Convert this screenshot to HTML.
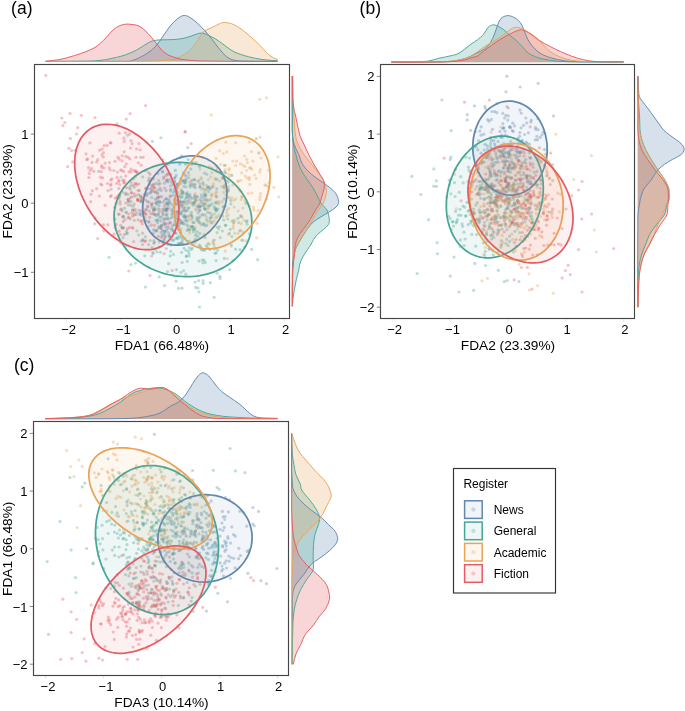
<!DOCTYPE html>
<html><head><meta charset="utf-8"><title>FDA plots</title>
<style>html,body{margin:0;padding:0;background:#fff;} svg{display:block;filter:blur(0.35px);} .n{fill:#6188AF;fill-opacity:0.36} .g{fill:#47A698;fill-opacity:0.36} .k{fill:#E8A457;fill-opacity:0.36} .f{fill:#E55C62;fill-opacity:0.36}</style></head>
<body><svg width="685" height="711" viewBox="0 0 685 711">
<rect width="685" height="711" fill="#fff"/>
<path d="M45.5,61.5 L45.5,61.4 C70.3,61.4 95.2,61.5 120.0,61.3 C123.8,61.3 127.8,61.8 131.4,60.8 C136.2,59.5 141.0,57.1 145.3,54.5 C149.0,52.3 152.5,49.6 155.5,46.5 C158.4,43.5 160.5,39.7 163.0,36.3 C165.4,32.9 167.5,29.3 170.1,26.1 C172.3,23.5 174.7,20.9 177.4,18.8 C179.4,17.3 181.8,15.6 184.1,15.4 C186.0,15.2 188.2,16.5 190.0,17.5 C192.6,19.0 195.0,21.1 197.3,23.1 C199.9,25.4 202.3,27.9 204.6,30.4 C207.2,33.2 209.5,36.2 211.9,39.2 C214.4,42.3 216.6,45.6 219.2,48.7 C221.5,51.5 223.7,54.5 226.5,56.7 C228.6,58.4 231.3,59.6 234.0,60.2 C238.5,61.1 243.3,61.1 248.0,61.2 C257.9,61.5 267.7,61.3 277.6,61.4 L277.6,61.5 Z" fill="#6188AF" fill-opacity="0.25" stroke="none"/>
<path d="M45.5,61.5 L45.5,61.4 C57.0,61.3 68.5,61.4 80.0,61.2 C86.7,61.1 93.4,61.2 100.0,60.4 C107.4,59.5 114.8,58.0 121.9,56.0 C126.9,54.6 131.8,52.4 136.5,50.1 C140.6,48.0 144.2,45.0 148.2,42.8 C149.8,41.9 151.5,41.1 153.3,40.7 C155.5,40.2 157.8,40.0 160.0,39.9 C165.0,39.6 170.0,39.9 175.0,39.5 C178.7,39.2 182.4,38.6 186.0,37.7 C188.7,37.1 191.3,35.8 194.0,35.0 C196.5,34.3 199.2,32.8 201.7,33.1 C205.2,33.5 208.6,35.4 211.9,37.0 C214.5,38.2 216.8,39.8 219.2,41.4 C224.1,44.7 228.6,48.9 233.8,51.6 C238.3,54.0 243.4,55.3 248.4,56.7 C253.2,58.0 258.1,58.9 263.0,59.6 C267.8,60.3 272.7,60.4 277.6,60.8 L277.6,61.5 Z" fill="#47A698" fill-opacity="0.25" stroke="none"/>
<path d="M45.5,61.5 L45.5,61.4 C80.3,61.3 115.2,61.5 150.0,61.2 C155.0,61.2 160.0,60.9 165.0,60.4 C168.4,60.1 171.8,59.9 175.0,58.9 C178.6,57.7 182.2,55.9 185.4,53.8 C188.4,51.8 191.1,49.2 193.4,46.5 C196.0,43.4 197.6,39.6 200.0,36.3 C201.4,34.4 202.7,32.3 204.6,30.9 C206.7,29.3 209.5,28.7 211.9,27.5 C214.3,26.3 216.7,24.9 219.2,23.9 C220.9,23.2 222.7,22.3 224.5,22.4 C227.6,22.5 230.9,23.4 233.8,24.6 C236.4,25.6 238.8,27.4 241.1,29.0 C243.6,30.8 246.0,32.8 248.4,34.8 C250.9,36.9 253.3,39.1 255.7,41.4 C258.2,43.8 260.6,46.3 263.0,48.7 C265.4,51.1 267.6,54.0 270.3,56.0 C272.4,57.6 275.2,58.4 277.6,59.6 L277.6,61.5 Z" fill="#E8A457" fill-opacity="0.25" stroke="none"/>
<path d="M45.5,61.5 L45.5,61.3 C50.3,60.7 55.2,60.4 60.0,59.5 C64.9,58.5 69.6,57.0 74.4,55.6 C78.3,54.4 82.2,53.1 86.0,51.6 C88.7,50.5 91.5,49.5 94.0,48.0 C96.3,46.7 98.5,45.0 100.5,43.2 C102.7,41.3 104.7,39.1 106.7,37.0 C108.5,35.1 110.1,32.9 112.0,31.0 C113.4,29.6 115.0,28.4 116.6,27.3 C118.0,26.4 119.5,25.7 121.0,25.2 C122.8,24.6 124.7,24.2 126.6,24.1 C128.7,24.0 130.9,24.3 133.0,24.6 C135.0,24.9 137.2,25.1 139.0,26.0 C141.2,27.1 143.2,28.8 145.0,30.5 C147.3,32.6 149.4,34.9 151.4,37.2 C153.0,39.1 154.5,41.1 156.0,43.0 C157.8,45.2 159.4,47.6 161.3,49.6 C162.7,51.1 164.3,52.3 166.0,53.5 C167.2,54.4 168.6,55.2 170.0,55.8 C173.2,57.1 176.6,58.2 180.0,59.0 C183.3,59.7 186.7,60.0 190.0,60.3 C193.3,60.6 196.7,60.8 200.0,60.9 C210.0,61.1 220.0,61.2 230.0,61.3 C245.9,61.4 261.7,61.3 277.6,61.3 L277.6,61.5 Z" fill="#E55C62" fill-opacity="0.25" stroke="none"/>
<path d="M45.5,61.4 C70.3,61.4 95.2,61.5 120.0,61.3 C123.8,61.3 127.8,61.8 131.4,60.8 C136.2,59.5 141.0,57.1 145.3,54.5 C149.0,52.3 152.5,49.6 155.5,46.5 C158.4,43.5 160.5,39.7 163.0,36.3 C165.4,32.9 167.5,29.3 170.1,26.1 C172.3,23.5 174.7,20.9 177.4,18.8 C179.4,17.3 181.8,15.6 184.1,15.4 C186.0,15.2 188.2,16.5 190.0,17.5 C192.6,19.0 195.0,21.1 197.3,23.1 C199.9,25.4 202.3,27.9 204.6,30.4 C207.2,33.2 209.5,36.2 211.9,39.2 C214.4,42.3 216.6,45.6 219.2,48.7 C221.5,51.5 223.7,54.5 226.5,56.7 C228.6,58.4 231.3,59.6 234.0,60.2 C238.5,61.1 243.3,61.1 248.0,61.2 C257.9,61.5 267.7,61.3 277.6,61.4" fill="none" stroke="#6188AF" stroke-width="0.95"/>
<path d="M45.5,61.4 C57.0,61.3 68.5,61.4 80.0,61.2 C86.7,61.1 93.4,61.2 100.0,60.4 C107.4,59.5 114.8,58.0 121.9,56.0 C126.9,54.6 131.8,52.4 136.5,50.1 C140.6,48.0 144.2,45.0 148.2,42.8 C149.8,41.9 151.5,41.1 153.3,40.7 C155.5,40.2 157.8,40.0 160.0,39.9 C165.0,39.6 170.0,39.9 175.0,39.5 C178.7,39.2 182.4,38.6 186.0,37.7 C188.7,37.1 191.3,35.8 194.0,35.0 C196.5,34.3 199.2,32.8 201.7,33.1 C205.2,33.5 208.6,35.4 211.9,37.0 C214.5,38.2 216.8,39.8 219.2,41.4 C224.1,44.7 228.6,48.9 233.8,51.6 C238.3,54.0 243.4,55.3 248.4,56.7 C253.2,58.0 258.1,58.9 263.0,59.6 C267.8,60.3 272.7,60.4 277.6,60.8" fill="none" stroke="#47A698" stroke-width="0.95"/>
<path d="M45.5,61.4 C80.3,61.3 115.2,61.5 150.0,61.2 C155.0,61.2 160.0,60.9 165.0,60.4 C168.4,60.1 171.8,59.9 175.0,58.9 C178.6,57.7 182.2,55.9 185.4,53.8 C188.4,51.8 191.1,49.2 193.4,46.5 C196.0,43.4 197.6,39.6 200.0,36.3 C201.4,34.4 202.7,32.3 204.6,30.9 C206.7,29.3 209.5,28.7 211.9,27.5 C214.3,26.3 216.7,24.9 219.2,23.9 C220.9,23.2 222.7,22.3 224.5,22.4 C227.6,22.5 230.9,23.4 233.8,24.6 C236.4,25.6 238.8,27.4 241.1,29.0 C243.6,30.8 246.0,32.8 248.4,34.8 C250.9,36.9 253.3,39.1 255.7,41.4 C258.2,43.8 260.6,46.3 263.0,48.7 C265.4,51.1 267.6,54.0 270.3,56.0 C272.4,57.6 275.2,58.4 277.6,59.6" fill="none" stroke="#E8A457" stroke-width="0.95"/>
<path d="M45.5,61.3 C50.3,60.7 55.2,60.4 60.0,59.5 C64.9,58.5 69.6,57.0 74.4,55.6 C78.3,54.4 82.2,53.1 86.0,51.6 C88.7,50.5 91.5,49.5 94.0,48.0 C96.3,46.7 98.5,45.0 100.5,43.2 C102.7,41.3 104.7,39.1 106.7,37.0 C108.5,35.1 110.1,32.9 112.0,31.0 C113.4,29.6 115.0,28.4 116.6,27.3 C118.0,26.4 119.5,25.7 121.0,25.2 C122.8,24.6 124.7,24.2 126.6,24.1 C128.7,24.0 130.9,24.3 133.0,24.6 C135.0,24.9 137.2,25.1 139.0,26.0 C141.2,27.1 143.2,28.8 145.0,30.5 C147.3,32.6 149.4,34.9 151.4,37.2 C153.0,39.1 154.5,41.1 156.0,43.0 C157.8,45.2 159.4,47.6 161.3,49.6 C162.7,51.1 164.3,52.3 166.0,53.5 C167.2,54.4 168.6,55.2 170.0,55.8 C173.2,57.1 176.6,58.2 180.0,59.0 C183.3,59.7 186.7,60.0 190.0,60.3 C193.3,60.6 196.7,60.8 200.0,60.9 C210.0,61.1 220.0,61.2 230.0,61.3 C245.9,61.4 261.7,61.3 277.6,61.3" fill="none" stroke="#E55C62" stroke-width="0.95"/>
<path d="M292.2,76.0 L292.2,76.0 C292.2,90.7 292.3,105.3 292.3,120.0 C292.3,125.0 292.0,130.0 292.4,135.0 C292.7,138.3 293.4,141.7 294.4,144.9 C295.5,148.3 297.4,151.4 298.8,154.7 C300.2,158.0 300.8,161.7 302.7,164.6 C305.1,168.2 308.3,171.5 311.6,174.4 C314.9,177.4 318.9,179.7 322.5,182.3 C324.8,183.9 327.2,185.4 329.3,187.2 C331.8,189.3 334.5,191.4 336.2,194.1 C337.6,196.2 338.4,199.0 338.6,201.5 C338.7,203.0 338.1,204.7 337.2,205.9 C336.0,207.5 334.0,208.7 332.3,209.9 C329.8,211.7 327.0,213.2 324.4,214.8 C321.8,216.4 319.0,217.9 316.5,219.7 C314.4,221.2 312.3,222.7 310.6,224.6 C308.0,227.6 305.9,231.1 303.7,234.5 C301.6,237.7 299.6,240.9 297.8,244.3 C296.6,246.5 295.5,248.8 294.9,251.2 C293.8,255.7 292.8,260.4 292.6,265.0 C291.9,278.7 292.3,292.5 292.2,306.3 L292.2,306.3 Z" fill="#6188AF" fill-opacity="0.25" stroke="none"/>
<path d="M292.2,76.0 L292.2,76.0 C292.2,94.0 292.0,112.0 292.3,130.0 C292.4,135.0 292.7,140.0 293.4,144.9 C293.9,148.2 295.0,151.4 295.9,154.7 C296.8,158.0 297.5,161.4 298.8,164.6 C300.1,168.0 301.8,171.3 303.7,174.4 C305.8,177.8 308.4,180.9 310.6,184.3 C312.7,187.5 314.7,190.8 316.5,194.1 C318.3,197.3 319.5,200.9 321.5,204.0 C323.0,206.2 325.8,207.6 326.9,209.9 C328.4,212.8 329.0,216.4 329.3,219.7 C329.5,221.3 329.2,223.2 328.4,224.6 C327.2,226.5 325.1,228.0 323.4,229.6 C321.5,231.3 319.3,232.7 317.5,234.5 C316.0,236.0 314.7,237.7 313.6,239.4 C312.6,240.9 312.0,242.7 311.1,244.3 C310.1,246.0 308.8,247.6 307.7,249.3 C306.0,251.9 304.2,254.4 302.7,257.1 C301.5,259.3 300.5,261.6 299.8,264.0 C299.2,265.9 299.2,268.0 298.8,269.9 C298.1,273.2 297.0,276.4 296.3,279.7 C295.6,283.0 295.0,286.3 294.4,289.6 C293.8,292.9 293.3,296.1 292.9,299.4 C292.6,301.7 292.6,304.0 292.4,306.3 L292.2,306.3 Z" fill="#47A698" fill-opacity="0.25" stroke="none"/>
<path d="M292.2,76.0 L292.8,76.0 C292.9,84.0 292.9,92.0 293.2,100.0 C293.4,106.7 293.8,113.3 294.2,120.0 C294.5,125.0 294.6,130.1 295.4,135.0 C296.0,138.4 296.9,141.8 298.3,144.9 C299.8,148.4 302.0,151.6 304.2,154.7 C306.6,158.2 309.5,161.3 312.1,164.6 C314.6,167.8 317.1,171.1 319.5,174.4 C321.1,176.6 322.8,178.8 323.9,181.3 C325.1,184.1 326.1,187.2 326.4,190.2 C326.6,192.5 326.0,194.9 325.4,197.1 C324.8,199.5 324.1,201.9 323.0,204.0 C321.8,206.1 319.9,207.8 318.5,209.9 C316.4,213.1 314.6,216.4 312.6,219.7 C310.6,223.0 308.7,226.3 306.7,229.6 C304.7,232.9 302.8,236.1 300.8,239.4 C299.2,242.0 296.9,244.4 295.9,247.3 C294.6,251.0 294.4,255.1 293.9,259.1 C293.3,264.4 292.8,269.7 292.6,275.0 C292.2,285.4 292.4,295.9 292.3,306.3 L292.2,306.3 Z" fill="#E8A457" fill-opacity="0.25" stroke="none"/>
<path d="M292.2,76.0 L292.5,76.0 C292.5,80.7 292.5,85.3 292.6,90.0 C292.7,94.5 292.5,99.0 293.0,103.5 C293.6,108.1 294.9,112.7 295.9,117.3 C297.2,123.2 298.1,129.2 299.8,135.0 C300.8,138.4 302.7,141.6 304.2,144.9 C305.7,148.2 307.1,151.5 308.7,154.7 C310.4,158.1 312.2,161.3 314.1,164.6 C316.0,167.9 318.1,171.1 320.0,174.4 C321.5,177.0 323.5,179.5 324.2,182.3 C324.8,184.4 324.3,186.9 323.9,189.2 C323.5,191.5 322.7,193.8 322.0,196.1 C321.2,198.7 320.7,201.5 319.5,204.0 C318.5,206.1 316.8,207.9 315.6,209.9 C313.7,213.1 312.1,216.5 310.1,219.7 C308.0,223.1 305.5,226.3 303.2,229.6 C301.4,232.2 299.3,234.6 297.8,237.4 C296.7,239.5 295.9,241.9 295.4,244.3 C294.7,247.5 294.7,250.9 294.4,254.2 C293.9,259.1 293.0,264.0 292.8,269.0 C292.3,281.4 292.5,293.9 292.3,306.3 L292.2,306.3 Z" fill="#E55C62" fill-opacity="0.25" stroke="none"/>
<path d="M292.2,76.0 C292.2,90.7 292.3,105.3 292.3,120.0 C292.3,125.0 292.0,130.0 292.4,135.0 C292.7,138.3 293.4,141.7 294.4,144.9 C295.5,148.3 297.4,151.4 298.8,154.7 C300.2,158.0 300.8,161.7 302.7,164.6 C305.1,168.2 308.3,171.5 311.6,174.4 C314.9,177.4 318.9,179.7 322.5,182.3 C324.8,183.9 327.2,185.4 329.3,187.2 C331.8,189.3 334.5,191.4 336.2,194.1 C337.6,196.2 338.4,199.0 338.6,201.5 C338.7,203.0 338.1,204.7 337.2,205.9 C336.0,207.5 334.0,208.7 332.3,209.9 C329.8,211.7 327.0,213.2 324.4,214.8 C321.8,216.4 319.0,217.9 316.5,219.7 C314.4,221.2 312.3,222.7 310.6,224.6 C308.0,227.6 305.9,231.1 303.7,234.5 C301.6,237.7 299.6,240.9 297.8,244.3 C296.6,246.5 295.5,248.8 294.9,251.2 C293.8,255.7 292.8,260.4 292.6,265.0 C291.9,278.7 292.3,292.5 292.2,306.3" fill="none" stroke="#6188AF" stroke-width="0.95"/>
<path d="M292.2,76.0 C292.2,94.0 292.0,112.0 292.3,130.0 C292.4,135.0 292.7,140.0 293.4,144.9 C293.9,148.2 295.0,151.4 295.9,154.7 C296.8,158.0 297.5,161.4 298.8,164.6 C300.1,168.0 301.8,171.3 303.7,174.4 C305.8,177.8 308.4,180.9 310.6,184.3 C312.7,187.5 314.7,190.8 316.5,194.1 C318.3,197.3 319.5,200.9 321.5,204.0 C323.0,206.2 325.8,207.6 326.9,209.9 C328.4,212.8 329.0,216.4 329.3,219.7 C329.5,221.3 329.2,223.2 328.4,224.6 C327.2,226.5 325.1,228.0 323.4,229.6 C321.5,231.3 319.3,232.7 317.5,234.5 C316.0,236.0 314.7,237.7 313.6,239.4 C312.6,240.9 312.0,242.7 311.1,244.3 C310.1,246.0 308.8,247.6 307.7,249.3 C306.0,251.9 304.2,254.4 302.7,257.1 C301.5,259.3 300.5,261.6 299.8,264.0 C299.2,265.9 299.2,268.0 298.8,269.9 C298.1,273.2 297.0,276.4 296.3,279.7 C295.6,283.0 295.0,286.3 294.4,289.6 C293.8,292.9 293.3,296.1 292.9,299.4 C292.6,301.7 292.6,304.0 292.4,306.3" fill="none" stroke="#47A698" stroke-width="0.95"/>
<path d="M292.8,76.0 C292.9,84.0 292.9,92.0 293.2,100.0 C293.4,106.7 293.8,113.3 294.2,120.0 C294.5,125.0 294.6,130.1 295.4,135.0 C296.0,138.4 296.9,141.8 298.3,144.9 C299.8,148.4 302.0,151.6 304.2,154.7 C306.6,158.2 309.5,161.3 312.1,164.6 C314.6,167.8 317.1,171.1 319.5,174.4 C321.1,176.6 322.8,178.8 323.9,181.3 C325.1,184.1 326.1,187.2 326.4,190.2 C326.6,192.5 326.0,194.9 325.4,197.1 C324.8,199.5 324.1,201.9 323.0,204.0 C321.8,206.1 319.9,207.8 318.5,209.9 C316.4,213.1 314.6,216.4 312.6,219.7 C310.6,223.0 308.7,226.3 306.7,229.6 C304.7,232.9 302.8,236.1 300.8,239.4 C299.2,242.0 296.9,244.4 295.9,247.3 C294.6,251.0 294.4,255.1 293.9,259.1 C293.3,264.4 292.8,269.7 292.6,275.0 C292.2,285.4 292.4,295.9 292.3,306.3" fill="none" stroke="#E8A457" stroke-width="0.95"/>
<path d="M292.5,76.0 C292.5,80.7 292.5,85.3 292.6,90.0 C292.7,94.5 292.5,99.0 293.0,103.5 C293.6,108.1 294.9,112.7 295.9,117.3 C297.2,123.2 298.1,129.2 299.8,135.0 C300.8,138.4 302.7,141.6 304.2,144.9 C305.7,148.2 307.1,151.5 308.7,154.7 C310.4,158.1 312.2,161.3 314.1,164.6 C316.0,167.9 318.1,171.1 320.0,174.4 C321.5,177.0 323.5,179.5 324.2,182.3 C324.8,184.4 324.3,186.9 323.9,189.2 C323.5,191.5 322.7,193.8 322.0,196.1 C321.2,198.7 320.7,201.5 319.5,204.0 C318.5,206.1 316.8,207.9 315.6,209.9 C313.7,213.1 312.1,216.5 310.1,219.7 C308.0,223.1 305.5,226.3 303.2,229.6 C301.4,232.2 299.3,234.6 297.8,237.4 C296.7,239.5 295.9,241.9 295.4,244.3 C294.7,247.5 294.7,250.9 294.4,254.2 C293.9,259.1 293.0,264.0 292.8,269.0 C292.3,281.4 292.5,293.9 292.3,306.3" fill="none" stroke="#E55C62" stroke-width="0.95"/>
<path d="M391.4,62.2 L391.4,62.0 C407.6,62.0 423.8,62.2 440.0,61.9 C445.0,61.8 450.0,61.5 455.0,60.8 C458.4,60.3 461.7,59.4 465.0,58.5 C466.7,58.0 468.4,57.2 470.0,56.5 C472.4,55.4 474.7,54.2 477.0,53.0 C479.6,51.7 482.3,50.5 484.6,48.8 C486.8,47.1 488.9,45.0 490.4,42.7 C492.4,39.7 493.6,36.2 495.0,32.8 C496.3,29.5 497.0,26.0 498.5,22.8 C499.4,20.9 500.4,18.8 502.0,17.6 C503.6,16.4 505.9,15.7 507.9,15.6 C509.8,15.5 511.9,16.4 513.7,17.2 C515.4,18.0 517.0,19.2 518.4,20.5 C519.8,21.8 521.0,23.5 521.9,25.2 C523.1,27.4 523.8,29.9 524.8,32.2 C525.8,34.5 526.5,37.0 527.7,39.2 C529.0,41.7 530.5,44.1 532.4,46.2 C534.7,48.8 537.2,51.4 540.1,53.2 C543.2,55.2 546.8,56.5 550.3,57.6 C555.0,59.1 560.0,60.2 564.9,60.9 C569.9,61.6 575.0,61.6 580.0,61.7 C594.5,61.9 609.1,61.8 623.6,61.9 L623.6,62.2 Z" fill="#6188AF" fill-opacity="0.25" stroke="none"/>
<path d="M391.4,62.2 L391.4,62.0 C397.6,62.0 403.8,62.0 410.0,61.9 C416.0,61.8 422.1,61.9 428.0,61.2 C431.6,60.7 435.1,59.1 438.7,58.3 C443.3,57.2 448.0,56.6 452.6,55.4 C454.8,54.9 457.0,54.2 459.0,53.2 C461.1,52.1 462.8,50.5 464.7,49.1 C466.8,47.5 468.8,45.6 471.0,44.0 C473.1,42.5 475.5,41.4 477.5,39.8 C479.6,38.2 481.7,36.5 483.4,34.5 C485.2,32.4 486.2,29.6 488.0,27.5 C488.9,26.5 490.2,25.7 491.5,25.2 C492.6,24.8 493.9,24.8 495.0,25.0 C496.2,25.2 497.4,25.8 498.5,26.4 C500.1,27.3 501.7,28.2 503.2,29.3 C505.2,30.9 507.0,32.8 509.0,34.5 C511.3,36.5 513.8,38.3 516.0,40.4 C518.4,42.6 520.7,45.0 523.0,47.4 C524.8,49.3 526.3,51.7 528.4,53.2 C530.5,54.8 533.2,55.8 535.7,56.8 C538.1,57.7 540.5,58.5 543.0,59.0 C547.8,60.0 552.7,60.8 557.6,61.2 C565.0,61.8 572.5,61.8 580.0,61.9 C594.5,62.1 609.1,62.0 623.6,62.0 L623.6,62.2 Z" fill="#47A698" fill-opacity="0.25" stroke="none"/>
<path d="M391.4,62.2 L391.4,62.0 C407.6,61.9 423.8,62.1 440.0,61.8 C445.0,61.7 450.0,61.3 455.0,60.8 C457.4,60.6 459.7,60.1 462.0,59.5 C464.7,58.8 467.6,58.2 470.0,56.8 C475.1,53.9 479.6,49.8 484.6,46.6 C489.4,43.5 494.5,40.9 499.2,37.8 C503.2,35.1 506.8,31.6 510.9,29.1 C512.6,28.1 514.8,27.0 516.7,27.2 C519.7,27.5 522.7,29.1 525.5,30.5 C529.1,32.4 532.5,34.6 535.7,37.1 C538.4,39.2 540.6,42.0 543.0,44.4 C545.4,46.8 547.5,49.7 550.3,51.7 C553.4,53.9 556.9,55.7 560.5,57.1 C564.1,58.5 567.9,59.6 571.7,60.3 C576.1,61.1 580.6,61.4 585.0,61.5 C597.9,61.8 610.7,61.6 623.6,61.6 L623.6,62.2 Z" fill="#E8A457" fill-opacity="0.25" stroke="none"/>
<path d="M391.4,62.2 L391.4,62.0 C409.3,62.0 427.1,62.2 445.0,61.9 C449.3,61.8 453.7,61.5 458.0,61.0 C460.7,60.7 463.4,60.4 466.0,59.7 C468.1,59.2 470.0,58.1 472.0,57.5 C473.7,56.9 475.7,57.0 477.3,56.1 C479.9,54.6 482.1,52.1 484.6,50.3 C489.4,46.8 494.2,43.2 499.2,40.0 C503.0,37.6 506.9,35.4 510.9,33.5 C514.2,32.0 517.7,30.0 521.1,29.8 C523.5,29.7 526.2,31.4 528.4,32.7 C532.0,34.8 535.1,37.8 538.6,40.0 C542.4,42.4 546.3,44.5 550.3,46.6 C553.6,48.4 557.1,50.0 560.5,51.5 C564.2,53.2 567.9,54.8 571.7,56.2 C575.5,57.6 579.4,58.8 583.4,59.7 C587.2,60.6 591.1,61.2 595.0,61.5 C600.0,61.9 605.0,61.7 610.0,61.8 C614.5,61.8 619.1,61.8 623.6,61.8 L623.6,62.2 Z" fill="#E55C62" fill-opacity="0.25" stroke="none"/>
<path d="M391.4,62.0 C407.6,62.0 423.8,62.2 440.0,61.9 C445.0,61.8 450.0,61.5 455.0,60.8 C458.4,60.3 461.7,59.4 465.0,58.5 C466.7,58.0 468.4,57.2 470.0,56.5 C472.4,55.4 474.7,54.2 477.0,53.0 C479.6,51.7 482.3,50.5 484.6,48.8 C486.8,47.1 488.9,45.0 490.4,42.7 C492.4,39.7 493.6,36.2 495.0,32.8 C496.3,29.5 497.0,26.0 498.5,22.8 C499.4,20.9 500.4,18.8 502.0,17.6 C503.6,16.4 505.9,15.7 507.9,15.6 C509.8,15.5 511.9,16.4 513.7,17.2 C515.4,18.0 517.0,19.2 518.4,20.5 C519.8,21.8 521.0,23.5 521.9,25.2 C523.1,27.4 523.8,29.9 524.8,32.2 C525.8,34.5 526.5,37.0 527.7,39.2 C529.0,41.7 530.5,44.1 532.4,46.2 C534.7,48.8 537.2,51.4 540.1,53.2 C543.2,55.2 546.8,56.5 550.3,57.6 C555.0,59.1 560.0,60.2 564.9,60.9 C569.9,61.6 575.0,61.6 580.0,61.7 C594.5,61.9 609.1,61.8 623.6,61.9" fill="none" stroke="#6188AF" stroke-width="0.95"/>
<path d="M391.4,62.0 C397.6,62.0 403.8,62.0 410.0,61.9 C416.0,61.8 422.1,61.9 428.0,61.2 C431.6,60.7 435.1,59.1 438.7,58.3 C443.3,57.2 448.0,56.6 452.6,55.4 C454.8,54.9 457.0,54.2 459.0,53.2 C461.1,52.1 462.8,50.5 464.7,49.1 C466.8,47.5 468.8,45.6 471.0,44.0 C473.1,42.5 475.5,41.4 477.5,39.8 C479.6,38.2 481.7,36.5 483.4,34.5 C485.2,32.4 486.2,29.6 488.0,27.5 C488.9,26.5 490.2,25.7 491.5,25.2 C492.6,24.8 493.9,24.8 495.0,25.0 C496.2,25.2 497.4,25.8 498.5,26.4 C500.1,27.3 501.7,28.2 503.2,29.3 C505.2,30.9 507.0,32.8 509.0,34.5 C511.3,36.5 513.8,38.3 516.0,40.4 C518.4,42.6 520.7,45.0 523.0,47.4 C524.8,49.3 526.3,51.7 528.4,53.2 C530.5,54.8 533.2,55.8 535.7,56.8 C538.1,57.7 540.5,58.5 543.0,59.0 C547.8,60.0 552.7,60.8 557.6,61.2 C565.0,61.8 572.5,61.8 580.0,61.9 C594.5,62.1 609.1,62.0 623.6,62.0" fill="none" stroke="#47A698" stroke-width="0.95"/>
<path d="M391.4,62.0 C407.6,61.9 423.8,62.1 440.0,61.8 C445.0,61.7 450.0,61.3 455.0,60.8 C457.4,60.6 459.7,60.1 462.0,59.5 C464.7,58.8 467.6,58.2 470.0,56.8 C475.1,53.9 479.6,49.8 484.6,46.6 C489.4,43.5 494.5,40.9 499.2,37.8 C503.2,35.1 506.8,31.6 510.9,29.1 C512.6,28.1 514.8,27.0 516.7,27.2 C519.7,27.5 522.7,29.1 525.5,30.5 C529.1,32.4 532.5,34.6 535.7,37.1 C538.4,39.2 540.6,42.0 543.0,44.4 C545.4,46.8 547.5,49.7 550.3,51.7 C553.4,53.9 556.9,55.7 560.5,57.1 C564.1,58.5 567.9,59.6 571.7,60.3 C576.1,61.1 580.6,61.4 585.0,61.5 C597.9,61.8 610.7,61.6 623.6,61.6" fill="none" stroke="#E8A457" stroke-width="0.95"/>
<path d="M391.4,62.0 C409.3,62.0 427.1,62.2 445.0,61.9 C449.3,61.8 453.7,61.5 458.0,61.0 C460.7,60.7 463.4,60.4 466.0,59.7 C468.1,59.2 470.0,58.1 472.0,57.5 C473.7,56.9 475.7,57.0 477.3,56.1 C479.9,54.6 482.1,52.1 484.6,50.3 C489.4,46.8 494.2,43.2 499.2,40.0 C503.0,37.6 506.9,35.4 510.9,33.5 C514.2,32.0 517.7,30.0 521.1,29.8 C523.5,29.7 526.2,31.4 528.4,32.7 C532.0,34.8 535.1,37.8 538.6,40.0 C542.4,42.4 546.3,44.5 550.3,46.6 C553.6,48.4 557.1,50.0 560.5,51.5 C564.2,53.2 567.9,54.8 571.7,56.2 C575.5,57.6 579.4,58.8 583.4,59.7 C587.2,60.6 591.1,61.2 595.0,61.5 C600.0,61.9 605.0,61.7 610.0,61.8 C614.5,61.8 619.1,61.8 623.6,61.8" fill="none" stroke="#E55C62" stroke-width="0.95"/>
<path d="M637.7,76.3 L638.2,76.3 C638.3,79.2 638.3,82.1 638.4,85.0 C638.5,88.2 638.5,91.4 638.9,94.5 C639.1,95.9 639.6,97.3 640.3,98.5 C641.6,100.6 643.3,102.4 644.8,104.4 C646.8,107.0 648.8,109.6 650.7,112.2 C652.4,114.5 654.0,116.8 655.6,119.1 C657.2,121.4 658.8,123.7 660.5,126.0 C661.5,127.3 662.3,128.8 663.5,130.0 C665.3,131.8 667.4,133.3 669.4,134.9 C671.6,136.6 674.1,138.1 676.3,139.8 C678.3,141.4 680.7,142.8 682.2,144.8 C683.3,146.1 684.3,148.1 684.1,149.7 C683.9,151.4 682.6,153.4 681.2,154.6 C678.7,156.7 675.2,157.8 672.3,159.5 C669.6,161.1 666.9,162.6 664.4,164.4 C662.3,165.9 660.3,167.6 658.5,169.4 C657.0,170.9 655.8,172.6 654.6,174.3 C653.5,175.9 652.8,177.7 651.7,179.2 C650.5,180.9 649.0,182.5 647.7,184.1 C646.4,185.8 644.9,187.3 643.8,189.1 C642.9,190.6 642.4,192.3 641.8,194.0 C641.2,195.6 640.7,197.2 640.3,198.9 C639.9,200.8 639.7,202.8 639.4,204.8 C638.9,208.1 638.0,211.4 637.9,214.7 C637.4,245.5 637.8,276.4 637.8,307.2 L637.7,307.2 Z" fill="#6188AF" fill-opacity="0.25" stroke="none"/>
<path d="M637.7,76.3 L637.8,76.3 C638.0,84.2 638.0,92.1 638.3,100.0 C638.5,105.0 639.2,110.0 639.5,115.0 C639.7,118.3 639.7,121.7 639.8,125.0 C639.9,126.7 639.8,128.4 640.0,130.0 C640.4,133.3 640.9,136.6 641.8,139.8 C642.8,143.2 644.2,146.5 645.7,149.7 C647.3,153.1 649.3,156.3 651.2,159.5 C653.2,162.9 655.4,166.1 657.6,169.4 C659.8,172.7 662.3,175.8 664.4,179.2 C665.6,181.1 666.5,183.1 667.4,185.1 C668.0,186.4 668.7,187.7 668.9,189.1 C669.2,192.3 669.3,195.7 668.9,198.9 C668.6,200.9 667.5,202.8 666.9,204.8 C666.0,208.1 665.9,211.8 664.4,214.7 C662.5,218.3 659.1,221.2 656.6,224.5 C654.2,227.7 651.6,230.9 649.7,234.4 C648.0,237.5 647.0,240.9 645.7,244.2 C644.4,247.5 642.9,250.7 641.8,254.1 C640.8,257.3 639.9,260.6 639.4,263.9 C638.8,267.6 638.5,271.3 638.4,275.0 C638.0,285.7 638.0,296.5 637.8,307.2 L637.7,307.2 Z" fill="#47A698" fill-opacity="0.25" stroke="none"/>
<path d="M637.7,76.3 L637.8,76.3 C638.1,89.2 638.4,102.1 638.8,115.0 C638.9,120.0 638.8,125.1 639.4,130.0 C639.8,133.3 640.8,136.6 641.8,139.8 C642.9,143.2 644.2,146.5 645.7,149.7 C647.3,153.1 649.3,156.3 651.2,159.5 C653.2,162.9 655.4,166.1 657.6,169.4 C659.8,172.7 662.3,175.8 664.4,179.2 C665.6,181.1 666.5,183.1 667.4,185.1 C668.0,186.4 668.7,187.7 668.9,189.1 C669.4,192.3 669.9,195.8 669.4,198.9 C669.1,201.0 667.3,202.8 666.4,204.8 C665.0,208.0 663.9,211.4 662.5,214.7 C661.1,218.0 659.4,221.2 658.0,224.5 C656.6,227.8 655.5,231.2 654.1,234.4 C652.6,237.7 650.8,240.9 649.2,244.2 C647.6,247.5 645.7,250.7 644.3,254.1 C642.9,257.3 641.6,260.5 640.8,263.9 C639.9,267.5 639.4,271.3 639.2,275.0 C638.5,285.7 638.3,296.5 637.9,307.2 L637.7,307.2 Z" fill="#E8A457" fill-opacity="0.25" stroke="none"/>
<path d="M637.7,76.3 L637.8,76.3 C637.8,90.9 637.9,105.4 637.9,120.0 C637.9,123.3 637.7,126.7 637.9,130.0 C638.1,133.3 638.3,136.6 638.9,139.8 C639.6,143.2 640.4,146.6 641.8,149.7 C643.3,153.2 645.6,156.3 647.7,159.5 C649.9,162.9 652.2,166.2 654.6,169.4 C657.1,172.8 660.0,175.8 662.5,179.2 C663.9,181.1 665.3,183.0 666.4,185.1 C667.1,186.3 667.7,187.7 667.9,189.1 C668.4,192.3 668.4,195.6 668.4,198.9 C668.4,200.9 668.1,202.8 667.9,204.8 C667.6,208.1 668.0,211.7 666.9,214.7 C665.6,218.2 662.6,221.2 660.5,224.5 C658.5,227.8 656.4,231.0 654.6,234.4 C652.8,237.6 651.4,241.0 649.7,244.2 C648.0,247.5 645.8,250.7 644.3,254.1 C643.0,257.2 642.1,260.6 641.3,263.9 C640.5,267.4 639.8,271.1 639.4,274.7 C638.8,279.8 638.5,284.9 638.3,290.0 C638.1,295.7 638.1,301.5 638.0,307.2 L637.7,307.2 Z" fill="#E55C62" fill-opacity="0.25" stroke="none"/>
<path d="M638.2,76.3 C638.3,79.2 638.3,82.1 638.4,85.0 C638.5,88.2 638.5,91.4 638.9,94.5 C639.1,95.9 639.6,97.3 640.3,98.5 C641.6,100.6 643.3,102.4 644.8,104.4 C646.8,107.0 648.8,109.6 650.7,112.2 C652.4,114.5 654.0,116.8 655.6,119.1 C657.2,121.4 658.8,123.7 660.5,126.0 C661.5,127.3 662.3,128.8 663.5,130.0 C665.3,131.8 667.4,133.3 669.4,134.9 C671.6,136.6 674.1,138.1 676.3,139.8 C678.3,141.4 680.7,142.8 682.2,144.8 C683.3,146.1 684.3,148.1 684.1,149.7 C683.9,151.4 682.6,153.4 681.2,154.6 C678.7,156.7 675.2,157.8 672.3,159.5 C669.6,161.1 666.9,162.6 664.4,164.4 C662.3,165.9 660.3,167.6 658.5,169.4 C657.0,170.9 655.8,172.6 654.6,174.3 C653.5,175.9 652.8,177.7 651.7,179.2 C650.5,180.9 649.0,182.5 647.7,184.1 C646.4,185.8 644.9,187.3 643.8,189.1 C642.9,190.6 642.4,192.3 641.8,194.0 C641.2,195.6 640.7,197.2 640.3,198.9 C639.9,200.8 639.7,202.8 639.4,204.8 C638.9,208.1 638.0,211.4 637.9,214.7 C637.4,245.5 637.8,276.4 637.8,307.2" fill="none" stroke="#6188AF" stroke-width="0.95"/>
<path d="M637.8,76.3 C638.0,84.2 638.0,92.1 638.3,100.0 C638.5,105.0 639.2,110.0 639.5,115.0 C639.7,118.3 639.7,121.7 639.8,125.0 C639.9,126.7 639.8,128.4 640.0,130.0 C640.4,133.3 640.9,136.6 641.8,139.8 C642.8,143.2 644.2,146.5 645.7,149.7 C647.3,153.1 649.3,156.3 651.2,159.5 C653.2,162.9 655.4,166.1 657.6,169.4 C659.8,172.7 662.3,175.8 664.4,179.2 C665.6,181.1 666.5,183.1 667.4,185.1 C668.0,186.4 668.7,187.7 668.9,189.1 C669.2,192.3 669.3,195.7 668.9,198.9 C668.6,200.9 667.5,202.8 666.9,204.8 C666.0,208.1 665.9,211.8 664.4,214.7 C662.5,218.3 659.1,221.2 656.6,224.5 C654.2,227.7 651.6,230.9 649.7,234.4 C648.0,237.5 647.0,240.9 645.7,244.2 C644.4,247.5 642.9,250.7 641.8,254.1 C640.8,257.3 639.9,260.6 639.4,263.9 C638.8,267.6 638.5,271.3 638.4,275.0 C638.0,285.7 638.0,296.5 637.8,307.2" fill="none" stroke="#47A698" stroke-width="0.95"/>
<path d="M637.8,76.3 C638.1,89.2 638.4,102.1 638.8,115.0 C638.9,120.0 638.8,125.1 639.4,130.0 C639.8,133.3 640.8,136.6 641.8,139.8 C642.9,143.2 644.2,146.5 645.7,149.7 C647.3,153.1 649.3,156.3 651.2,159.5 C653.2,162.9 655.4,166.1 657.6,169.4 C659.8,172.7 662.3,175.8 664.4,179.2 C665.6,181.1 666.5,183.1 667.4,185.1 C668.0,186.4 668.7,187.7 668.9,189.1 C669.4,192.3 669.9,195.8 669.4,198.9 C669.1,201.0 667.3,202.8 666.4,204.8 C665.0,208.0 663.9,211.4 662.5,214.7 C661.1,218.0 659.4,221.2 658.0,224.5 C656.6,227.8 655.5,231.2 654.1,234.4 C652.6,237.7 650.8,240.9 649.2,244.2 C647.6,247.5 645.7,250.7 644.3,254.1 C642.9,257.3 641.6,260.5 640.8,263.9 C639.9,267.5 639.4,271.3 639.2,275.0 C638.5,285.7 638.3,296.5 637.9,307.2" fill="none" stroke="#E8A457" stroke-width="0.95"/>
<path d="M637.8,76.3 C637.8,90.9 637.9,105.4 637.9,120.0 C637.9,123.3 637.7,126.7 637.9,130.0 C638.1,133.3 638.3,136.6 638.9,139.8 C639.6,143.2 640.4,146.6 641.8,149.7 C643.3,153.2 645.6,156.3 647.7,159.5 C649.9,162.9 652.2,166.2 654.6,169.4 C657.1,172.8 660.0,175.8 662.5,179.2 C663.9,181.1 665.3,183.0 666.4,185.1 C667.1,186.3 667.7,187.7 667.9,189.1 C668.4,192.3 668.4,195.6 668.4,198.9 C668.4,200.9 668.1,202.8 667.9,204.8 C667.6,208.1 668.0,211.7 666.9,214.7 C665.6,218.2 662.6,221.2 660.5,224.5 C658.5,227.8 656.4,231.0 654.6,234.4 C652.8,237.6 651.4,241.0 649.7,244.2 C648.0,247.5 645.8,250.7 644.3,254.1 C643.0,257.2 642.1,260.6 641.3,263.9 C640.5,267.4 639.8,271.1 639.4,274.7 C638.8,279.8 638.5,284.9 638.3,290.0 C638.1,295.7 638.1,301.5 638.0,307.2" fill="none" stroke="#E55C62" stroke-width="0.95"/>
<path d="M45.1,419.1 L45.1,418.9 C63.4,418.9 81.7,418.9 100.0,418.8 C110.0,418.7 120.0,418.8 130.0,418.4 C134.9,418.2 139.8,417.7 144.6,416.9 C149.5,416.0 154.6,415.2 159.2,413.3 C163.4,411.6 166.9,408.3 170.9,406.0 C173.3,404.6 176.0,403.9 178.2,402.3 C180.9,400.3 183.4,397.7 185.5,395.0 C188.3,391.4 190.3,387.2 192.8,383.4 C194.6,380.6 196.3,377.6 198.6,375.3 C199.7,374.1 201.5,372.7 203.0,372.8 C204.9,373.0 207.2,374.6 208.8,376.1 C211.5,378.7 213.4,382.2 215.8,385.1 C217.7,387.3 219.5,389.6 221.7,391.5 C224.2,393.7 227.1,395.5 229.9,397.4 C233.0,399.6 236.2,401.5 239.2,403.8 C241.3,405.4 243.1,407.3 245.0,409.0 C247.0,410.8 248.8,412.8 250.9,414.3 C252.7,415.5 254.6,416.6 256.7,417.2 C259.3,417.9 262.2,418.0 265.0,418.2 C269.2,418.4 273.3,418.3 277.5,418.4 L277.5,419.1 Z" fill="#6188AF" fill-opacity="0.25" stroke="none"/>
<path d="M45.1,419.1 L45.1,418.6 C53.1,418.4 61.2,418.3 69.2,417.9 C75.5,417.6 81.9,417.1 88.2,416.3 C91.6,415.8 95.2,415.2 98.4,414.0 C102.5,412.5 106.3,410.3 110.1,408.2 C113.6,406.4 117.0,404.5 120.3,402.3 C122.9,400.6 125.1,398.3 127.6,396.5 C129.9,394.9 132.3,393.3 134.9,392.1 C136.5,391.4 138.3,391.2 140.0,390.7 C141.5,390.2 143.0,389.4 144.6,389.2 C149.4,388.5 154.4,387.4 159.2,388.0 C164.2,388.6 169.4,390.4 173.8,392.8 C179.1,395.7 183.3,400.5 188.4,403.8 C193.0,406.8 197.9,409.8 203.0,411.8 C207.6,413.7 212.7,414.6 217.6,415.5 C221.7,416.3 225.9,416.6 230.0,416.9 C236.7,417.4 243.3,417.8 250.0,418.0 C259.2,418.3 268.3,418.3 277.5,418.4 L277.5,419.1 Z" fill="#47A698" fill-opacity="0.25" stroke="none"/>
<path d="M45.1,419.1 L45.1,418.6 C48.3,418.5 51.4,418.5 54.6,418.4 C59.5,418.2 64.3,418.1 69.2,417.7 C75.5,417.2 82.0,416.9 88.2,415.5 C91.8,414.7 95.1,412.8 98.4,411.1 C102.4,409.1 106.2,406.6 110.1,404.5 C113.5,402.7 116.8,400.9 120.3,399.4 C123.6,398.0 127.1,396.9 130.5,395.8 C135.2,394.3 139.9,392.9 144.6,391.4 C148.5,390.2 152.3,388.3 156.3,387.7 C159.1,387.3 162.3,387.6 165.0,388.5 C168.1,389.6 171.1,391.6 173.8,393.6 C177.9,396.7 181.4,400.7 185.5,403.8 C188.7,406.3 192.1,408.6 195.7,410.4 C199.4,412.2 203.4,413.7 207.4,414.7 C213.1,416.1 219.0,417.2 224.9,417.7 C233.2,418.4 241.6,418.4 250.0,418.5 C259.2,418.7 268.3,418.6 277.5,418.6 L277.5,419.1 Z" fill="#E8A457" fill-opacity="0.25" stroke="none"/>
<path d="M45.1,419.1 L45.1,418.6 C53.1,418.4 61.2,418.4 69.2,417.9 C75.6,417.5 82.0,417.1 88.2,415.8 C91.7,415.1 95.1,413.4 98.4,411.8 C102.4,409.8 106.1,407.0 110.1,404.8 C113.4,402.9 117.0,401.4 120.3,399.4 C122.8,397.9 125.1,395.9 127.6,394.3 C130.0,392.8 132.4,391.1 134.9,389.9 C136.6,389.1 138.4,388.3 140.2,388.2 C143.5,388.0 147.0,389.3 150.4,389.2 C154.3,389.1 158.3,387.2 162.1,387.4 C164.2,387.5 166.2,388.8 168.0,389.9 C170.1,391.3 171.9,393.3 173.8,395.0 C176.2,397.2 178.6,399.5 181.1,401.6 C183.5,403.6 185.9,405.5 188.4,407.4 C190.8,409.2 193.1,411.1 195.7,412.6 C198.0,414.0 200.4,415.5 203.0,416.2 C207.7,417.4 212.7,418.2 217.6,418.4 C237.5,419.1 257.5,418.7 277.5,418.8 L277.5,419.1 Z" fill="#E55C62" fill-opacity="0.25" stroke="none"/>
<path d="M45.1,418.9 C63.4,418.9 81.7,418.9 100.0,418.8 C110.0,418.7 120.0,418.8 130.0,418.4 C134.9,418.2 139.8,417.7 144.6,416.9 C149.5,416.0 154.6,415.2 159.2,413.3 C163.4,411.6 166.9,408.3 170.9,406.0 C173.3,404.6 176.0,403.9 178.2,402.3 C180.9,400.3 183.4,397.7 185.5,395.0 C188.3,391.4 190.3,387.2 192.8,383.4 C194.6,380.6 196.3,377.6 198.6,375.3 C199.7,374.1 201.5,372.7 203.0,372.8 C204.9,373.0 207.2,374.6 208.8,376.1 C211.5,378.7 213.4,382.2 215.8,385.1 C217.7,387.3 219.5,389.6 221.7,391.5 C224.2,393.7 227.1,395.5 229.9,397.4 C233.0,399.6 236.2,401.5 239.2,403.8 C241.3,405.4 243.1,407.3 245.0,409.0 C247.0,410.8 248.8,412.8 250.9,414.3 C252.7,415.5 254.6,416.6 256.7,417.2 C259.3,417.9 262.2,418.0 265.0,418.2 C269.2,418.4 273.3,418.3 277.5,418.4" fill="none" stroke="#6188AF" stroke-width="0.95"/>
<path d="M45.1,418.6 C53.1,418.4 61.2,418.3 69.2,417.9 C75.5,417.6 81.9,417.1 88.2,416.3 C91.6,415.8 95.2,415.2 98.4,414.0 C102.5,412.5 106.3,410.3 110.1,408.2 C113.6,406.4 117.0,404.5 120.3,402.3 C122.9,400.6 125.1,398.3 127.6,396.5 C129.9,394.9 132.3,393.3 134.9,392.1 C136.5,391.4 138.3,391.2 140.0,390.7 C141.5,390.2 143.0,389.4 144.6,389.2 C149.4,388.5 154.4,387.4 159.2,388.0 C164.2,388.6 169.4,390.4 173.8,392.8 C179.1,395.7 183.3,400.5 188.4,403.8 C193.0,406.8 197.9,409.8 203.0,411.8 C207.6,413.7 212.7,414.6 217.6,415.5 C221.7,416.3 225.9,416.6 230.0,416.9 C236.7,417.4 243.3,417.8 250.0,418.0 C259.2,418.3 268.3,418.3 277.5,418.4" fill="none" stroke="#47A698" stroke-width="0.95"/>
<path d="M45.1,418.6 C48.3,418.5 51.4,418.5 54.6,418.4 C59.5,418.2 64.3,418.1 69.2,417.7 C75.5,417.2 82.0,416.9 88.2,415.5 C91.8,414.7 95.1,412.8 98.4,411.1 C102.4,409.1 106.2,406.6 110.1,404.5 C113.5,402.7 116.8,400.9 120.3,399.4 C123.6,398.0 127.1,396.9 130.5,395.8 C135.2,394.3 139.9,392.9 144.6,391.4 C148.5,390.2 152.3,388.3 156.3,387.7 C159.1,387.3 162.3,387.6 165.0,388.5 C168.1,389.6 171.1,391.6 173.8,393.6 C177.9,396.7 181.4,400.7 185.5,403.8 C188.7,406.3 192.1,408.6 195.7,410.4 C199.4,412.2 203.4,413.7 207.4,414.7 C213.1,416.1 219.0,417.2 224.9,417.7 C233.2,418.4 241.6,418.4 250.0,418.5 C259.2,418.7 268.3,418.6 277.5,418.6" fill="none" stroke="#E8A457" stroke-width="0.95"/>
<path d="M45.1,418.6 C53.1,418.4 61.2,418.4 69.2,417.9 C75.6,417.5 82.0,417.1 88.2,415.8 C91.7,415.1 95.1,413.4 98.4,411.8 C102.4,409.8 106.1,407.0 110.1,404.8 C113.4,402.9 117.0,401.4 120.3,399.4 C122.8,397.9 125.1,395.9 127.6,394.3 C130.0,392.8 132.4,391.1 134.9,389.9 C136.6,389.1 138.4,388.3 140.2,388.2 C143.5,388.0 147.0,389.3 150.4,389.2 C154.3,389.1 158.3,387.2 162.1,387.4 C164.2,387.5 166.2,388.8 168.0,389.9 C170.1,391.3 171.9,393.3 173.8,395.0 C176.2,397.2 178.6,399.5 181.1,401.6 C183.5,403.6 185.9,405.5 188.4,407.4 C190.8,409.2 193.1,411.1 195.7,412.6 C198.0,414.0 200.4,415.5 203.0,416.2 C207.7,417.4 212.7,418.2 217.6,418.4 C237.5,419.1 257.5,418.7 277.5,418.8" fill="none" stroke="#E55C62" stroke-width="0.95"/>
<path d="M291.5,433.4 L291.5,433.4 C291.6,445.6 291.5,457.8 291.7,470.0 C291.8,474.7 292.0,479.4 292.4,484.1 C292.6,486.1 292.6,488.2 293.4,490.0 C295.0,493.5 297.2,497.0 299.8,499.9 C303.0,503.5 306.8,506.6 310.6,509.7 C314.0,512.5 318.0,514.7 321.4,517.6 C323.9,519.7 326.0,522.2 328.3,524.5 C330.6,526.8 333.5,528.7 335.2,531.4 C336.6,533.7 338.0,536.8 337.7,539.3 C337.4,542.0 335.2,544.8 333.3,547.1 C331.1,549.7 328.1,551.8 325.4,554.0 C323.2,555.8 320.8,557.3 318.5,559.0 C315.9,560.9 312.8,562.5 310.6,564.9 C307.9,567.8 306.1,571.5 303.7,574.7 C301.2,578.1 298.0,581.0 295.8,584.6 C294.4,586.9 293.3,589.7 292.9,592.4 C292.1,598.1 292.5,604.1 292.4,610.0 C292.2,628.1 292.1,646.2 292.0,664.3 L291.5,664.3 Z" fill="#6188AF" fill-opacity="0.25" stroke="none"/>
<path d="M291.5,433.4 L291.6,433.4 C291.9,440.5 291.9,447.6 292.4,454.6 C292.6,457.9 293.3,461.1 293.9,464.4 C294.5,467.7 294.8,471.1 295.8,474.3 C296.9,477.7 299.0,480.8 300.3,484.1 C301.0,486.0 300.7,488.3 301.7,490.0 C303.8,493.6 307.1,496.5 309.6,499.9 C312.0,503.1 314.6,506.2 316.5,509.7 C317.9,512.1 319.1,514.9 319.5,517.6 C319.8,519.8 319.1,522.3 318.5,524.5 C317.6,527.8 315.8,531.0 315.0,534.3 C314.2,537.5 313.9,540.9 313.6,544.2 C313.2,549.1 313.2,554.1 313.1,559.0 C313.0,562.6 314.1,566.5 313.1,569.8 C312.0,573.4 308.8,576.3 306.7,579.6 C304.6,582.9 302.4,586.1 300.7,589.5 C299.1,592.6 297.9,596.0 296.8,599.3 C295.8,602.5 294.8,605.8 294.3,609.2 C293.5,614.1 293.1,619.1 292.9,624.0 C292.4,637.4 292.4,650.9 292.2,664.3 L291.5,664.3 Z" fill="#47A698" fill-opacity="0.25" stroke="none"/>
<path d="M291.5,433.4 L291.9,433.4 C292.6,435.5 293.1,437.7 293.9,439.8 C295.1,443.1 296.2,446.5 297.8,449.6 C299.1,452.1 300.9,454.3 302.7,456.5 C304.9,459.2 307.3,461.8 309.6,464.4 C311.9,467.0 314.1,469.7 316.5,472.3 C318.7,474.7 321.3,476.7 323.4,479.2 C325.2,481.3 326.9,483.7 328.3,486.1 C329.0,487.3 329.4,488.7 329.8,490.0 C330.4,491.9 331.6,494.0 331.3,495.9 C330.8,498.9 328.7,501.9 327.3,504.8 C325.7,508.1 324.2,511.5 322.4,514.6 C321.0,517.0 319.3,519.4 317.5,521.5 C315.1,524.3 312.2,526.8 309.6,529.4 C307.0,532.0 304.0,534.4 301.7,537.3 C299.8,539.7 298.1,542.4 296.8,545.2 C295.5,548.0 294.6,551.0 293.9,554.0 C293.1,557.6 292.5,561.3 292.3,565.0 C291.8,576.6 291.9,588.3 291.9,600.0 C291.8,621.4 291.9,642.9 291.9,664.3 L291.5,664.3 Z" fill="#E8A457" fill-opacity="0.25" stroke="none"/>
<path d="M291.5,433.4 L291.7,433.4 C291.7,458.9 291.4,484.5 291.7,510.0 C291.8,516.5 292.2,522.9 292.7,529.4 C292.9,532.7 293.2,536.1 293.9,539.3 C294.6,542.6 295.8,545.8 296.8,549.1 C297.4,551.1 297.7,553.3 298.8,555.0 C301.0,558.5 303.8,561.8 306.7,564.9 C310.0,568.4 314.1,571.3 317.5,574.7 C320.6,577.8 324.2,580.9 326.4,584.6 C328.1,587.5 328.6,591.1 329.3,594.4 C329.6,596.0 329.9,597.8 329.5,599.3 C328.6,602.7 327.2,606.2 325.4,609.2 C323.9,611.8 321.3,613.7 319.5,616.1 C317.4,618.9 315.7,622.1 313.6,624.9 C311.0,628.3 307.5,631.1 305.2,634.7 C303.2,637.7 302.3,641.3 300.7,644.6 C299.1,647.9 297.1,651.0 295.8,654.4 C294.6,657.6 294.2,661.0 293.4,664.3 L291.5,664.3 Z" fill="#E55C62" fill-opacity="0.25" stroke="none"/>
<path d="M291.5,433.4 C291.6,445.6 291.5,457.8 291.7,470.0 C291.8,474.7 292.0,479.4 292.4,484.1 C292.6,486.1 292.6,488.2 293.4,490.0 C295.0,493.5 297.2,497.0 299.8,499.9 C303.0,503.5 306.8,506.6 310.6,509.7 C314.0,512.5 318.0,514.7 321.4,517.6 C323.9,519.7 326.0,522.2 328.3,524.5 C330.6,526.8 333.5,528.7 335.2,531.4 C336.6,533.7 338.0,536.8 337.7,539.3 C337.4,542.0 335.2,544.8 333.3,547.1 C331.1,549.7 328.1,551.8 325.4,554.0 C323.2,555.8 320.8,557.3 318.5,559.0 C315.9,560.9 312.8,562.5 310.6,564.9 C307.9,567.8 306.1,571.5 303.7,574.7 C301.2,578.1 298.0,581.0 295.8,584.6 C294.4,586.9 293.3,589.7 292.9,592.4 C292.1,598.1 292.5,604.1 292.4,610.0 C292.2,628.1 292.1,646.2 292.0,664.3" fill="none" stroke="#6188AF" stroke-width="0.95"/>
<path d="M291.6,433.4 C291.9,440.5 291.9,447.6 292.4,454.6 C292.6,457.9 293.3,461.1 293.9,464.4 C294.5,467.7 294.8,471.1 295.8,474.3 C296.9,477.7 299.0,480.8 300.3,484.1 C301.0,486.0 300.7,488.3 301.7,490.0 C303.8,493.6 307.1,496.5 309.6,499.9 C312.0,503.1 314.6,506.2 316.5,509.7 C317.9,512.1 319.1,514.9 319.5,517.6 C319.8,519.8 319.1,522.3 318.5,524.5 C317.6,527.8 315.8,531.0 315.0,534.3 C314.2,537.5 313.9,540.9 313.6,544.2 C313.2,549.1 313.2,554.1 313.1,559.0 C313.0,562.6 314.1,566.5 313.1,569.8 C312.0,573.4 308.8,576.3 306.7,579.6 C304.6,582.9 302.4,586.1 300.7,589.5 C299.1,592.6 297.9,596.0 296.8,599.3 C295.8,602.5 294.8,605.8 294.3,609.2 C293.5,614.1 293.1,619.1 292.9,624.0 C292.4,637.4 292.4,650.9 292.2,664.3" fill="none" stroke="#47A698" stroke-width="0.95"/>
<path d="M291.9,433.4 C292.6,435.5 293.1,437.7 293.9,439.8 C295.1,443.1 296.2,446.5 297.8,449.6 C299.1,452.1 300.9,454.3 302.7,456.5 C304.9,459.2 307.3,461.8 309.6,464.4 C311.9,467.0 314.1,469.7 316.5,472.3 C318.7,474.7 321.3,476.7 323.4,479.2 C325.2,481.3 326.9,483.7 328.3,486.1 C329.0,487.3 329.4,488.7 329.8,490.0 C330.4,491.9 331.6,494.0 331.3,495.9 C330.8,498.9 328.7,501.9 327.3,504.8 C325.7,508.1 324.2,511.5 322.4,514.6 C321.0,517.0 319.3,519.4 317.5,521.5 C315.1,524.3 312.2,526.8 309.6,529.4 C307.0,532.0 304.0,534.4 301.7,537.3 C299.8,539.7 298.1,542.4 296.8,545.2 C295.5,548.0 294.6,551.0 293.9,554.0 C293.1,557.6 292.5,561.3 292.3,565.0 C291.8,576.6 291.9,588.3 291.9,600.0 C291.8,621.4 291.9,642.9 291.9,664.3" fill="none" stroke="#E8A457" stroke-width="0.95"/>
<path d="M291.7,433.4 C291.7,458.9 291.4,484.5 291.7,510.0 C291.8,516.5 292.2,522.9 292.7,529.4 C292.9,532.7 293.2,536.1 293.9,539.3 C294.6,542.6 295.8,545.8 296.8,549.1 C297.4,551.1 297.7,553.3 298.8,555.0 C301.0,558.5 303.8,561.8 306.7,564.9 C310.0,568.4 314.1,571.3 317.5,574.7 C320.6,577.8 324.2,580.9 326.4,584.6 C328.1,587.5 328.6,591.1 329.3,594.4 C329.6,596.0 329.9,597.8 329.5,599.3 C328.6,602.7 327.2,606.2 325.4,609.2 C323.9,611.8 321.3,613.7 319.5,616.1 C317.4,618.9 315.7,622.1 313.6,624.9 C311.0,628.3 307.5,631.1 305.2,634.7 C303.2,637.7 302.3,641.3 300.7,644.6 C299.1,647.9 297.1,651.0 295.8,654.4 C294.6,657.6 294.2,661.0 293.4,664.3" fill="none" stroke="#E55C62" stroke-width="0.95"/>
<circle class="g" cx="158.8" cy="184.4" r="1.6"/>
<circle class="g" cx="162.9" cy="159.8" r="1.6"/>
<circle class="g" cx="184.0" cy="202.1" r="1.6"/>
<circle class="n" cx="199.7" cy="216.8" r="1.6"/>
<circle class="f" cx="127.3" cy="228.7" r="1.6"/>
<circle class="g" cx="98.6" cy="171.4" r="1.6"/>
<circle class="g" cx="239.8" cy="230.7" r="1.6"/>
<circle class="f" cx="147.8" cy="206.3" r="1.6"/>
<circle class="n" cx="181.7" cy="222.4" r="1.6"/>
<circle class="f" cx="154.7" cy="187.7" r="1.6"/>
<circle class="f" cx="92.6" cy="156.1" r="1.6"/>
<circle class="k" cx="189.7" cy="229.9" r="1.6"/>
<circle class="g" cx="149.8" cy="184.5" r="1.6"/>
<circle class="g" cx="201.0" cy="247.9" r="1.6"/>
<circle class="f" cx="145.3" cy="213.9" r="1.6"/>
<circle class="g" cx="198.6" cy="280.7" r="1.6"/>
<circle class="f" cx="151.5" cy="204.3" r="1.6"/>
<circle class="n" cx="167.0" cy="202.4" r="1.6"/>
<circle class="n" cx="188.4" cy="172.6" r="1.6"/>
<circle class="g" cx="214.1" cy="297.3" r="1.6"/>
<circle class="f" cx="166.3" cy="248.6" r="1.6"/>
<circle class="n" cx="170.9" cy="218.0" r="1.6"/>
<circle class="g" cx="123.6" cy="216.2" r="1.6"/>
<circle class="g" cx="187.2" cy="192.6" r="1.6"/>
<circle class="f" cx="124.9" cy="219.7" r="1.6"/>
<circle class="g" cx="215.7" cy="208.1" r="1.6"/>
<circle class="n" cx="184.7" cy="211.0" r="1.6"/>
<circle class="g" cx="213.8" cy="244.2" r="1.6"/>
<circle class="n" cx="201.4" cy="194.9" r="1.6"/>
<circle class="f" cx="116.7" cy="183.3" r="1.6"/>
<circle class="k" cx="254.6" cy="175.0" r="1.6"/>
<circle class="g" cx="190.0" cy="185.4" r="1.6"/>
<circle class="g" cx="185.3" cy="198.6" r="1.6"/>
<circle class="k" cx="215.2" cy="178.3" r="1.6"/>
<circle class="n" cx="201.4" cy="197.6" r="1.6"/>
<circle class="g" cx="124.6" cy="208.2" r="1.6"/>
<circle class="f" cx="136.1" cy="195.5" r="1.6"/>
<circle class="g" cx="233.8" cy="222.5" r="1.6"/>
<circle class="n" cx="186.1" cy="210.6" r="1.6"/>
<circle class="n" cx="195.2" cy="187.8" r="1.6"/>
<circle class="g" cx="180.5" cy="202.7" r="1.6"/>
<circle class="g" cx="183.1" cy="244.1" r="1.6"/>
<circle class="f" cx="99.7" cy="150.2" r="1.6"/>
<circle class="g" cx="205.9" cy="194.9" r="1.6"/>
<circle class="g" cx="185.5" cy="164.2" r="1.6"/>
<circle class="f" cx="107.1" cy="145.3" r="1.6"/>
<circle class="k" cx="245.3" cy="176.1" r="1.6"/>
<circle class="g" cx="184.1" cy="248.3" r="1.6"/>
<circle class="k" cx="256.7" cy="237.8" r="1.6"/>
<circle class="n" cx="179.7" cy="164.2" r="1.6"/>
<circle class="k" cx="215.4" cy="179.5" r="1.6"/>
<circle class="g" cx="209.9" cy="218.1" r="1.6"/>
<circle class="f" cx="114.0" cy="234.2" r="1.6"/>
<circle class="k" cx="209.3" cy="244.2" r="1.6"/>
<circle class="g" cx="141.3" cy="201.7" r="1.6"/>
<circle class="g" cx="188.1" cy="229.2" r="1.6"/>
<circle class="f" cx="161.6" cy="225.5" r="1.6"/>
<circle class="g" cx="175.5" cy="187.0" r="1.6"/>
<circle class="g" cx="179.4" cy="236.1" r="1.6"/>
<circle class="g" cx="216.1" cy="260.6" r="1.6"/>
<circle class="n" cx="190.8" cy="169.1" r="1.6"/>
<circle class="k" cx="249.5" cy="141.9" r="1.6"/>
<circle class="n" cx="152.3" cy="190.3" r="1.6"/>
<circle class="g" cx="150.1" cy="240.5" r="1.6"/>
<circle class="k" cx="259.7" cy="199.4" r="1.6"/>
<circle class="g" cx="229.6" cy="269.6" r="1.6"/>
<circle class="f" cx="188.3" cy="226.1" r="1.6"/>
<circle class="k" cx="225.8" cy="142.2" r="1.6"/>
<circle class="g" cx="203.2" cy="283.4" r="1.6"/>
<circle class="n" cx="216.8" cy="188.8" r="1.6"/>
<circle class="g" cx="167.5" cy="271.6" r="1.6"/>
<circle class="g" cx="148.5" cy="180.7" r="1.6"/>
<circle class="f" cx="140.9" cy="210.8" r="1.6"/>
<circle class="k" cx="189.7" cy="232.9" r="1.6"/>
<circle class="g" cx="167.8" cy="204.5" r="1.6"/>
<circle class="g" cx="184.7" cy="216.6" r="1.6"/>
<circle class="f" cx="130.3" cy="198.0" r="1.6"/>
<circle class="k" cx="235.8" cy="198.8" r="1.6"/>
<circle class="f" cx="149.7" cy="217.4" r="1.6"/>
<circle class="g" cx="129.1" cy="187.8" r="1.6"/>
<circle class="k" cx="195.7" cy="209.1" r="1.6"/>
<circle class="g" cx="198.9" cy="291.8" r="1.6"/>
<circle class="g" cx="187.1" cy="210.9" r="1.6"/>
<circle class="f" cx="165.0" cy="219.2" r="1.6"/>
<circle class="k" cx="232.8" cy="161.0" r="1.6"/>
<circle class="k" cx="189.2" cy="219.6" r="1.6"/>
<circle class="f" cx="135.2" cy="209.4" r="1.6"/>
<circle class="f" cx="90.7" cy="201.7" r="1.6"/>
<circle class="k" cx="203.9" cy="191.9" r="1.6"/>
<circle class="k" cx="175.8" cy="226.0" r="1.6"/>
<circle class="g" cx="187.2" cy="221.3" r="1.6"/>
<circle class="f" cx="172.1" cy="270.4" r="1.6"/>
<circle class="g" cx="229.3" cy="233.4" r="1.6"/>
<circle class="g" cx="180.6" cy="194.1" r="1.6"/>
<circle class="n" cx="165.8" cy="227.0" r="1.6"/>
<circle class="k" cx="241.7" cy="172.9" r="1.6"/>
<circle class="g" cx="128.0" cy="194.4" r="1.6"/>
<circle class="g" cx="198.0" cy="236.7" r="1.6"/>
<circle class="n" cx="165.7" cy="203.9" r="1.6"/>
<circle class="n" cx="178.2" cy="196.4" r="1.6"/>
<circle class="n" cx="183.2" cy="180.6" r="1.6"/>
<circle class="n" cx="190.9" cy="197.2" r="1.6"/>
<circle class="k" cx="226.4" cy="216.2" r="1.6"/>
<circle class="k" cx="183.5" cy="204.9" r="1.6"/>
<circle class="g" cx="173.4" cy="213.5" r="1.6"/>
<circle class="g" cx="181.6" cy="252.3" r="1.6"/>
<circle class="g" cx="177.2" cy="218.5" r="1.6"/>
<circle class="g" cx="199.5" cy="307.0" r="1.6"/>
<circle class="f" cx="91.6" cy="168.6" r="1.6"/>
<circle class="f" cx="160.1" cy="188.4" r="1.6"/>
<circle class="k" cx="249.6" cy="167.8" r="1.6"/>
<circle class="k" cx="256.1" cy="178.4" r="1.6"/>
<circle class="k" cx="196.0" cy="234.0" r="1.6"/>
<circle class="g" cx="153.6" cy="210.0" r="1.6"/>
<circle class="g" cx="216.5" cy="209.7" r="1.6"/>
<circle class="f" cx="152.4" cy="203.4" r="1.6"/>
<circle class="f" cx="88.5" cy="167.7" r="1.6"/>
<circle class="k" cx="225.7" cy="165.3" r="1.6"/>
<circle class="g" cx="164.0" cy="222.4" r="1.6"/>
<circle class="f" cx="94.7" cy="223.8" r="1.6"/>
<circle class="g" cx="168.2" cy="244.5" r="1.6"/>
<circle class="f" cx="185.2" cy="131.8" r="1.6"/>
<circle class="f" cx="118.8" cy="188.4" r="1.6"/>
<circle class="f" cx="168.8" cy="208.4" r="1.6"/>
<circle class="g" cx="210.3" cy="282.7" r="1.6"/>
<circle class="f" cx="61.8" cy="118.0" r="1.6"/>
<circle class="n" cx="182.3" cy="181.0" r="1.6"/>
<circle class="k" cx="242.1" cy="216.8" r="1.6"/>
<circle class="g" cx="167.8" cy="217.9" r="1.6"/>
<circle class="k" cx="216.2" cy="166.1" r="1.6"/>
<circle class="f" cx="81.2" cy="115.3" r="1.6"/>
<circle class="n" cx="188.8" cy="202.3" r="1.6"/>
<circle class="n" cx="225.6" cy="172.9" r="1.6"/>
<circle class="f" cx="100.5" cy="177.2" r="1.6"/>
<circle class="n" cx="185.7" cy="217.6" r="1.6"/>
<circle class="k" cx="252.9" cy="161.2" r="1.6"/>
<circle class="n" cx="199.6" cy="199.9" r="1.6"/>
<circle class="g" cx="203.1" cy="205.4" r="1.6"/>
<circle class="g" cx="130.9" cy="264.6" r="1.6"/>
<circle class="f" cx="142.5" cy="197.8" r="1.6"/>
<circle class="k" cx="215.7" cy="193.2" r="1.6"/>
<circle class="f" cx="87.6" cy="158.9" r="1.6"/>
<circle class="n" cx="163.0" cy="202.1" r="1.6"/>
<circle class="f" cx="141.1" cy="165.2" r="1.6"/>
<circle class="g" cx="173.4" cy="254.4" r="1.6"/>
<circle class="f" cx="101.9" cy="165.7" r="1.6"/>
<circle class="g" cx="157.5" cy="222.7" r="1.6"/>
<circle class="g" cx="187.2" cy="230.5" r="1.6"/>
<circle class="k" cx="266.8" cy="198.8" r="1.6"/>
<circle class="g" cx="169.1" cy="200.8" r="1.6"/>
<circle class="f" cx="138.1" cy="219.8" r="1.6"/>
<circle class="g" cx="174.4" cy="224.4" r="1.6"/>
<circle class="n" cx="177.0" cy="184.1" r="1.6"/>
<circle class="f" cx="110.5" cy="196.5" r="1.6"/>
<circle class="n" cx="192.7" cy="203.4" r="1.6"/>
<circle class="g" cx="223.1" cy="207.0" r="1.6"/>
<circle class="k" cx="219.2" cy="215.1" r="1.6"/>
<circle class="f" cx="103.3" cy="157.0" r="1.6"/>
<circle class="f" cx="75.2" cy="150.3" r="1.6"/>
<circle class="g" cx="156.2" cy="183.4" r="1.6"/>
<circle class="f" cx="150.0" cy="275.5" r="1.6"/>
<circle class="f" cx="156.2" cy="203.2" r="1.6"/>
<circle class="f" cx="119.3" cy="194.7" r="1.6"/>
<circle class="n" cx="168.1" cy="181.8" r="1.6"/>
<circle class="f" cx="137.7" cy="200.2" r="1.6"/>
<circle class="n" cx="179.7" cy="200.7" r="1.6"/>
<circle class="g" cx="205.4" cy="262.5" r="1.6"/>
<circle class="n" cx="175.3" cy="203.9" r="1.6"/>
<circle class="g" cx="181.0" cy="272.3" r="1.6"/>
<circle class="g" cx="170.3" cy="179.5" r="1.6"/>
<circle class="f" cx="110.2" cy="170.0" r="1.6"/>
<circle class="k" cx="215.6" cy="195.5" r="1.6"/>
<circle class="f" cx="124.2" cy="151.8" r="1.6"/>
<circle class="k" cx="226.0" cy="194.9" r="1.6"/>
<circle class="f" cx="138.6" cy="194.5" r="1.6"/>
<circle class="g" cx="238.7" cy="222.6" r="1.6"/>
<circle class="n" cx="171.9" cy="211.1" r="1.6"/>
<circle class="n" cx="166.9" cy="214.7" r="1.6"/>
<circle class="n" cx="176.2" cy="175.4" r="1.6"/>
<circle class="g" cx="119.3" cy="196.8" r="1.6"/>
<circle class="g" cx="162.4" cy="171.8" r="1.6"/>
<circle class="g" cx="132.8" cy="209.9" r="1.6"/>
<circle class="n" cx="188.4" cy="178.0" r="1.6"/>
<circle class="f" cx="131.9" cy="212.9" r="1.6"/>
<circle class="k" cx="232.9" cy="184.9" r="1.6"/>
<circle class="g" cx="153.7" cy="243.3" r="1.6"/>
<circle class="k" cx="210.6" cy="176.9" r="1.6"/>
<circle class="g" cx="178.2" cy="244.2" r="1.6"/>
<circle class="g" cx="141.4" cy="197.8" r="1.6"/>
<circle class="k" cx="260.6" cy="193.6" r="1.6"/>
<circle class="n" cx="170.2" cy="222.8" r="1.6"/>
<circle class="f" cx="138.1" cy="190.4" r="1.6"/>
<circle class="k" cx="191.5" cy="219.7" r="1.6"/>
<circle class="k" cx="222.2" cy="201.7" r="1.6"/>
<circle class="g" cx="130.9" cy="185.7" r="1.6"/>
<circle class="f" cx="136.0" cy="157.3" r="1.6"/>
<circle class="f" cx="123.1" cy="217.1" r="1.6"/>
<circle class="n" cx="183.9" cy="186.4" r="1.6"/>
<circle class="g" cx="194.1" cy="222.6" r="1.6"/>
<circle class="g" cx="208.0" cy="243.7" r="1.6"/>
<circle class="g" cx="180.2" cy="243.3" r="1.6"/>
<circle class="g" cx="205.1" cy="193.8" r="1.6"/>
<circle class="k" cx="234.7" cy="233.2" r="1.6"/>
<circle class="n" cx="186.0" cy="194.1" r="1.6"/>
<circle class="f" cx="151.6" cy="191.5" r="1.6"/>
<circle class="g" cx="151.6" cy="205.1" r="1.6"/>
<circle class="f" cx="122.2" cy="155.8" r="1.6"/>
<circle class="f" cx="178.9" cy="219.5" r="1.6"/>
<circle class="n" cx="182.9" cy="192.7" r="1.6"/>
<circle class="f" cx="118.8" cy="181.6" r="1.6"/>
<circle class="k" cx="196.1" cy="210.2" r="1.6"/>
<circle class="f" cx="110.8" cy="180.1" r="1.6"/>
<circle class="f" cx="128.1" cy="157.3" r="1.6"/>
<circle class="k" cx="246.7" cy="159.3" r="1.6"/>
<circle class="g" cx="166.1" cy="215.1" r="1.6"/>
<circle class="f" cx="110.5" cy="185.4" r="1.6"/>
<circle class="n" cx="188.3" cy="208.7" r="1.6"/>
<circle class="k" cx="191.2" cy="203.5" r="1.6"/>
<circle class="k" cx="214.1" cy="220.8" r="1.6"/>
<circle class="f" cx="135.0" cy="183.7" r="1.6"/>
<circle class="f" cx="133.9" cy="170.6" r="1.6"/>
<circle class="n" cx="186.0" cy="176.2" r="1.6"/>
<circle class="g" cx="174.8" cy="221.3" r="1.6"/>
<circle class="g" cx="173.6" cy="240.0" r="1.6"/>
<circle class="f" cx="123.1" cy="221.6" r="1.6"/>
<circle class="f" cx="137.7" cy="172.9" r="1.6"/>
<circle class="f" cx="90.0" cy="142.9" r="1.6"/>
<circle class="g" cx="214.1" cy="206.9" r="1.6"/>
<circle class="g" cx="176.0" cy="233.3" r="1.6"/>
<circle class="f" cx="108.0" cy="190.7" r="1.6"/>
<circle class="g" cx="186.9" cy="194.0" r="1.6"/>
<circle class="n" cx="192.9" cy="184.0" r="1.6"/>
<circle class="n" cx="195.7" cy="199.7" r="1.6"/>
<circle class="k" cx="243.0" cy="165.0" r="1.6"/>
<circle class="g" cx="164.5" cy="183.2" r="1.6"/>
<circle class="g" cx="193.3" cy="231.7" r="1.6"/>
<circle class="f" cx="67.7" cy="166.7" r="1.6"/>
<circle class="f" cx="144.8" cy="241.4" r="1.6"/>
<circle class="g" cx="146.4" cy="209.5" r="1.6"/>
<circle class="n" cx="167.4" cy="179.8" r="1.6"/>
<circle class="f" cx="126.4" cy="187.7" r="1.6"/>
<circle class="k" cx="189.0" cy="175.1" r="1.6"/>
<circle class="f" cx="126.3" cy="119.1" r="1.6"/>
<circle class="g" cx="188.1" cy="195.0" r="1.6"/>
<circle class="f" cx="128.8" cy="271.0" r="1.6"/>
<circle class="f" cx="119.8" cy="184.5" r="1.6"/>
<circle class="k" cx="249.9" cy="184.4" r="1.6"/>
<circle class="k" cx="248.2" cy="193.4" r="1.6"/>
<circle class="k" cx="235.1" cy="220.2" r="1.6"/>
<circle class="n" cx="128.9" cy="201.4" r="1.6"/>
<circle class="g" cx="172.7" cy="216.9" r="1.6"/>
<circle class="n" cx="179.8" cy="222.2" r="1.6"/>
<circle class="n" cx="204.9" cy="214.9" r="1.6"/>
<circle class="f" cx="145.8" cy="214.1" r="1.6"/>
<circle class="g" cx="171.7" cy="229.8" r="1.6"/>
<circle class="g" cx="158.9" cy="205.6" r="1.6"/>
<circle class="g" cx="198.1" cy="221.2" r="1.6"/>
<circle class="g" cx="207.5" cy="247.6" r="1.6"/>
<circle class="f" cx="163.4" cy="243.9" r="1.6"/>
<circle class="k" cx="234.2" cy="207.1" r="1.6"/>
<circle class="f" cx="132.5" cy="216.2" r="1.6"/>
<circle class="g" cx="168.1" cy="205.7" r="1.6"/>
<circle class="g" cx="158.9" cy="197.3" r="1.6"/>
<circle class="f" cx="89.2" cy="173.6" r="1.6"/>
<circle class="n" cx="173.9" cy="231.3" r="1.6"/>
<circle class="g" cx="161.7" cy="225.4" r="1.6"/>
<circle class="f" cx="101.9" cy="154.9" r="1.6"/>
<circle class="f" cx="152.4" cy="185.1" r="1.6"/>
<circle class="n" cx="181.9" cy="211.6" r="1.6"/>
<circle class="g" cx="182.2" cy="202.2" r="1.6"/>
<circle class="f" cx="138.9" cy="210.0" r="1.6"/>
<circle class="g" cx="208.8" cy="205.9" r="1.6"/>
<circle class="f" cx="126.3" cy="212.0" r="1.6"/>
<circle class="f" cx="153.3" cy="213.4" r="1.6"/>
<circle class="f" cx="134.3" cy="220.3" r="1.6"/>
<circle class="f" cx="163.8" cy="178.5" r="1.6"/>
<circle class="k" cx="208.5" cy="186.7" r="1.6"/>
<circle class="f" cx="109.4" cy="162.6" r="1.6"/>
<circle class="f" cx="111.3" cy="195.6" r="1.6"/>
<circle class="f" cx="168.2" cy="223.5" r="1.6"/>
<circle class="g" cx="204.1" cy="205.8" r="1.6"/>
<circle class="g" cx="238.1" cy="218.3" r="1.6"/>
<circle class="g" cx="185.4" cy="183.2" r="1.6"/>
<circle class="g" cx="177.1" cy="225.7" r="1.6"/>
<circle class="f" cx="143.2" cy="157.3" r="1.6"/>
<circle class="g" cx="203.2" cy="249.9" r="1.6"/>
<circle class="k" cx="259.7" cy="172.0" r="1.6"/>
<circle class="f" cx="117.0" cy="177.4" r="1.6"/>
<circle class="g" cx="204.0" cy="260.2" r="1.6"/>
<circle class="f" cx="142.8" cy="239.7" r="1.6"/>
<circle class="f" cx="86.9" cy="159.7" r="1.6"/>
<circle class="g" cx="192.8" cy="226.4" r="1.6"/>
<circle class="k" cx="259.1" cy="152.9" r="1.6"/>
<circle class="g" cx="142.7" cy="176.9" r="1.6"/>
<circle class="f" cx="125.8" cy="175.9" r="1.6"/>
<circle class="k" cx="222.4" cy="177.9" r="1.6"/>
<circle class="k" cx="223.4" cy="153.5" r="1.6"/>
<circle class="g" cx="144.4" cy="194.3" r="1.6"/>
<circle class="g" cx="173.8" cy="207.1" r="1.6"/>
<circle class="g" cx="134.0" cy="210.7" r="1.6"/>
<circle class="n" cx="182.0" cy="288.2" r="1.6"/>
<circle class="f" cx="154.0" cy="188.2" r="1.6"/>
<circle class="g" cx="109.0" cy="257.3" r="1.6"/>
<circle class="f" cx="102.6" cy="177.9" r="1.6"/>
<circle class="g" cx="186.4" cy="256.6" r="1.6"/>
<circle class="g" cx="196.9" cy="231.6" r="1.6"/>
<circle class="n" cx="157.8" cy="173.5" r="1.6"/>
<circle class="g" cx="151.0" cy="213.7" r="1.6"/>
<circle class="f" cx="120.4" cy="234.5" r="1.6"/>
<circle class="g" cx="249.1" cy="205.8" r="1.6"/>
<circle class="g" cx="168.6" cy="232.8" r="1.6"/>
<circle class="g" cx="200.1" cy="246.5" r="1.6"/>
<circle class="g" cx="176.1" cy="281.2" r="1.6"/>
<circle class="n" cx="206.8" cy="225.3" r="1.6"/>
<circle class="g" cx="154.7" cy="207.4" r="1.6"/>
<circle class="k" cx="259.6" cy="99.3" r="1.6"/>
<circle class="g" cx="193.3" cy="202.7" r="1.6"/>
<circle class="g" cx="176.1" cy="238.6" r="1.6"/>
<circle class="n" cx="181.6" cy="155.9" r="1.6"/>
<circle class="g" cx="195.8" cy="235.3" r="1.6"/>
<circle class="g" cx="199.6" cy="233.4" r="1.6"/>
<circle class="k" cx="185.1" cy="210.3" r="1.6"/>
<circle class="n" cx="187.4" cy="197.2" r="1.6"/>
<circle class="g" cx="206.7" cy="219.8" r="1.6"/>
<circle class="k" cx="233.2" cy="228.3" r="1.6"/>
<circle class="n" cx="155.0" cy="192.0" r="1.6"/>
<circle class="f" cx="124.1" cy="180.2" r="1.6"/>
<circle class="g" cx="152.4" cy="141.4" r="1.6"/>
<circle class="n" cx="168.8" cy="203.0" r="1.6"/>
<circle class="f" cx="164.1" cy="253.7" r="1.6"/>
<circle class="n" cx="168.1" cy="174.1" r="1.6"/>
<circle class="n" cx="173.3" cy="183.7" r="1.6"/>
<circle class="g" cx="150.7" cy="192.6" r="1.6"/>
<circle class="f" cx="161.6" cy="237.4" r="1.6"/>
<circle class="g" cx="191.7" cy="198.6" r="1.6"/>
<circle class="f" cx="103.6" cy="230.8" r="1.6"/>
<circle class="k" cx="238.1" cy="210.9" r="1.6"/>
<circle class="k" cx="245.6" cy="203.1" r="1.6"/>
<circle class="g" cx="225.2" cy="206.1" r="1.6"/>
<circle class="f" cx="136.6" cy="148.9" r="1.6"/>
<circle class="g" cx="202.9" cy="262.8" r="1.6"/>
<circle class="f" cx="70.0" cy="113.4" r="1.6"/>
<circle class="f" cx="130.1" cy="113.7" r="1.6"/>
<circle class="g" cx="216.5" cy="211.1" r="1.6"/>
<circle class="n" cx="201.5" cy="200.8" r="1.6"/>
<circle class="g" cx="182.4" cy="239.9" r="1.6"/>
<circle class="k" cx="191.8" cy="215.8" r="1.6"/>
<circle class="g" cx="131.0" cy="201.4" r="1.6"/>
<circle class="f" cx="111.1" cy="184.0" r="1.6"/>
<circle class="f" cx="118.4" cy="214.1" r="1.6"/>
<circle class="n" cx="207.8" cy="187.1" r="1.6"/>
<circle class="g" cx="198.0" cy="288.0" r="1.6"/>
<circle class="f" cx="155.4" cy="209.4" r="1.6"/>
<circle class="k" cx="201.0" cy="203.3" r="1.6"/>
<circle class="n" cx="181.3" cy="202.1" r="1.6"/>
<circle class="g" cx="215.1" cy="202.8" r="1.6"/>
<circle class="k" cx="179.0" cy="204.2" r="1.6"/>
<circle class="g" cx="159.5" cy="217.1" r="1.6"/>
<circle class="k" cx="191.0" cy="182.1" r="1.6"/>
<circle class="g" cx="191.7" cy="180.3" r="1.6"/>
<circle class="g" cx="206.3" cy="245.8" r="1.6"/>
<circle class="g" cx="210.0" cy="205.3" r="1.6"/>
<circle class="f" cx="137.5" cy="200.4" r="1.6"/>
<circle class="g" cx="186.1" cy="250.3" r="1.6"/>
<circle class="f" cx="134.2" cy="193.8" r="1.6"/>
<circle class="g" cx="156.5" cy="230.7" r="1.6"/>
<circle class="k" cx="228.3" cy="215.1" r="1.6"/>
<circle class="k" cx="208.8" cy="207.8" r="1.6"/>
<circle class="g" cx="205.0" cy="225.7" r="1.6"/>
<circle class="g" cx="189.3" cy="247.7" r="1.6"/>
<circle class="n" cx="178.7" cy="226.6" r="1.6"/>
<circle class="n" cx="178.0" cy="201.2" r="1.6"/>
<circle class="g" cx="200.4" cy="206.0" r="1.6"/>
<circle class="g" cx="205.8" cy="200.2" r="1.6"/>
<circle class="g" cx="145.4" cy="236.9" r="1.6"/>
<circle class="n" cx="194.3" cy="202.6" r="1.6"/>
<circle class="g" cx="180.0" cy="157.5" r="1.6"/>
<circle class="g" cx="179.9" cy="212.1" r="1.6"/>
<circle class="k" cx="226.8" cy="151.9" r="1.6"/>
<circle class="k" cx="194.7" cy="199.1" r="1.6"/>
<circle class="g" cx="179.0" cy="243.7" r="1.6"/>
<circle class="g" cx="203.0" cy="280.7" r="1.6"/>
<circle class="g" cx="212.7" cy="186.3" r="1.6"/>
<circle class="g" cx="126.5" cy="233.7" r="1.6"/>
<circle class="f" cx="141.5" cy="199.5" r="1.6"/>
<circle class="g" cx="184.7" cy="238.3" r="1.6"/>
<circle class="g" cx="117.1" cy="123.9" r="1.6"/>
<circle class="f" cx="138.3" cy="162.8" r="1.6"/>
<circle class="g" cx="128.1" cy="201.4" r="1.6"/>
<circle class="f" cx="92.4" cy="190.7" r="1.6"/>
<circle class="g" cx="170.6" cy="190.9" r="1.6"/>
<circle class="n" cx="174.4" cy="189.1" r="1.6"/>
<circle class="n" cx="175.3" cy="170.4" r="1.6"/>
<circle class="g" cx="240.0" cy="249.7" r="1.6"/>
<circle class="g" cx="122.9" cy="228.3" r="1.6"/>
<circle class="g" cx="224.3" cy="198.9" r="1.6"/>
<circle class="n" cx="197.6" cy="196.6" r="1.6"/>
<circle class="g" cx="170.2" cy="196.0" r="1.6"/>
<circle class="n" cx="139.9" cy="213.4" r="1.6"/>
<circle class="f" cx="122.3" cy="210.8" r="1.6"/>
<circle class="k" cx="240.8" cy="230.5" r="1.6"/>
<circle class="k" cx="231.0" cy="175.1" r="1.6"/>
<circle class="f" cx="119.1" cy="231.2" r="1.6"/>
<circle class="f" cx="142.1" cy="200.7" r="1.6"/>
<circle class="n" cx="186.7" cy="201.3" r="1.6"/>
<circle class="k" cx="260.1" cy="196.6" r="1.6"/>
<circle class="k" cx="227.0" cy="210.0" r="1.6"/>
<circle class="g" cx="161.0" cy="226.4" r="1.6"/>
<circle class="n" cx="217.9" cy="209.1" r="1.6"/>
<circle class="g" cx="165.0" cy="231.5" r="1.6"/>
<circle class="n" cx="216.6" cy="196.6" r="1.6"/>
<circle class="k" cx="216.4" cy="170.2" r="1.6"/>
<circle class="n" cx="165.0" cy="224.2" r="1.6"/>
<circle class="g" cx="200.8" cy="206.8" r="1.6"/>
<circle class="g" cx="157.0" cy="252.0" r="1.6"/>
<circle class="n" cx="161.2" cy="232.3" r="1.6"/>
<circle class="g" cx="170.7" cy="251.3" r="1.6"/>
<circle class="g" cx="114.9" cy="218.9" r="1.6"/>
<circle class="n" cx="203.4" cy="188.5" r="1.6"/>
<circle class="g" cx="247.1" cy="224.2" r="1.6"/>
<circle class="g" cx="125.6" cy="194.4" r="1.6"/>
<circle class="n" cx="166.4" cy="230.5" r="1.6"/>
<circle class="n" cx="194.4" cy="197.7" r="1.6"/>
<circle class="g" cx="163.7" cy="219.2" r="1.6"/>
<circle class="k" cx="231.7" cy="221.3" r="1.6"/>
<circle class="g" cx="220.0" cy="278.4" r="1.6"/>
<circle class="f" cx="62.9" cy="125.7" r="1.6"/>
<circle class="f" cx="185.0" cy="131.7" r="1.6"/>
<circle class="k" cx="199.6" cy="223.1" r="1.6"/>
<circle class="f" cx="131.0" cy="140.7" r="1.6"/>
<circle class="f" cx="144.7" cy="217.5" r="1.6"/>
<circle class="k" cx="219.6" cy="181.0" r="1.6"/>
<circle class="n" cx="153.3" cy="178.6" r="1.6"/>
<circle class="k" cx="228.9" cy="186.4" r="1.6"/>
<circle class="k" cx="226.6" cy="212.7" r="1.6"/>
<circle class="g" cx="178.5" cy="288.2" r="1.6"/>
<circle class="f" cx="114.7" cy="207.3" r="1.6"/>
<circle class="f" cx="134.2" cy="204.0" r="1.6"/>
<circle class="f" cx="145.6" cy="200.1" r="1.6"/>
<circle class="g" cx="177.4" cy="237.6" r="1.6"/>
<circle class="g" cx="181.1" cy="213.8" r="1.6"/>
<circle class="f" cx="139.4" cy="190.5" r="1.6"/>
<circle class="k" cx="224.6" cy="188.1" r="1.6"/>
<circle class="g" cx="153.8" cy="209.4" r="1.6"/>
<circle class="g" cx="136.3" cy="214.8" r="1.6"/>
<circle class="f" cx="136.1" cy="183.5" r="1.6"/>
<circle class="k" cx="213.3" cy="186.8" r="1.6"/>
<circle class="g" cx="225.7" cy="225.3" r="1.6"/>
<circle class="k" cx="246.4" cy="240.8" r="1.6"/>
<circle class="f" cx="95.0" cy="117.5" r="1.6"/>
<circle class="g" cx="180.9" cy="183.6" r="1.6"/>
<circle class="n" cx="174.6" cy="178.1" r="1.6"/>
<circle class="f" cx="68.9" cy="148.3" r="1.6"/>
<circle class="g" cx="204.0" cy="196.9" r="1.6"/>
<circle class="n" cx="176.6" cy="184.5" r="1.6"/>
<circle class="k" cx="247.3" cy="178.0" r="1.6"/>
<circle class="k" cx="233.3" cy="226.1" r="1.6"/>
<circle class="f" cx="71.6" cy="150.6" r="1.6"/>
<circle class="f" cx="102.2" cy="149.0" r="1.6"/>
<circle class="g" cx="192.4" cy="227.0" r="1.6"/>
<circle class="g" cx="219.7" cy="226.5" r="1.6"/>
<circle class="f" cx="130.4" cy="189.2" r="1.6"/>
<circle class="f" cx="119.3" cy="214.3" r="1.6"/>
<circle class="f" cx="91.0" cy="194.4" r="1.6"/>
<circle class="f" cx="145.9" cy="195.5" r="1.6"/>
<circle class="f" cx="158.4" cy="236.4" r="1.6"/>
<circle class="f" cx="86.0" cy="153.9" r="1.6"/>
<circle class="g" cx="230.8" cy="200.6" r="1.6"/>
<circle class="g" cx="207.8" cy="212.5" r="1.6"/>
<circle class="g" cx="188.1" cy="159.5" r="1.6"/>
<circle class="f" cx="191.1" cy="143.6" r="1.6"/>
<circle class="g" cx="204.4" cy="195.2" r="1.6"/>
<circle class="g" cx="209.9" cy="249.5" r="1.6"/>
<circle class="n" cx="148.6" cy="244.5" r="1.6"/>
<circle class="g" cx="111.1" cy="189.3" r="1.6"/>
<circle class="g" cx="182.2" cy="196.7" r="1.6"/>
<circle class="f" cx="130.7" cy="205.2" r="1.6"/>
<circle class="k" cx="240.8" cy="191.5" r="1.6"/>
<circle class="f" cx="140.2" cy="149.8" r="1.6"/>
<circle class="g" cx="186.4" cy="216.6" r="1.6"/>
<circle class="g" cx="157.4" cy="198.4" r="1.6"/>
<circle class="f" cx="179.4" cy="202.0" r="1.6"/>
<circle class="k" cx="215.9" cy="170.9" r="1.6"/>
<circle class="k" cx="181.0" cy="231.9" r="1.6"/>
<circle class="n" cx="204.5" cy="173.0" r="1.6"/>
<circle class="n" cx="183.7" cy="216.4" r="1.6"/>
<circle class="g" cx="233.0" cy="220.5" r="1.6"/>
<circle class="k" cx="238.0" cy="233.3" r="1.6"/>
<circle class="g" cx="157.0" cy="203.9" r="1.6"/>
<circle class="g" cx="181.9" cy="221.9" r="1.6"/>
<circle class="g" cx="164.5" cy="285.6" r="1.6"/>
<circle class="n" cx="194.9" cy="195.8" r="1.6"/>
<circle class="f" cx="118.0" cy="157.2" r="1.6"/>
<circle class="n" cx="144.9" cy="221.2" r="1.6"/>
<circle class="f" cx="90.1" cy="170.5" r="1.6"/>
<circle class="g" cx="203.3" cy="184.7" r="1.6"/>
<circle class="g" cx="170.6" cy="185.8" r="1.6"/>
<circle class="g" cx="156.2" cy="215.7" r="1.6"/>
<circle class="f" cx="128.1" cy="199.3" r="1.6"/>
<circle class="k" cx="209.1" cy="187.9" r="1.6"/>
<circle class="g" cx="169.3" cy="236.4" r="1.6"/>
<circle class="g" cx="256.3" cy="138.7" r="1.6"/>
<circle class="g" cx="181.4" cy="237.4" r="1.6"/>
<circle class="g" cx="139.9" cy="214.5" r="1.6"/>
<circle class="k" cx="233.9" cy="200.3" r="1.6"/>
<circle class="g" cx="142.6" cy="233.2" r="1.6"/>
<circle class="k" cx="215.8" cy="217.6" r="1.6"/>
<circle class="f" cx="128.9" cy="171.8" r="1.6"/>
<circle class="n" cx="176.8" cy="204.3" r="1.6"/>
<circle class="g" cx="217.1" cy="232.6" r="1.6"/>
<circle class="g" cx="226.2" cy="180.5" r="1.6"/>
<circle class="f" cx="142.6" cy="244.5" r="1.6"/>
<circle class="n" cx="198.9" cy="180.6" r="1.6"/>
<circle class="g" cx="186.7" cy="224.8" r="1.6"/>
<circle class="k" cx="207.2" cy="209.4" r="1.6"/>
<circle class="k" cx="201.9" cy="214.7" r="1.6"/>
<circle class="f" cx="165.3" cy="236.1" r="1.6"/>
<circle class="g" cx="194.9" cy="179.9" r="1.6"/>
<circle class="g" cx="230.9" cy="203.9" r="1.6"/>
<circle class="g" cx="194.7" cy="229.0" r="1.6"/>
<circle class="n" cx="180.4" cy="220.1" r="1.6"/>
<circle class="k" cx="196.5" cy="200.3" r="1.6"/>
<circle class="g" cx="147.5" cy="201.7" r="1.6"/>
<circle class="k" cx="239.4" cy="189.8" r="1.6"/>
<circle class="g" cx="180.4" cy="232.7" r="1.6"/>
<circle class="f" cx="120.0" cy="201.7" r="1.6"/>
<circle class="f" cx="88.9" cy="177.5" r="1.6"/>
<circle class="f" cx="163.2" cy="241.8" r="1.6"/>
<circle class="k" cx="198.8" cy="204.1" r="1.6"/>
<circle class="n" cx="147.0" cy="195.1" r="1.6"/>
<circle class="n" cx="167.4" cy="203.5" r="1.6"/>
<circle class="k" cx="197.6" cy="181.5" r="1.6"/>
<circle class="n" cx="184.6" cy="174.5" r="1.6"/>
<circle class="k" cx="236.6" cy="161.2" r="1.6"/>
<circle class="g" cx="158.6" cy="214.5" r="1.6"/>
<circle class="n" cx="212.1" cy="222.6" r="1.6"/>
<circle class="k" cx="217.1" cy="216.7" r="1.6"/>
<circle class="g" cx="218.6" cy="228.8" r="1.6"/>
<circle class="g" cx="227.8" cy="219.1" r="1.6"/>
<circle class="k" cx="253.9" cy="210.2" r="1.6"/>
<circle class="n" cx="196.5" cy="197.1" r="1.6"/>
<circle class="g" cx="141.2" cy="240.9" r="1.6"/>
<circle class="g" cx="191.8" cy="226.9" r="1.6"/>
<circle class="n" cx="166.4" cy="208.8" r="1.6"/>
<circle class="f" cx="151.6" cy="187.4" r="1.6"/>
<circle class="g" cx="225.3" cy="184.7" r="1.6"/>
<circle class="n" cx="163.6" cy="177.0" r="1.6"/>
<circle class="n" cx="204.2" cy="199.7" r="1.6"/>
<circle class="f" cx="170.4" cy="196.6" r="1.6"/>
<circle class="g" cx="192.6" cy="244.5" r="1.6"/>
<circle class="k" cx="223.7" cy="186.2" r="1.6"/>
<circle class="g" cx="153.9" cy="240.5" r="1.6"/>
<circle class="n" cx="181.3" cy="213.8" r="1.6"/>
<circle class="g" cx="228.3" cy="181.9" r="1.6"/>
<circle class="g" cx="151.7" cy="197.6" r="1.6"/>
<circle class="n" cx="188.8" cy="199.7" r="1.6"/>
<circle class="f" cx="153.6" cy="210.6" r="1.6"/>
<circle class="n" cx="174.8" cy="232.7" r="1.6"/>
<circle class="k" cx="195.2" cy="193.9" r="1.6"/>
<circle class="k" cx="211.6" cy="196.1" r="1.6"/>
<circle class="f" cx="143.3" cy="212.0" r="1.6"/>
<circle class="f" cx="103.4" cy="152.7" r="1.6"/>
<circle class="f" cx="154.6" cy="191.6" r="1.6"/>
<circle class="n" cx="210.2" cy="213.0" r="1.6"/>
<circle class="n" cx="175.5" cy="191.3" r="1.6"/>
<circle class="f" cx="126.3" cy="163.8" r="1.6"/>
<circle class="f" cx="112.0" cy="178.9" r="1.6"/>
<circle class="g" cx="217.2" cy="227.0" r="1.6"/>
<circle class="f" cx="101.8" cy="167.4" r="1.6"/>
<circle class="n" cx="174.8" cy="198.8" r="1.6"/>
<circle class="g" cx="173.5" cy="192.1" r="1.6"/>
<circle class="g" cx="122.2" cy="227.3" r="1.6"/>
<circle class="f" cx="124.5" cy="182.6" r="1.6"/>
<circle class="f" cx="131.2" cy="182.5" r="1.6"/>
<circle class="g" cx="231.9" cy="236.5" r="1.6"/>
<circle class="g" cx="157.9" cy="190.2" r="1.6"/>
<circle class="g" cx="242.0" cy="240.2" r="1.6"/>
<circle class="g" cx="202.5" cy="214.9" r="1.6"/>
<circle class="g" cx="145.5" cy="287.1" r="1.6"/>
<circle class="g" cx="181.1" cy="197.6" r="1.6"/>
<circle class="g" cx="216.3" cy="252.8" r="1.6"/>
<circle class="f" cx="119.8" cy="195.1" r="1.6"/>
<circle class="k" cx="266.5" cy="97.8" r="1.6"/>
<circle class="g" cx="157.0" cy="220.0" r="1.6"/>
<circle class="k" cx="266.0" cy="185.4" r="1.6"/>
<circle class="g" cx="214.4" cy="249.1" r="1.6"/>
<circle class="g" cx="224.3" cy="258.4" r="1.6"/>
<circle class="g" cx="192.6" cy="162.7" r="1.6"/>
<circle class="g" cx="155.3" cy="230.7" r="1.6"/>
<circle class="n" cx="204.8" cy="208.5" r="1.6"/>
<circle class="g" cx="191.7" cy="215.5" r="1.6"/>
<circle class="k" cx="243.0" cy="208.1" r="1.6"/>
<circle class="g" cx="195.1" cy="282.1" r="1.6"/>
<circle class="g" cx="138.7" cy="235.0" r="1.6"/>
<circle class="k" cx="184.1" cy="182.0" r="1.6"/>
<circle class="n" cx="167.2" cy="180.6" r="1.6"/>
<circle class="f" cx="118.8" cy="198.4" r="1.6"/>
<circle class="g" cx="179.9" cy="230.1" r="1.6"/>
<circle class="n" cx="179.4" cy="207.9" r="1.6"/>
<circle class="k" cx="278.0" cy="156.8" r="1.6"/>
<circle class="g" cx="182.2" cy="262.5" r="1.6"/>
<circle class="n" cx="174.5" cy="181.9" r="1.6"/>
<circle class="g" cx="217.6" cy="250.1" r="1.6"/>
<circle class="k" cx="220.5" cy="164.5" r="1.6"/>
<circle class="g" cx="193.1" cy="229.1" r="1.6"/>
<circle class="g" cx="121.0" cy="177.0" r="1.6"/>
<circle class="g" cx="166.1" cy="218.4" r="1.6"/>
<circle class="g" cx="144.8" cy="255.8" r="1.6"/>
<circle class="k" cx="260.4" cy="169.6" r="1.6"/>
<circle class="g" cx="179.0" cy="224.3" r="1.6"/>
<circle class="g" cx="235.6" cy="249.2" r="1.6"/>
<circle class="n" cx="189.1" cy="196.4" r="1.6"/>
<circle class="g" cx="150.7" cy="189.2" r="1.6"/>
<circle class="g" cx="164.9" cy="233.2" r="1.6"/>
<circle class="g" cx="190.6" cy="214.9" r="1.6"/>
<circle class="k" cx="216.3" cy="201.8" r="1.6"/>
<circle class="f" cx="148.7" cy="221.8" r="1.6"/>
<circle class="g" cx="148.1" cy="226.6" r="1.6"/>
<circle class="f" cx="136.9" cy="184.9" r="1.6"/>
<circle class="g" cx="199.8" cy="222.7" r="1.6"/>
<circle class="f" cx="125.5" cy="132.8" r="1.6"/>
<circle class="n" cx="184.1" cy="223.8" r="1.6"/>
<circle class="g" cx="189.0" cy="253.5" r="1.6"/>
<circle class="k" cx="181.3" cy="191.4" r="1.6"/>
<circle class="f" cx="156.8" cy="192.8" r="1.6"/>
<circle class="f" cx="170.3" cy="222.6" r="1.6"/>
<circle class="k" cx="223.7" cy="192.4" r="1.6"/>
<circle class="f" cx="116.2" cy="203.2" r="1.6"/>
<circle class="g" cx="149.8" cy="193.1" r="1.6"/>
<circle class="g" cx="225.4" cy="225.3" r="1.6"/>
<circle class="g" cx="160.9" cy="137.8" r="1.6"/>
<circle class="k" cx="273.8" cy="187.4" r="1.6"/>
<circle class="n" cx="147.0" cy="193.4" r="1.6"/>
<circle class="f" cx="134.5" cy="215.0" r="1.6"/>
<circle class="f" cx="140.8" cy="221.5" r="1.6"/>
<circle class="k" cx="194.9" cy="204.6" r="1.6"/>
<circle class="k" cx="240.9" cy="180.4" r="1.6"/>
<circle class="f" cx="124.3" cy="234.6" r="1.6"/>
<circle class="f" cx="126.0" cy="193.2" r="1.6"/>
<circle class="n" cx="171.7" cy="228.2" r="1.6"/>
<circle class="n" cx="197.0" cy="217.7" r="1.6"/>
<circle class="f" cx="101.3" cy="171.7" r="1.6"/>
<circle class="f" cx="104.1" cy="145.7" r="1.6"/>
<circle class="f" cx="138.1" cy="199.5" r="1.6"/>
<circle class="n" cx="163.0" cy="209.4" r="1.6"/>
<circle class="k" cx="253.5" cy="207.4" r="1.6"/>
<circle class="f" cx="145.6" cy="105.7" r="1.6"/>
<circle class="g" cx="178.4" cy="213.2" r="1.6"/>
<circle class="g" cx="189.2" cy="241.4" r="1.6"/>
<circle class="g" cx="178.4" cy="229.5" r="1.6"/>
<circle class="n" cx="205.6" cy="195.9" r="1.6"/>
<circle class="n" cx="184.3" cy="216.9" r="1.6"/>
<circle class="n" cx="161.1" cy="190.4" r="1.6"/>
<circle class="f" cx="120.6" cy="209.7" r="1.6"/>
<circle class="f" cx="164.7" cy="188.1" r="1.6"/>
<circle class="f" cx="132.2" cy="143.6" r="1.6"/>
<circle class="k" cx="240.6" cy="215.3" r="1.6"/>
<circle class="k" cx="195.1" cy="243.0" r="1.6"/>
<circle class="k" cx="242.5" cy="196.8" r="1.6"/>
<circle class="g" cx="224.6" cy="171.9" r="1.6"/>
<circle class="f" cx="109.2" cy="167.8" r="1.6"/>
<circle class="f" cx="115.0" cy="161.3" r="1.6"/>
<circle class="k" cx="258.6" cy="152.8" r="1.6"/>
<circle class="f" cx="119.2" cy="133.2" r="1.6"/>
<circle class="n" cx="209.8" cy="189.1" r="1.6"/>
<circle class="n" cx="173.1" cy="211.3" r="1.6"/>
<circle class="f" cx="150.0" cy="180.8" r="1.6"/>
<circle class="f" cx="131.3" cy="192.7" r="1.6"/>
<circle class="k" cx="195.1" cy="227.5" r="1.6"/>
<circle class="f" cx="141.8" cy="220.7" r="1.6"/>
<circle class="f" cx="123.9" cy="182.9" r="1.6"/>
<circle class="n" cx="160.8" cy="228.1" r="1.6"/>
<circle class="n" cx="166.7" cy="208.6" r="1.6"/>
<circle class="f" cx="154.5" cy="242.3" r="1.6"/>
<circle class="g" cx="122.8" cy="192.3" r="1.6"/>
<circle class="g" cx="136.9" cy="230.9" r="1.6"/>
<circle class="f" cx="76.6" cy="134.0" r="1.6"/>
<circle class="n" cx="191.5" cy="164.3" r="1.6"/>
<circle class="k" cx="224.0" cy="176.1" r="1.6"/>
<circle class="g" cx="187.3" cy="261.3" r="1.6"/>
<circle class="n" cx="162.6" cy="171.6" r="1.6"/>
<circle class="k" cx="205.4" cy="203.5" r="1.6"/>
<circle class="k" cx="251.9" cy="193.0" r="1.6"/>
<circle class="g" cx="210.2" cy="220.8" r="1.6"/>
<circle class="g" cx="199.0" cy="261.1" r="1.6"/>
<circle class="g" cx="135.5" cy="263.1" r="1.6"/>
<circle class="k" cx="211.3" cy="194.9" r="1.6"/>
<circle class="k" cx="243.1" cy="240.3" r="1.6"/>
<circle class="n" cx="211.0" cy="187.9" r="1.6"/>
<circle class="g" cx="205.2" cy="209.2" r="1.6"/>
<circle class="g" cx="176.5" cy="269.7" r="1.6"/>
<circle class="f" cx="107.8" cy="224.8" r="1.6"/>
<circle class="g" cx="157.8" cy="214.1" r="1.6"/>
<circle class="f" cx="96.6" cy="188.7" r="1.6"/>
<circle class="n" cx="162.0" cy="235.7" r="1.6"/>
<circle class="n" cx="189.9" cy="194.6" r="1.6"/>
<circle class="k" cx="249.3" cy="177.4" r="1.6"/>
<circle class="k" cx="209.5" cy="166.4" r="1.6"/>
<circle class="g" cx="202.2" cy="260.0" r="1.6"/>
<circle class="n" cx="159.3" cy="211.7" r="1.6"/>
<circle class="n" cx="203.2" cy="203.1" r="1.6"/>
<circle class="k" cx="167.1" cy="212.0" r="1.6"/>
<circle class="g" cx="191.4" cy="212.4" r="1.6"/>
<circle class="f" cx="135.6" cy="170.9" r="1.6"/>
<circle class="f" cx="136.1" cy="171.7" r="1.6"/>
<circle class="g" cx="193.0" cy="222.4" r="1.6"/>
<circle class="g" cx="195.7" cy="287.4" r="1.6"/>
<circle class="k" cx="218.9" cy="203.7" r="1.6"/>
<circle class="g" cx="184.9" cy="220.3" r="1.6"/>
<circle class="f" cx="122.0" cy="170.5" r="1.6"/>
<circle class="g" cx="219.9" cy="276.3" r="1.6"/>
<circle class="f" cx="165.9" cy="175.7" r="1.6"/>
<circle class="f" cx="145.5" cy="209.8" r="1.6"/>
<circle class="g" cx="115.1" cy="228.0" r="1.6"/>
<circle class="g" cx="167.2" cy="209.4" r="1.6"/>
<circle class="k" cx="247.5" cy="162.6" r="1.6"/>
<circle class="f" cx="133.0" cy="228.1" r="1.6"/>
<circle class="k" cx="227.4" cy="258.7" r="1.6"/>
<circle class="n" cx="183.1" cy="223.4" r="1.6"/>
<circle class="k" cx="200.0" cy="169.1" r="1.6"/>
<circle class="f" cx="174.7" cy="232.5" r="1.6"/>
<circle class="g" cx="211.8" cy="203.9" r="1.6"/>
<circle class="k" cx="207.3" cy="205.9" r="1.6"/>
<circle class="g" cx="205.7" cy="190.0" r="1.6"/>
<circle class="k" cx="229.7" cy="198.0" r="1.6"/>
<circle class="f" cx="154.0" cy="184.1" r="1.6"/>
<circle class="g" cx="133.6" cy="178.9" r="1.6"/>
<circle class="f" cx="125.8" cy="203.0" r="1.6"/>
<circle class="n" cx="168.0" cy="228.5" r="1.6"/>
<circle class="k" cx="227.9" cy="190.9" r="1.6"/>
<circle class="g" cx="215.0" cy="209.1" r="1.6"/>
<circle class="f" cx="166.1" cy="180.9" r="1.6"/>
<circle class="f" cx="105.1" cy="205.3" r="1.6"/>
<circle class="f" cx="124.8" cy="166.7" r="1.6"/>
<circle class="f" cx="154.1" cy="214.5" r="1.6"/>
<circle class="f" cx="129.9" cy="158.9" r="1.6"/>
<circle class="g" cx="195.7" cy="200.8" r="1.6"/>
<circle class="f" cx="104.0" cy="168.0" r="1.6"/>
<circle class="k" cx="213.4" cy="183.9" r="1.6"/>
<circle class="n" cx="182.5" cy="193.9" r="1.6"/>
<circle class="f" cx="105.1" cy="163.1" r="1.6"/>
<circle class="f" cx="177.9" cy="228.2" r="1.6"/>
<circle class="n" cx="207.8" cy="187.4" r="1.6"/>
<circle class="n" cx="195.7" cy="239.0" r="1.6"/>
<circle class="g" cx="143.1" cy="240.5" r="1.6"/>
<circle class="g" cx="211.9" cy="168.2" r="1.6"/>
<circle class="n" cx="203.0" cy="182.6" r="1.6"/>
<circle class="k" cx="268.8" cy="170.2" r="1.6"/>
<circle class="f" cx="132.4" cy="210.0" r="1.6"/>
<circle class="f" cx="134.0" cy="214.0" r="1.6"/>
<circle class="f" cx="122.6" cy="180.4" r="1.6"/>
<circle class="f" cx="167.3" cy="174.1" r="1.6"/>
<circle class="k" cx="194.5" cy="195.8" r="1.6"/>
<circle class="n" cx="175.6" cy="187.4" r="1.6"/>
<circle class="f" cx="154.4" cy="225.3" r="1.6"/>
<circle class="f" cx="128.8" cy="217.4" r="1.6"/>
<circle class="n" cx="199.8" cy="210.2" r="1.6"/>
<circle class="k" cx="235.7" cy="142.7" r="1.6"/>
<circle class="g" cx="161.3" cy="217.2" r="1.6"/>
<circle class="g" cx="146.2" cy="188.3" r="1.6"/>
<circle class="f" cx="149.0" cy="202.1" r="1.6"/>
<circle class="g" cx="130.3" cy="218.9" r="1.6"/>
<circle class="k" cx="216.1" cy="158.4" r="1.6"/>
<circle class="g" cx="156.9" cy="230.8" r="1.6"/>
<circle class="f" cx="118.9" cy="180.1" r="1.6"/>
<circle class="g" cx="179.7" cy="205.5" r="1.6"/>
<circle class="g" cx="182.1" cy="207.0" r="1.6"/>
<circle class="f" cx="123.9" cy="138.2" r="1.6"/>
<circle class="n" cx="196.6" cy="219.6" r="1.6"/>
<circle class="g" cx="205.2" cy="237.7" r="1.6"/>
<circle class="g" cx="175.8" cy="213.9" r="1.6"/>
<circle class="g" cx="223.9" cy="206.5" r="1.6"/>
<circle class="g" cx="156.1" cy="220.6" r="1.6"/>
<circle class="n" cx="173.6" cy="185.0" r="1.6"/>
<circle class="k" cx="189.8" cy="182.4" r="1.6"/>
<circle class="g" cx="197.2" cy="206.3" r="1.6"/>
<circle class="k" cx="184.6" cy="203.0" r="1.6"/>
<circle class="n" cx="200.0" cy="183.8" r="1.6"/>
<circle class="f" cx="122.0" cy="160.8" r="1.6"/>
<circle class="f" cx="45.8" cy="75.4" r="1.6"/>
<circle class="f" cx="128.2" cy="217.8" r="1.6"/>
<circle class="k" cx="223.4" cy="178.1" r="1.6"/>
<circle class="g" cx="189.7" cy="229.7" r="1.6"/>
<circle class="k" cx="159.9" cy="209.3" r="1.6"/>
<circle class="g" cx="215.0" cy="253.3" r="1.6"/>
<circle class="g" cx="185.3" cy="207.5" r="1.6"/>
<circle class="g" cx="188.9" cy="207.4" r="1.6"/>
<circle class="f" cx="174.4" cy="180.8" r="1.6"/>
<circle class="n" cx="199.6" cy="206.6" r="1.6"/>
<circle class="n" cx="195.9" cy="162.6" r="1.6"/>
<circle class="n" cx="184.0" cy="181.1" r="1.6"/>
<circle class="g" cx="163.2" cy="234.3" r="1.6"/>
<circle class="g" cx="184.8" cy="214.8" r="1.6"/>
<circle class="g" cx="186.4" cy="255.9" r="1.6"/>
<circle class="g" cx="159.1" cy="242.1" r="1.6"/>
<circle class="f" cx="150.0" cy="174.3" r="1.6"/>
<circle class="f" cx="131.5" cy="196.9" r="1.6"/>
<circle class="g" cx="140.6" cy="157.3" r="1.6"/>
<circle class="f" cx="163.1" cy="214.9" r="1.6"/>
<circle class="g" cx="185.7" cy="274.2" r="1.6"/>
<circle class="g" cx="155.3" cy="249.4" r="1.6"/>
<circle class="f" cx="176.4" cy="195.1" r="1.6"/>
<circle class="g" cx="159.9" cy="202.4" r="1.6"/>
<circle class="g" cx="204.0" cy="235.8" r="1.6"/>
<circle class="n" cx="165.4" cy="210.6" r="1.6"/>
<circle class="f" cx="92.0" cy="162.4" r="1.6"/>
<circle class="n" cx="199.5" cy="210.4" r="1.6"/>
<circle class="g" cx="183.2" cy="192.4" r="1.6"/>
<circle class="g" cx="134.0" cy="196.5" r="1.6"/>
<circle class="g" cx="211.9" cy="215.2" r="1.6"/>
<circle class="k" cx="201.4" cy="189.3" r="1.6"/>
<circle class="k" cx="241.1" cy="199.4" r="1.6"/>
<circle class="g" cx="192.2" cy="248.1" r="1.6"/>
<circle class="f" cx="165.6" cy="223.6" r="1.6"/>
<circle class="g" cx="176.9" cy="211.6" r="1.6"/>
<circle class="k" cx="243.8" cy="220.2" r="1.6"/>
<circle class="n" cx="178.2" cy="219.4" r="1.6"/>
<circle class="g" cx="217.1" cy="273.2" r="1.6"/>
<circle class="g" cx="204.6" cy="208.8" r="1.6"/>
<circle class="g" cx="194.0" cy="229.6" r="1.6"/>
<circle class="g" cx="200.0" cy="186.6" r="1.6"/>
<circle class="k" cx="261.1" cy="158.1" r="1.6"/>
<circle class="g" cx="191.2" cy="226.4" r="1.6"/>
<circle class="g" cx="156.1" cy="202.7" r="1.6"/>
<circle class="g" cx="127.4" cy="233.2" r="1.6"/>
<circle class="f" cx="168.4" cy="164.0" r="1.6"/>
<circle class="g" cx="159.2" cy="276.9" r="1.6"/>
<circle class="k" cx="260.0" cy="137.2" r="1.6"/>
<circle class="n" cx="177.3" cy="211.8" r="1.6"/>
<circle class="f" cx="130.4" cy="148.0" r="1.6"/>
<circle class="k" cx="223.8" cy="187.6" r="1.6"/>
<circle class="k" cx="225.2" cy="169.6" r="1.6"/>
<circle class="g" cx="166.0" cy="210.8" r="1.6"/>
<circle class="f" cx="128.1" cy="199.3" r="1.6"/>
<circle class="n" cx="161.7" cy="196.6" r="1.6"/>
<circle class="g" cx="134.3" cy="187.2" r="1.6"/>
<circle class="g" cx="177.7" cy="199.9" r="1.6"/>
<circle class="g" cx="158.2" cy="220.1" r="1.6"/>
<circle class="f" cx="115.2" cy="198.0" r="1.6"/>
<circle class="k" cx="244.9" cy="166.4" r="1.6"/>
<circle class="k" cx="211.3" cy="114.9" r="1.6"/>
<circle class="f" cx="151.6" cy="178.8" r="1.6"/>
<circle class="k" cx="211.1" cy="223.2" r="1.6"/>
<circle class="f" cx="124.3" cy="141.4" r="1.6"/>
<circle class="k" cx="206.7" cy="199.1" r="1.6"/>
<circle class="n" cx="187.7" cy="147.6" r="1.6"/>
<circle class="f" cx="97.8" cy="159.7" r="1.6"/>
<circle class="k" cx="246.6" cy="170.5" r="1.6"/>
<circle class="k" cx="229.2" cy="168.6" r="1.6"/>
<circle class="g" cx="155.1" cy="214.4" r="1.6"/>
<circle class="n" cx="185.6" cy="179.3" r="1.6"/>
<circle class="g" cx="222.5" cy="215.9" r="1.6"/>
<circle class="g" cx="170.3" cy="237.2" r="1.6"/>
<circle class="g" cx="133.1" cy="206.4" r="1.6"/>
<circle class="g" cx="194.4" cy="240.9" r="1.6"/>
<circle class="f" cx="123.6" cy="227.6" r="1.6"/>
<circle class="k" cx="214.4" cy="247.1" r="1.6"/>
<circle class="n" cx="193.9" cy="179.5" r="1.6"/>
<circle class="f" cx="129.4" cy="227.7" r="1.6"/>
<circle class="n" cx="166.3" cy="198.8" r="1.6"/>
<circle class="g" cx="171.9" cy="209.0" r="1.6"/>
<circle class="k" cx="228.9" cy="170.2" r="1.6"/>
<circle class="f" cx="110.3" cy="142.8" r="1.6"/>
<circle class="g" cx="171.8" cy="214.4" r="1.6"/>
<circle class="g" cx="247.1" cy="220.8" r="1.6"/>
<circle class="f" cx="145.6" cy="188.3" r="1.6"/>
<circle class="g" cx="226.5" cy="190.8" r="1.6"/>
<circle class="k" cx="228.7" cy="174.2" r="1.6"/>
<circle class="f" cx="159.4" cy="196.6" r="1.6"/>
<circle class="k" cx="221.8" cy="186.6" r="1.6"/>
<circle class="k" cx="219.0" cy="201.6" r="1.6"/>
<circle class="f" cx="123.8" cy="171.7" r="1.6"/>
<circle class="k" cx="195.2" cy="184.1" r="1.6"/>
<circle class="g" cx="164.4" cy="238.9" r="1.6"/>
<circle class="k" cx="240.5" cy="163.9" r="1.6"/>
<circle class="n" cx="205.2" cy="203.8" r="1.6"/>
<circle class="g" cx="215.6" cy="209.8" r="1.6"/>
<circle class="f" cx="162.6" cy="211.5" r="1.6"/>
<circle class="g" cx="171.0" cy="244.9" r="1.6"/>
<circle class="g" cx="160.4" cy="252.2" r="1.6"/>
<circle class="g" cx="211.4" cy="217.5" r="1.6"/>
<circle class="n" cx="177.9" cy="186.2" r="1.6"/>
<circle class="n" cx="166.8" cy="209.6" r="1.6"/>
<circle class="k" cx="214.5" cy="213.9" r="1.6"/>
<circle class="n" cx="171.4" cy="182.0" r="1.6"/>
<circle class="n" cx="178.4" cy="184.2" r="1.6"/>
<circle class="f" cx="131.1" cy="169.2" r="1.6"/>
<circle class="f" cx="153.3" cy="185.7" r="1.6"/>
<circle class="g" cx="198.6" cy="218.4" r="1.6"/>
<circle class="g" cx="186.0" cy="187.0" r="1.6"/>
<circle class="g" cx="164.3" cy="231.2" r="1.6"/>
<circle class="f" cx="103.4" cy="224.8" r="1.6"/>
<circle class="k" cx="265.0" cy="184.9" r="1.6"/>
<circle class="g" cx="159.2" cy="247.1" r="1.6"/>
<circle class="f" cx="176.2" cy="224.4" r="1.6"/>
<circle class="g" cx="183.6" cy="270.5" r="1.6"/>
<circle class="k" cx="206.4" cy="217.0" r="1.6"/>
<circle class="f" cx="157.5" cy="197.2" r="1.6"/>
<circle class="g" cx="181.4" cy="223.5" r="1.6"/>
<circle class="g" cx="171.7" cy="204.6" r="1.6"/>
<circle class="g" cx="214.2" cy="240.1" r="1.6"/>
<circle class="n" cx="180.9" cy="178.5" r="1.6"/>
<circle class="k" cx="211.8" cy="172.7" r="1.6"/>
<circle class="k" cx="204.2" cy="234.3" r="1.6"/>
<circle class="g" cx="240.9" cy="216.7" r="1.6"/>
<circle class="k" cx="224.2" cy="186.9" r="1.6"/>
<circle class="f" cx="151.3" cy="224.9" r="1.6"/>
<circle class="g" cx="170.2" cy="255.9" r="1.6"/>
<circle class="k" cx="228.8" cy="234.4" r="1.6"/>
<circle class="g" cx="168.4" cy="219.4" r="1.6"/>
<circle class="f" cx="115.9" cy="224.3" r="1.6"/>
<circle class="g" cx="177.6" cy="192.3" r="1.6"/>
<circle class="k" cx="217.5" cy="168.0" r="1.6"/>
<circle class="g" cx="191.3" cy="249.5" r="1.6"/>
<circle class="k" cx="201.1" cy="177.6" r="1.6"/>
<circle class="g" cx="122.8" cy="216.7" r="1.6"/>
<circle class="f" cx="158.7" cy="180.5" r="1.6"/>
<circle class="g" cx="189.2" cy="256.0" r="1.6"/>
<circle class="f" cx="96.7" cy="161.9" r="1.6"/>
<circle class="f" cx="133.7" cy="241.6" r="1.6"/>
<circle class="f" cx="120.2" cy="204.1" r="1.6"/>
<circle class="g" cx="188.6" cy="251.0" r="1.6"/>
<circle class="g" cx="207.8" cy="201.1" r="1.6"/>
<circle class="f" cx="120.7" cy="169.8" r="1.6"/>
<circle class="g" cx="174.9" cy="202.4" r="1.6"/>
<circle class="g" cx="162.9" cy="213.5" r="1.6"/>
<circle class="f" cx="95.1" cy="218.1" r="1.6"/>
<circle class="g" cx="194.6" cy="202.6" r="1.6"/>
<circle class="g" cx="153.3" cy="233.3" r="1.6"/>
<circle class="f" cx="177.1" cy="225.9" r="1.6"/>
<circle class="f" cx="72.7" cy="161.9" r="1.6"/>
<circle class="k" cx="222.6" cy="177.6" r="1.6"/>
<circle class="k" cx="190.6" cy="201.5" r="1.6"/>
<circle class="f" cx="164.4" cy="206.2" r="1.6"/>
<circle class="g" cx="148.9" cy="221.8" r="1.6"/>
<circle class="f" cx="117.5" cy="172.0" r="1.6"/>
<circle class="n" cx="141.3" cy="215.4" r="1.6"/>
<circle class="k" cx="228.1" cy="197.1" r="1.6"/>
<circle class="f" cx="140.6" cy="196.2" r="1.6"/>
<circle class="n" cx="183.5" cy="172.9" r="1.6"/>
<circle class="n" cx="166.1" cy="190.6" r="1.6"/>
<circle class="k" cx="203.2" cy="157.4" r="1.6"/>
<circle class="n" cx="176.8" cy="215.9" r="1.6"/>
<circle class="k" cx="210.7" cy="217.6" r="1.6"/>
<circle class="g" cx="125.7" cy="245.7" r="1.6"/>
<circle class="f" cx="159.4" cy="226.5" r="1.6"/>
<circle class="f" cx="170.5" cy="174.3" r="1.6"/>
<circle class="g" cx="203.8" cy="223.3" r="1.6"/>
<circle class="g" cx="201.4" cy="249.7" r="1.6"/>
<circle class="f" cx="139.0" cy="143.6" r="1.6"/>
<circle class="f" cx="125.9" cy="156.4" r="1.6"/>
<circle class="f" cx="145.8" cy="240.9" r="1.6"/>
<circle class="k" cx="212.1" cy="194.0" r="1.6"/>
<circle class="g" cx="172.6" cy="225.3" r="1.6"/>
<circle class="f" cx="132.2" cy="227.4" r="1.6"/>
<circle class="n" cx="219.9" cy="171.7" r="1.6"/>
<circle class="g" cx="251.6" cy="249.3" r="1.6"/>
<circle class="n" cx="168.5" cy="199.3" r="1.6"/>
<circle class="n" cx="174.6" cy="200.3" r="1.6"/>
<circle class="n" cx="186.2" cy="180.9" r="1.6"/>
<circle class="k" cx="244.9" cy="200.4" r="1.6"/>
<circle class="f" cx="135.4" cy="176.4" r="1.6"/>
<circle class="f" cx="151.6" cy="256.0" r="1.6"/>
<circle class="n" cx="186.3" cy="220.1" r="1.6"/>
<circle class="k" cx="206.5" cy="185.3" r="1.6"/>
<circle class="k" cx="201.6" cy="202.2" r="1.6"/>
<circle class="n" cx="228.4" cy="189.2" r="1.6"/>
<circle class="f" cx="152.8" cy="252.3" r="1.6"/>
<circle class="f" cx="120.7" cy="243.1" r="1.6"/>
<circle class="f" cx="138.9" cy="184.0" r="1.6"/>
<circle class="g" cx="232.0" cy="175.5" r="1.6"/>
<circle class="k" cx="243.1" cy="232.2" r="1.6"/>
<circle class="n" cx="181.2" cy="189.8" r="1.6"/>
<circle class="k" cx="249.2" cy="179.7" r="1.6"/>
<circle class="g" cx="228.1" cy="191.1" r="1.6"/>
<circle class="g" cx="231.2" cy="245.1" r="1.6"/>
<circle class="k" cx="208.3" cy="179.6" r="1.6"/>
<circle class="f" cx="164.6" cy="200.1" r="1.6"/>
<circle class="g" cx="120.6" cy="225.3" r="1.6"/>
<circle class="k" cx="244.7" cy="247.3" r="1.6"/>
<circle class="g" cx="168.7" cy="263.7" r="1.6"/>
<circle class="f" cx="131.6" cy="192.8" r="1.6"/>
<circle class="g" cx="164.4" cy="209.0" r="1.6"/>
<circle class="f" cx="147.5" cy="206.9" r="1.6"/>
<circle class="n" cx="191.3" cy="184.8" r="1.6"/>
<circle class="k" cx="244.6" cy="156.0" r="1.6"/>
<circle class="n" cx="183.9" cy="201.4" r="1.6"/>
<circle class="f" cx="77.7" cy="127.6" r="1.6"/>
<circle class="f" cx="147.9" cy="188.7" r="1.6"/>
<circle class="g" cx="246.4" cy="221.6" r="1.6"/>
<circle class="g" cx="199.4" cy="245.2" r="1.6"/>
<circle class="g" cx="126.5" cy="231.2" r="1.6"/>
<circle class="f" cx="181.4" cy="243.5" r="1.6"/>
<circle class="n" cx="155.4" cy="199.3" r="1.6"/>
<circle class="f" cx="70.4" cy="138.5" r="1.6"/>
<circle class="g" cx="140.5" cy="196.2" r="1.6"/>
<circle class="f" cx="144.0" cy="212.3" r="1.6"/>
<circle class="n" cx="175.1" cy="177.5" r="1.6"/>
<circle class="k" cx="207.7" cy="222.1" r="1.6"/>
<circle class="f" cx="137.6" cy="199.1" r="1.6"/>
<circle class="f" cx="136.4" cy="172.1" r="1.6"/>
<circle class="f" cx="133.3" cy="185.3" r="1.6"/>
<circle class="k" cx="241.3" cy="223.7" r="1.6"/>
<circle class="g" cx="217.0" cy="202.9" r="1.6"/>
<circle class="k" cx="216.5" cy="191.8" r="1.6"/>
<circle class="n" cx="153.6" cy="229.8" r="1.6"/>
<circle class="n" cx="184.8" cy="182.7" r="1.6"/>
<circle class="g" cx="123.0" cy="237.7" r="1.6"/>
<circle class="k" cx="233.8" cy="223.5" r="1.6"/>
<circle class="k" cx="278.6" cy="196.8" r="1.6"/>
<circle class="g" cx="182.4" cy="191.5" r="1.6"/>
<circle class="f" cx="142.2" cy="223.9" r="1.6"/>
<circle class="n" cx="181.3" cy="205.0" r="1.6"/>
<circle class="g" cx="204.5" cy="250.3" r="1.6"/>
<circle class="k" cx="219.7" cy="150.9" r="1.6"/>
<circle class="g" cx="163.8" cy="224.3" r="1.6"/>
<circle class="f" cx="93.8" cy="171.3" r="1.6"/>
<circle class="n" cx="183.7" cy="208.0" r="1.6"/>
<circle class="f" cx="121.9" cy="227.8" r="1.6"/>
<circle class="g" cx="222.3" cy="231.0" r="1.6"/>
<circle class="k" cx="241.7" cy="196.7" r="1.6"/>
<circle class="n" cx="158.4" cy="227.9" r="1.6"/>
<circle class="n" cx="186.7" cy="204.0" r="1.6"/>
<circle class="n" cx="159.4" cy="201.2" r="1.6"/>
<circle class="k" cx="198.5" cy="220.7" r="1.6"/>
<circle class="g" cx="145.8" cy="220.5" r="1.6"/>
<circle class="n" cx="170.6" cy="189.5" r="1.6"/>
<circle class="g" cx="179.5" cy="196.6" r="1.6"/>
<circle class="n" cx="183.4" cy="209.8" r="1.6"/>
<circle class="g" cx="158.4" cy="208.9" r="1.6"/>
<circle class="g" cx="172.2" cy="240.2" r="1.6"/>
<circle class="k" cx="207.5" cy="199.6" r="1.6"/>
<circle class="k" cx="268.4" cy="186.5" r="1.6"/>
<circle class="n" cx="198.6" cy="206.2" r="1.6"/>
<circle class="g" cx="157.7" cy="193.3" r="1.6"/>
<circle class="g" cx="224.4" cy="165.4" r="1.6"/>
<circle class="g" cx="230.2" cy="229.3" r="1.6"/>
<circle class="g" cx="159.9" cy="183.3" r="1.6"/>
<circle class="f" cx="116.9" cy="197.8" r="1.6"/>
<circle class="f" cx="129.7" cy="133.9" r="1.6"/>
<circle class="g" cx="217.0" cy="179.3" r="1.6"/>
<circle class="g" cx="121.5" cy="208.8" r="1.6"/>
<circle class="g" cx="190.2" cy="186.9" r="1.6"/>
<circle class="g" cx="233.0" cy="260.8" r="1.6"/>
<circle class="g" cx="246.9" cy="203.2" r="1.6"/>
<circle class="n" cx="223.4" cy="178.4" r="1.6"/>
<circle class="f" cx="100.7" cy="184.0" r="1.6"/>
<circle class="n" cx="161.0" cy="228.6" r="1.6"/>
<circle class="g" cx="172.8" cy="195.2" r="1.6"/>
<circle class="g" cx="173.6" cy="230.7" r="1.6"/>
<circle class="g" cx="181.9" cy="242.3" r="1.6"/>
<circle class="f" cx="148.7" cy="172.5" r="1.6"/>
<circle class="n" cx="198.2" cy="212.9" r="1.6"/>
<circle class="g" cx="126.1" cy="212.8" r="1.6"/>
<circle class="f" cx="64.8" cy="122.5" r="1.6"/>
<circle class="g" cx="178.1" cy="238.5" r="1.6"/>
<circle class="f" cx="168.3" cy="226.6" r="1.6"/>
<circle class="g" cx="128.3" cy="204.9" r="1.6"/>
<circle class="k" cx="251.5" cy="151.6" r="1.6"/>
<circle class="f" cx="99.3" cy="196.1" r="1.6"/>
<circle class="k" cx="225.2" cy="251.2" r="1.6"/>
<circle class="k" cx="216.3" cy="197.1" r="1.6"/>
<circle class="g" cx="159.7" cy="202.0" r="1.6"/>
<circle class="n" cx="200.0" cy="187.2" r="1.6"/>
<circle class="n" cx="182.1" cy="205.2" r="1.6"/>
<circle class="n" cx="160.9" cy="220.9" r="1.6"/>
<circle class="k" cx="212.9" cy="242.3" r="1.6"/>
<circle class="n" cx="193.6" cy="186.6" r="1.6"/>
<circle class="k" cx="257.3" cy="223.4" r="1.6"/>
<circle class="f" cx="101.9" cy="185.0" r="1.6"/>
<circle class="g" cx="148.9" cy="178.1" r="1.6"/>
<circle class="n" cx="157.4" cy="201.4" r="1.6"/>
<circle class="f" cx="111.0" cy="142.9" r="1.6"/>
<circle class="g" cx="136.5" cy="212.3" r="1.6"/>
<circle class="f" cx="142.9" cy="212.7" r="1.6"/>
<circle class="f" cx="188.6" cy="216.4" r="1.6"/>
<circle class="n" cx="203.4" cy="224.4" r="1.6"/>
<circle class="k" cx="238.1" cy="180.9" r="1.6"/>
<circle class="k" cx="258.0" cy="210.5" r="1.6"/>
<circle class="k" cx="228.7" cy="177.3" r="1.6"/>
<circle class="k" cx="269.2" cy="182.7" r="1.6"/>
<circle class="f" cx="149.1" cy="211.0" r="1.6"/>
<circle class="k" cx="231.4" cy="246.1" r="1.6"/>
<circle class="f" cx="107.5" cy="183.5" r="1.6"/>
<circle class="g" cx="152.0" cy="247.4" r="1.6"/>
<circle class="k" cx="250.6" cy="167.9" r="1.6"/>
<circle class="f" cx="128.7" cy="214.0" r="1.6"/>
<circle class="g" cx="223.6" cy="220.0" r="1.6"/>
<circle class="k" cx="213.1" cy="240.9" r="1.6"/>
<circle class="g" cx="162.7" cy="230.4" r="1.6"/>
<circle class="f" cx="113.9" cy="170.5" r="1.6"/>
<circle class="g" cx="127.6" cy="135.3" r="1.6"/>
<circle class="f" cx="97.7" cy="238.5" r="1.6"/>
<circle class="n" cx="199.4" cy="166.4" r="1.6"/>
<circle class="k" cx="235.8" cy="165.5" r="1.6"/>
<circle class="g" cx="220.2" cy="237.6" r="1.6"/>
<circle class="n" cx="169.1" cy="235.4" r="1.6"/>
<circle class="k" cx="251.7" cy="169.2" r="1.6"/>
<circle class="f" cx="115.1" cy="225.6" r="1.6"/>
<circle class="k" cx="201.6" cy="179.0" r="1.6"/>
<circle class="g" cx="208.6" cy="191.7" r="1.6"/>
<circle class="k" cx="206.5" cy="189.4" r="1.6"/>
<circle class="k" cx="232.0" cy="197.8" r="1.6"/>
<circle class="g" cx="201.5" cy="224.8" r="1.6"/>
<circle class="f" cx="119.1" cy="159.2" r="1.6"/>
<circle class="n" cx="198.1" cy="207.8" r="1.6"/>
<circle class="g" cx="154.4" cy="209.5" r="1.6"/>
<circle class="k" cx="238.1" cy="181.5" r="1.6"/>
<circle class="g" cx="163.7" cy="240.7" r="1.6"/>
<circle class="g" cx="249.5" cy="233.8" r="1.6"/>
<circle class="f" cx="139.2" cy="200.7" r="1.6"/>
<circle class="g" cx="153.2" cy="253.6" r="1.6"/>
<circle class="n" cx="193.2" cy="205.3" r="1.6"/>
<circle class="g" cx="165.0" cy="237.1" r="1.6"/>
<circle class="k" cx="181.0" cy="228.8" r="1.6"/>
<circle class="f" cx="130.9" cy="171.9" r="1.6"/>
<circle class="g" cx="186.5" cy="197.0" r="1.6"/>
<circle class="f" cx="145.7" cy="170.5" r="1.6"/>
<circle class="g" cx="192.3" cy="217.7" r="1.6"/>
<circle class="g" cx="170.1" cy="202.5" r="1.6"/>
<circle class="f" cx="117.7" cy="196.0" r="1.6"/>
<circle class="g" cx="206.8" cy="174.3" r="1.6"/>
<circle class="n" cx="194.8" cy="185.1" r="1.6"/>
<circle class="g" cx="257.6" cy="259.7" r="1.6"/>
<circle class="k" cx="228.8" cy="208.4" r="1.6"/>
<circle class="g" cx="152.1" cy="207.4" r="1.6"/>
<circle class="g" cx="140.9" cy="201.7" r="1.6"/>
<circle class="g" cx="166.1" cy="198.6" r="1.6"/>
<circle class="g" cx="210.4" cy="199.7" r="1.6"/>
<path d="M152.9,177.7 L151.5,179.7 L150.2,181.8 L149.0,184.0 L147.9,186.2 L146.9,188.4 L146.0,190.7 L145.2,193.0 L144.5,195.3 L143.9,197.6 L143.4,200.0 L143.1,202.3 L142.8,204.6 L142.7,207.0 L142.7,209.3 L142.8,211.6 L143.0,213.8 L143.4,216.0 L143.8,218.2 L144.4,220.3 L145.0,222.4 L145.8,224.4 L146.7,226.3 L147.7,228.2 L148.8,230.0 L150.0,231.7 L151.3,233.4 L152.6,234.9 L154.1,236.4 L155.7,237.7 L157.3,238.9 L159.0,240.1 L160.8,241.1 L162.6,242.0 L164.5,242.8 L166.5,243.5 L168.5,244.1 L170.5,244.6 L172.6,244.9 L174.8,245.1 L176.9,245.2 L179.1,245.2 L181.3,245.0 L183.5,244.7 L185.7,244.3 L187.9,243.8 L190.1,243.2 L192.3,242.4 L194.4,241.5 L196.5,240.6 L198.6,239.5 L200.7,238.3 L202.7,237.0 L204.7,235.6 L206.6,234.1 L208.5,232.5 L210.3,230.8 L212.0,229.0 L213.6,227.2 L215.2,225.3 L216.7,223.3 L218.1,221.3 L219.4,219.2 L220.6,217.0 L221.7,214.8 L222.7,212.6 L223.6,210.3 L224.4,208.0 L225.1,205.7 L225.7,203.4 L226.2,201.0 L226.5,198.7 L226.8,196.4 L226.9,194.0 L226.9,191.7 L226.8,189.4 L226.6,187.2 L226.2,185.0 L225.8,182.8 L225.2,180.7 L224.6,178.6 L223.8,176.6 L222.9,174.7 L221.9,172.8 L220.8,171.0 L219.6,169.3 L218.3,167.6 L217.0,166.1 L215.5,164.6 L213.9,163.3 L212.3,162.1 L210.6,160.9 L208.8,159.9 L207.0,159.0 L205.1,158.2 L203.1,157.5 L201.1,156.9 L199.1,156.4 L197.0,156.1 L194.8,155.9 L192.7,155.8 L190.5,155.8 L188.3,156.0 L186.1,156.3 L183.9,156.7 L181.7,157.2 L179.5,157.8 L177.3,158.6 L175.2,159.5 L173.1,160.4 L171.0,161.5 L168.9,162.7 L166.9,164.0 L164.9,165.4 L163.0,166.9 L161.1,168.5 L159.3,170.2 L157.6,172.0 L156.0,173.8 L154.4,175.7Z" fill="#6188AF" fill-opacity="0.09" stroke="#6188AF" stroke-width="1.75"/>
<path d="M191.1,163.2 L187.5,162.8 L183.9,162.5 L180.3,162.4 L176.7,162.4 L173.1,162.6 L169.5,162.9 L166.0,163.4 L162.5,164.1 L159.1,164.9 L155.8,165.8 L152.5,166.9 L149.3,168.2 L146.2,169.6 L143.2,171.1 L140.3,172.7 L137.6,174.5 L134.9,176.4 L132.4,178.5 L130.0,180.6 L127.8,182.8 L125.7,185.2 L123.8,187.6 L122.0,190.2 L120.4,192.8 L119.0,195.4 L117.8,198.2 L116.7,201.0 L115.8,203.9 L115.1,206.7 L114.6,209.7 L114.2,212.6 L114.1,215.6 L114.2,218.6 L114.4,221.6 L114.8,224.6 L115.4,227.6 L116.2,230.5 L117.2,233.4 L118.4,236.3 L119.7,239.1 L121.2,241.9 L122.9,244.6 L124.7,247.3 L126.7,249.9 L128.9,252.4 L131.2,254.8 L133.7,257.1 L136.2,259.3 L139.0,261.4 L141.8,263.3 L144.7,265.2 L147.8,266.9 L150.9,268.5 L154.2,270.0 L157.5,271.3 L160.9,272.5 L164.3,273.6 L167.8,274.5 L171.4,275.2 L174.9,275.8 L178.5,276.2 L182.1,276.5 L185.7,276.6 L189.3,276.6 L192.9,276.4 L196.5,276.1 L200.0,275.6 L203.5,274.9 L206.9,274.1 L210.2,273.2 L213.5,272.1 L216.7,270.8 L219.8,269.4 L222.8,267.9 L225.7,266.3 L228.4,264.5 L231.1,262.6 L233.6,260.5 L236.0,258.4 L238.2,256.2 L240.3,253.8 L242.2,251.4 L244.0,248.8 L245.6,246.2 L247.0,243.6 L248.2,240.8 L249.3,238.0 L250.2,235.1 L250.9,232.3 L251.4,229.3 L251.8,226.4 L251.9,223.4 L251.8,220.4 L251.6,217.4 L251.2,214.4 L250.6,211.4 L249.8,208.5 L248.8,205.6 L247.6,202.7 L246.3,199.9 L244.8,197.1 L243.1,194.4 L241.3,191.7 L239.3,189.1 L237.1,186.6 L234.8,184.2 L232.3,181.9 L229.8,179.7 L227.0,177.6 L224.2,175.7 L221.3,173.8 L218.2,172.1 L215.1,170.5 L211.8,169.0 L208.5,167.7 L205.1,166.5 L201.7,165.4 L198.2,164.5 L194.6,163.8Z" fill="#47A698" fill-opacity="0.09" stroke="#47A698" stroke-width="1.75"/>
<path d="M184.9,170.9 L183.4,173.7 L182.0,176.5 L180.7,179.4 L179.5,182.3 L178.4,185.2 L177.5,188.2 L176.6,191.1 L175.9,194.1 L175.3,197.1 L174.9,200.0 L174.6,202.9 L174.4,205.8 L174.3,208.7 L174.4,211.5 L174.6,214.3 L174.9,217.0 L175.4,219.6 L175.9,222.2 L176.7,224.7 L177.5,227.0 L178.5,229.3 L179.6,231.5 L180.8,233.6 L182.1,235.6 L183.5,237.4 L185.0,239.2 L186.6,240.8 L188.4,242.2 L190.2,243.6 L192.1,244.8 L194.1,245.8 L196.2,246.7 L198.3,247.5 L200.5,248.1 L202.8,248.5 L205.1,248.8 L207.5,248.9 L209.9,248.9 L212.3,248.7 L214.8,248.4 L217.3,247.9 L219.8,247.3 L222.3,246.5 L224.8,245.6 L227.3,244.5 L229.8,243.3 L232.2,241.9 L234.7,240.4 L237.1,238.8 L239.4,237.0 L241.7,235.2 L244.0,233.2 L246.2,231.1 L248.3,228.8 L250.4,226.5 L252.4,224.1 L254.3,221.6 L256.1,219.0 L257.8,216.4 L259.5,213.7 L261.0,210.9 L262.4,208.1 L263.7,205.2 L264.9,202.3 L266.0,199.4 L266.9,196.4 L267.8,193.5 L268.5,190.5 L269.1,187.5 L269.5,184.6 L269.8,181.7 L270.0,178.8 L270.1,175.9 L270.0,173.1 L269.8,170.3 L269.5,167.6 L269.0,165.0 L268.5,162.4 L267.7,159.9 L266.9,157.6 L265.9,155.3 L264.8,153.1 L263.6,151.0 L262.3,149.0 L260.9,147.2 L259.4,145.4 L257.8,143.8 L256.0,142.4 L254.2,141.0 L252.3,139.8 L250.3,138.8 L248.2,137.9 L246.1,137.1 L243.9,136.5 L241.6,136.1 L239.3,135.8 L236.9,135.7 L234.5,135.7 L232.1,135.9 L229.6,136.2 L227.1,136.7 L224.6,137.3 L222.1,138.1 L219.6,139.0 L217.1,140.1 L214.6,141.3 L212.2,142.7 L209.7,144.2 L207.3,145.8 L205.0,147.6 L202.7,149.4 L200.4,151.4 L198.2,153.5 L196.1,155.8 L194.0,158.1 L192.0,160.5 L190.1,163.0 L188.3,165.6 L186.6,168.2Z" fill="#E8A457" fill-opacity="0.09" stroke="#E8A457" stroke-width="1.75"/>
<path d="M89.4,210.3 L91.3,213.4 L93.4,216.3 L95.5,219.2 L97.7,221.9 L100.0,224.6 L102.4,227.2 L104.9,229.7 L107.4,232.0 L109.9,234.2 L112.5,236.3 L115.2,238.3 L117.9,240.1 L120.6,241.8 L123.3,243.3 L126.0,244.7 L128.7,245.9 L131.5,247.0 L134.2,247.8 L136.9,248.6 L139.5,249.1 L142.2,249.5 L144.8,249.7 L147.3,249.7 L149.8,249.6 L152.2,249.3 L154.5,248.8 L156.8,248.2 L159.0,247.4 L161.1,246.4 L163.1,245.3 L165.0,243.9 L166.8,242.5 L168.5,240.9 L170.1,239.1 L171.6,237.2 L172.9,235.2 L174.1,233.0 L175.2,230.7 L176.1,228.3 L177.0,225.8 L177.6,223.1 L178.2,220.4 L178.6,217.6 L178.8,214.7 L178.9,211.7 L178.9,208.6 L178.7,205.5 L178.4,202.4 L178.0,199.2 L177.4,195.9 L176.6,192.7 L175.8,189.4 L174.8,186.1 L173.6,182.8 L172.4,179.5 L171.0,176.3 L169.4,173.1 L167.8,169.9 L166.1,166.7 L164.2,163.7 L162.3,160.6 L160.2,157.7 L158.1,154.8 L155.9,152.1 L153.6,149.4 L151.2,146.8 L148.7,144.3 L146.2,142.0 L143.7,139.8 L141.1,137.7 L138.4,135.7 L135.7,133.9 L133.0,132.2 L130.3,130.7 L127.6,129.3 L124.9,128.1 L122.1,127.0 L119.4,126.2 L116.7,125.4 L114.1,124.9 L111.4,124.5 L108.8,124.3 L106.3,124.3 L103.8,124.4 L101.4,124.7 L99.1,125.2 L96.8,125.8 L94.6,126.6 L92.5,127.6 L90.5,128.7 L88.6,130.1 L86.8,131.5 L85.1,133.1 L83.5,134.9 L82.0,136.8 L80.7,138.8 L79.5,141.0 L78.4,143.3 L77.5,145.7 L76.6,148.2 L76.0,150.9 L75.4,153.6 L75.0,156.4 L74.8,159.3 L74.7,162.3 L74.7,165.4 L74.9,168.5 L75.2,171.6 L75.6,174.8 L76.2,178.1 L77.0,181.3 L77.8,184.6 L78.8,187.9 L80.0,191.2 L81.2,194.5 L82.6,197.7 L84.2,200.9 L85.8,204.1 L87.5,207.3Z" fill="#E55C62" fill-opacity="0.09" stroke="#E55C62" stroke-width="1.75"/>
<circle class="k" cx="516.0" cy="175.5" r="1.6"/>
<circle class="k" cx="573.6" cy="179.5" r="1.6"/>
<circle class="f" cx="489.9" cy="206.1" r="1.6"/>
<circle class="g" cx="489.3" cy="225.5" r="1.6"/>
<circle class="g" cx="493.1" cy="201.5" r="1.6"/>
<circle class="k" cx="596.2" cy="252.0" r="1.6"/>
<circle class="f" cx="527.4" cy="181.9" r="1.6"/>
<circle class="k" cx="538.6" cy="197.2" r="1.6"/>
<circle class="k" cx="525.1" cy="167.9" r="1.6"/>
<circle class="g" cx="473.1" cy="147.7" r="1.6"/>
<circle class="g" cx="509.2" cy="167.6" r="1.6"/>
<circle class="g" cx="512.4" cy="197.5" r="1.6"/>
<circle class="f" cx="524.7" cy="216.9" r="1.6"/>
<circle class="g" cx="485.5" cy="265.5" r="1.6"/>
<circle class="k" cx="522.1" cy="223.9" r="1.6"/>
<circle class="k" cx="478.9" cy="176.1" r="1.6"/>
<circle class="f" cx="517.3" cy="210.9" r="1.6"/>
<circle class="f" cx="527.7" cy="236.4" r="1.6"/>
<circle class="n" cx="488.0" cy="155.1" r="1.6"/>
<circle class="g" cx="491.5" cy="163.6" r="1.6"/>
<circle class="g" cx="497.9" cy="229.9" r="1.6"/>
<circle class="f" cx="528.6" cy="197.1" r="1.6"/>
<circle class="n" cx="543.1" cy="132.2" r="1.6"/>
<circle class="g" cx="501.1" cy="244.7" r="1.6"/>
<circle class="g" cx="507.0" cy="191.7" r="1.6"/>
<circle class="f" cx="512.4" cy="217.0" r="1.6"/>
<circle class="k" cx="502.6" cy="217.9" r="1.6"/>
<circle class="g" cx="484.2" cy="212.9" r="1.6"/>
<circle class="g" cx="507.7" cy="206.0" r="1.6"/>
<circle class="f" cx="516.1" cy="239.5" r="1.6"/>
<circle class="g" cx="474.6" cy="223.6" r="1.6"/>
<circle class="k" cx="499.7" cy="191.4" r="1.6"/>
<circle class="k" cx="504.3" cy="217.4" r="1.6"/>
<circle class="g" cx="470.8" cy="223.2" r="1.6"/>
<circle class="n" cx="538.1" cy="83.3" r="1.6"/>
<circle class="f" cx="498.4" cy="197.6" r="1.6"/>
<circle class="g" cx="486.6" cy="154.0" r="1.6"/>
<circle class="f" cx="538.5" cy="221.8" r="1.6"/>
<circle class="f" cx="539.4" cy="147.8" r="1.6"/>
<circle class="k" cx="524.0" cy="214.9" r="1.6"/>
<circle class="f" cx="530.3" cy="165.1" r="1.6"/>
<circle class="g" cx="531.2" cy="202.7" r="1.6"/>
<circle class="f" cx="537.0" cy="184.4" r="1.6"/>
<circle class="n" cx="480.9" cy="163.6" r="1.6"/>
<circle class="g" cx="450.3" cy="276.1" r="1.6"/>
<circle class="g" cx="504.1" cy="151.5" r="1.6"/>
<circle class="g" cx="463.0" cy="206.0" r="1.6"/>
<circle class="f" cx="568.1" cy="265.3" r="1.6"/>
<circle class="g" cx="534.3" cy="172.2" r="1.6"/>
<circle class="f" cx="524.4" cy="190.4" r="1.6"/>
<circle class="g" cx="500.6" cy="155.9" r="1.6"/>
<circle class="g" cx="517.5" cy="212.0" r="1.6"/>
<circle class="k" cx="496.6" cy="203.4" r="1.6"/>
<circle class="g" cx="491.6" cy="219.1" r="1.6"/>
<circle class="g" cx="509.5" cy="236.2" r="1.6"/>
<circle class="f" cx="533.5" cy="193.1" r="1.6"/>
<circle class="g" cx="506.6" cy="239.3" r="1.6"/>
<circle class="g" cx="491.5" cy="188.2" r="1.6"/>
<circle class="n" cx="487.3" cy="145.9" r="1.6"/>
<circle class="k" cx="529.5" cy="290.0" r="1.6"/>
<circle class="n" cx="508.0" cy="184.5" r="1.6"/>
<circle class="k" cx="533.4" cy="229.6" r="1.6"/>
<circle class="g" cx="537.1" cy="206.4" r="1.6"/>
<circle class="g" cx="527.9" cy="200.1" r="1.6"/>
<circle class="g" cx="478.0" cy="220.6" r="1.6"/>
<circle class="k" cx="545.0" cy="205.4" r="1.6"/>
<circle class="f" cx="535.2" cy="229.8" r="1.6"/>
<circle class="f" cx="505.8" cy="224.1" r="1.6"/>
<circle class="g" cx="479.9" cy="181.7" r="1.6"/>
<circle class="k" cx="499.8" cy="184.5" r="1.6"/>
<circle class="f" cx="520.1" cy="239.8" r="1.6"/>
<circle class="g" cx="509.8" cy="219.8" r="1.6"/>
<circle class="g" cx="509.5" cy="197.7" r="1.6"/>
<circle class="f" cx="513.5" cy="205.3" r="1.6"/>
<circle class="g" cx="529.4" cy="152.7" r="1.6"/>
<circle class="k" cx="501.6" cy="244.8" r="1.6"/>
<circle class="f" cx="520.8" cy="216.1" r="1.6"/>
<circle class="g" cx="471.8" cy="234.3" r="1.6"/>
<circle class="n" cx="494.6" cy="144.1" r="1.6"/>
<circle class="g" cx="485.7" cy="238.7" r="1.6"/>
<circle class="g" cx="508.2" cy="245.5" r="1.6"/>
<circle class="n" cx="500.6" cy="137.0" r="1.6"/>
<circle class="k" cx="532.6" cy="223.3" r="1.6"/>
<circle class="g" cx="490.7" cy="235.4" r="1.6"/>
<circle class="k" cx="521.1" cy="226.6" r="1.6"/>
<circle class="n" cx="504.0" cy="148.9" r="1.6"/>
<circle class="n" cx="528.4" cy="132.8" r="1.6"/>
<circle class="g" cx="514.3" cy="184.1" r="1.6"/>
<circle class="g" cx="450.8" cy="157.2" r="1.6"/>
<circle class="g" cx="496.9" cy="222.3" r="1.6"/>
<circle class="f" cx="549.3" cy="178.1" r="1.6"/>
<circle class="f" cx="512.1" cy="168.5" r="1.6"/>
<circle class="f" cx="571.6" cy="195.8" r="1.6"/>
<circle class="n" cx="481.1" cy="153.2" r="1.6"/>
<circle class="g" cx="458.6" cy="215.2" r="1.6"/>
<circle class="g" cx="532.1" cy="222.6" r="1.6"/>
<circle class="g" cx="484.2" cy="198.5" r="1.6"/>
<circle class="g" cx="513.6" cy="190.4" r="1.6"/>
<circle class="k" cx="544.3" cy="206.4" r="1.6"/>
<circle class="f" cx="478.3" cy="167.6" r="1.6"/>
<circle class="f" cx="511.7" cy="211.9" r="1.6"/>
<circle class="n" cx="495.8" cy="137.4" r="1.6"/>
<circle class="n" cx="513.6" cy="168.3" r="1.6"/>
<circle class="g" cx="519.0" cy="281.6" r="1.6"/>
<circle class="g" cx="505.0" cy="194.5" r="1.6"/>
<circle class="f" cx="497.3" cy="197.6" r="1.6"/>
<circle class="n" cx="523.6" cy="125.3" r="1.6"/>
<circle class="n" cx="537.8" cy="118.4" r="1.6"/>
<circle class="f" cx="547.0" cy="172.5" r="1.6"/>
<circle class="g" cx="486.6" cy="234.6" r="1.6"/>
<circle class="f" cx="529.5" cy="227.7" r="1.6"/>
<circle class="n" cx="541.9" cy="135.0" r="1.6"/>
<circle class="g" cx="524.3" cy="161.8" r="1.6"/>
<circle class="n" cx="516.0" cy="151.0" r="1.6"/>
<circle class="f" cx="500.0" cy="156.4" r="1.6"/>
<circle class="g" cx="437.1" cy="242.7" r="1.6"/>
<circle class="n" cx="507.8" cy="120.1" r="1.6"/>
<circle class="n" cx="535.7" cy="129.4" r="1.6"/>
<circle class="g" cx="496.0" cy="200.3" r="1.6"/>
<circle class="k" cx="512.4" cy="239.6" r="1.6"/>
<circle class="k" cx="515.7" cy="250.6" r="1.6"/>
<circle class="k" cx="505.4" cy="179.1" r="1.6"/>
<circle class="k" cx="510.2" cy="177.8" r="1.6"/>
<circle class="f" cx="516.9" cy="192.9" r="1.6"/>
<circle class="k" cx="536.9" cy="187.4" r="1.6"/>
<circle class="n" cx="521.2" cy="113.1" r="1.6"/>
<circle class="g" cx="459.0" cy="292.0" r="1.6"/>
<circle class="g" cx="496.8" cy="175.9" r="1.6"/>
<circle class="k" cx="513.4" cy="182.9" r="1.6"/>
<circle class="f" cx="530.9" cy="204.3" r="1.6"/>
<circle class="g" cx="461.0" cy="215.3" r="1.6"/>
<circle class="n" cx="503.5" cy="128.0" r="1.6"/>
<circle class="k" cx="484.3" cy="230.1" r="1.6"/>
<circle class="k" cx="536.5" cy="224.0" r="1.6"/>
<circle class="k" cx="486.6" cy="231.1" r="1.6"/>
<circle class="f" cx="487.5" cy="187.7" r="1.6"/>
<circle class="k" cx="510.8" cy="200.1" r="1.6"/>
<circle class="g" cx="492.9" cy="187.9" r="1.6"/>
<circle class="n" cx="500.0" cy="131.4" r="1.6"/>
<circle class="g" cx="488.5" cy="167.9" r="1.6"/>
<circle class="n" cx="519.6" cy="136.2" r="1.6"/>
<circle class="g" cx="519.5" cy="196.0" r="1.6"/>
<circle class="g" cx="484.5" cy="255.5" r="1.6"/>
<circle class="n" cx="530.8" cy="122.1" r="1.6"/>
<circle class="g" cx="478.9" cy="222.8" r="1.6"/>
<circle class="k" cx="519.1" cy="201.6" r="1.6"/>
<circle class="f" cx="498.2" cy="150.1" r="1.6"/>
<circle class="f" cx="498.0" cy="200.9" r="1.6"/>
<circle class="g" cx="433.7" cy="186.2" r="1.6"/>
<circle class="g" cx="494.1" cy="203.1" r="1.6"/>
<circle class="g" cx="488.5" cy="190.5" r="1.6"/>
<circle class="g" cx="479.2" cy="209.9" r="1.6"/>
<circle class="g" cx="528.6" cy="208.2" r="1.6"/>
<circle class="g" cx="495.8" cy="218.6" r="1.6"/>
<circle class="g" cx="492.7" cy="250.8" r="1.6"/>
<circle class="k" cx="530.1" cy="170.4" r="1.6"/>
<circle class="g" cx="508.7" cy="152.9" r="1.6"/>
<circle class="f" cx="512.7" cy="149.6" r="1.6"/>
<circle class="g" cx="486.5" cy="233.4" r="1.6"/>
<circle class="f" cx="578.5" cy="249.6" r="1.6"/>
<circle class="g" cx="524.6" cy="134.5" r="1.6"/>
<circle class="g" cx="529.2" cy="183.5" r="1.6"/>
<circle class="f" cx="535.1" cy="205.1" r="1.6"/>
<circle class="g" cx="484.7" cy="181.1" r="1.6"/>
<circle class="f" cx="527.1" cy="169.3" r="1.6"/>
<circle class="k" cx="523.7" cy="202.9" r="1.6"/>
<circle class="g" cx="496.3" cy="193.9" r="1.6"/>
<circle class="g" cx="501.4" cy="240.7" r="1.6"/>
<circle class="g" cx="502.7" cy="155.9" r="1.6"/>
<circle class="g" cx="486.5" cy="241.5" r="1.6"/>
<circle class="f" cx="524.1" cy="203.5" r="1.6"/>
<circle class="k" cx="520.4" cy="167.8" r="1.6"/>
<circle class="g" cx="465.5" cy="216.1" r="1.6"/>
<circle class="g" cx="530.8" cy="196.5" r="1.6"/>
<circle class="g" cx="485.6" cy="179.3" r="1.6"/>
<circle class="f" cx="537.4" cy="254.8" r="1.6"/>
<circle class="n" cx="508.3" cy="115.9" r="1.6"/>
<circle class="g" cx="481.1" cy="194.0" r="1.6"/>
<circle class="g" cx="452.8" cy="221.5" r="1.6"/>
<circle class="f" cx="506.3" cy="198.5" r="1.6"/>
<circle class="n" cx="488.0" cy="155.1" r="1.6"/>
<circle class="n" cx="512.1" cy="144.0" r="1.6"/>
<circle class="k" cx="497.2" cy="211.6" r="1.6"/>
<circle class="k" cx="546.7" cy="170.2" r="1.6"/>
<circle class="n" cx="526.2" cy="142.2" r="1.6"/>
<circle class="g" cx="497.7" cy="190.8" r="1.6"/>
<circle class="n" cx="510.4" cy="172.2" r="1.6"/>
<circle class="f" cx="495.3" cy="223.8" r="1.6"/>
<circle class="f" cx="479.3" cy="191.5" r="1.6"/>
<circle class="g" cx="520.0" cy="171.8" r="1.6"/>
<circle class="f" cx="550.9" cy="244.6" r="1.6"/>
<circle class="k" cx="530.9" cy="203.3" r="1.6"/>
<circle class="g" cx="468.4" cy="167.2" r="1.6"/>
<circle class="n" cx="501.8" cy="135.1" r="1.6"/>
<circle class="f" cx="517.2" cy="188.3" r="1.6"/>
<circle class="n" cx="485.5" cy="108.7" r="1.6"/>
<circle class="g" cx="516.0" cy="211.7" r="1.6"/>
<circle class="g" cx="499.9" cy="199.5" r="1.6"/>
<circle class="k" cx="536.7" cy="197.4" r="1.6"/>
<circle class="k" cx="552.4" cy="217.5" r="1.6"/>
<circle class="n" cx="531.3" cy="184.4" r="1.6"/>
<circle class="g" cx="523.9" cy="174.7" r="1.6"/>
<circle class="k" cx="501.0" cy="158.3" r="1.6"/>
<circle class="f" cx="525.7" cy="195.1" r="1.6"/>
<circle class="f" cx="545.7" cy="154.3" r="1.6"/>
<circle class="g" cx="495.3" cy="197.5" r="1.6"/>
<circle class="f" cx="483.2" cy="217.9" r="1.6"/>
<circle class="g" cx="515.3" cy="216.7" r="1.6"/>
<circle class="g" cx="514.9" cy="231.3" r="1.6"/>
<circle class="k" cx="519.9" cy="179.3" r="1.6"/>
<circle class="f" cx="546.5" cy="225.2" r="1.6"/>
<circle class="g" cx="494.1" cy="232.4" r="1.6"/>
<circle class="k" cx="502.5" cy="201.2" r="1.6"/>
<circle class="f" cx="531.4" cy="197.1" r="1.6"/>
<circle class="g" cx="460.5" cy="239.9" r="1.6"/>
<circle class="g" cx="506.9" cy="208.7" r="1.6"/>
<circle class="f" cx="540.7" cy="195.1" r="1.6"/>
<circle class="n" cx="553.5" cy="115.9" r="1.6"/>
<circle class="n" cx="496.9" cy="112.7" r="1.6"/>
<circle class="g" cx="495.0" cy="200.2" r="1.6"/>
<circle class="g" cx="497.1" cy="206.1" r="1.6"/>
<circle class="g" cx="507.4" cy="187.4" r="1.6"/>
<circle class="g" cx="498.5" cy="225.3" r="1.6"/>
<circle class="f" cx="570.2" cy="274.6" r="1.6"/>
<circle class="f" cx="533.8" cy="195.6" r="1.6"/>
<circle class="g" cx="511.3" cy="212.8" r="1.6"/>
<circle class="g" cx="505.3" cy="203.6" r="1.6"/>
<circle class="f" cx="522.1" cy="187.6" r="1.6"/>
<circle class="f" cx="523.6" cy="185.9" r="1.6"/>
<circle class="n" cx="517.4" cy="139.5" r="1.6"/>
<circle class="n" cx="481.1" cy="135.2" r="1.6"/>
<circle class="g" cx="509.5" cy="241.4" r="1.6"/>
<circle class="n" cx="520.4" cy="152.8" r="1.6"/>
<circle class="g" cx="511.7" cy="222.1" r="1.6"/>
<circle class="n" cx="484.9" cy="106.3" r="1.6"/>
<circle class="g" cx="498.0" cy="171.6" r="1.6"/>
<circle class="g" cx="474.4" cy="212.6" r="1.6"/>
<circle class="f" cx="506.2" cy="181.8" r="1.6"/>
<circle class="f" cx="515.0" cy="223.7" r="1.6"/>
<circle class="g" cx="495.1" cy="185.6" r="1.6"/>
<circle class="k" cx="537.5" cy="219.3" r="1.6"/>
<circle class="n" cx="490.4" cy="173.4" r="1.6"/>
<circle class="f" cx="523.8" cy="248.6" r="1.6"/>
<circle class="k" cx="483.9" cy="181.5" r="1.6"/>
<circle class="k" cx="490.0" cy="210.4" r="1.6"/>
<circle class="k" cx="519.2" cy="227.0" r="1.6"/>
<circle class="f" cx="525.3" cy="235.6" r="1.6"/>
<circle class="f" cx="529.9" cy="196.7" r="1.6"/>
<circle class="f" cx="516.2" cy="196.9" r="1.6"/>
<circle class="n" cx="467.3" cy="114.7" r="1.6"/>
<circle class="f" cx="504.3" cy="191.1" r="1.6"/>
<circle class="g" cx="471.4" cy="199.1" r="1.6"/>
<circle class="g" cx="507.4" cy="217.8" r="1.6"/>
<circle class="f" cx="519.1" cy="212.7" r="1.6"/>
<circle class="g" cx="493.7" cy="219.3" r="1.6"/>
<circle class="k" cx="538.9" cy="206.9" r="1.6"/>
<circle class="f" cx="484.9" cy="226.4" r="1.6"/>
<circle class="g" cx="453.6" cy="226.1" r="1.6"/>
<circle class="f" cx="546.9" cy="215.7" r="1.6"/>
<circle class="g" cx="513.7" cy="199.6" r="1.6"/>
<circle class="g" cx="541.3" cy="161.4" r="1.6"/>
<circle class="g" cx="471.5" cy="181.7" r="1.6"/>
<circle class="g" cx="486.4" cy="184.8" r="1.6"/>
<circle class="k" cx="514.7" cy="220.3" r="1.6"/>
<circle class="n" cx="489.0" cy="121.2" r="1.6"/>
<circle class="f" cx="523.0" cy="183.3" r="1.6"/>
<circle class="g" cx="495.2" cy="202.2" r="1.6"/>
<circle class="k" cx="482.3" cy="211.5" r="1.6"/>
<circle class="k" cx="507.0" cy="213.4" r="1.6"/>
<circle class="g" cx="526.8" cy="178.3" r="1.6"/>
<circle class="g" cx="428.6" cy="219.7" r="1.6"/>
<circle class="k" cx="553.2" cy="293.2" r="1.6"/>
<circle class="g" cx="491.6" cy="195.0" r="1.6"/>
<circle class="f" cx="486.5" cy="190.3" r="1.6"/>
<circle class="f" cx="543.5" cy="213.8" r="1.6"/>
<circle class="f" cx="514.5" cy="242.5" r="1.6"/>
<circle class="f" cx="518.0" cy="179.3" r="1.6"/>
<circle class="g" cx="506.7" cy="186.3" r="1.6"/>
<circle class="n" cx="493.7" cy="140.7" r="1.6"/>
<circle class="f" cx="461.1" cy="200.8" r="1.6"/>
<circle class="f" cx="530.2" cy="126.8" r="1.6"/>
<circle class="n" cx="484.2" cy="162.0" r="1.6"/>
<circle class="k" cx="511.8" cy="224.4" r="1.6"/>
<circle class="g" cx="498.2" cy="252.0" r="1.6"/>
<circle class="g" cx="506.0" cy="243.6" r="1.6"/>
<circle class="g" cx="484.3" cy="150.1" r="1.6"/>
<circle class="k" cx="517.6" cy="159.8" r="1.6"/>
<circle class="g" cx="473.5" cy="209.0" r="1.6"/>
<circle class="k" cx="469.5" cy="210.3" r="1.6"/>
<circle class="n" cx="520.6" cy="143.7" r="1.6"/>
<circle class="f" cx="521.7" cy="254.2" r="1.6"/>
<circle class="g" cx="503.3" cy="189.2" r="1.6"/>
<circle class="f" cx="530.8" cy="176.9" r="1.6"/>
<circle class="g" cx="491.9" cy="211.2" r="1.6"/>
<circle class="g" cx="490.9" cy="186.1" r="1.6"/>
<circle class="f" cx="527.2" cy="212.9" r="1.6"/>
<circle class="k" cx="510.6" cy="179.0" r="1.6"/>
<circle class="f" cx="544.4" cy="165.4" r="1.6"/>
<circle class="n" cx="520.1" cy="165.4" r="1.6"/>
<circle class="f" cx="498.8" cy="182.4" r="1.6"/>
<circle class="g" cx="500.8" cy="172.8" r="1.6"/>
<circle class="n" cx="512.1" cy="147.5" r="1.6"/>
<circle class="k" cx="504.7" cy="188.2" r="1.6"/>
<circle class="f" cx="533.2" cy="177.5" r="1.6"/>
<circle class="g" cx="477.4" cy="202.7" r="1.6"/>
<circle class="g" cx="496.9" cy="205.0" r="1.6"/>
<circle class="n" cx="522.6" cy="186.0" r="1.6"/>
<circle class="n" cx="508.9" cy="161.5" r="1.6"/>
<circle class="f" cx="489.2" cy="214.5" r="1.6"/>
<circle class="g" cx="484.6" cy="222.3" r="1.6"/>
<circle class="g" cx="491.0" cy="184.5" r="1.6"/>
<circle class="g" cx="493.7" cy="191.4" r="1.6"/>
<circle class="k" cx="513.9" cy="218.7" r="1.6"/>
<circle class="f" cx="504.5" cy="220.7" r="1.6"/>
<circle class="g" cx="478.5" cy="218.6" r="1.6"/>
<circle class="k" cx="551.9" cy="211.7" r="1.6"/>
<circle class="f" cx="495.1" cy="203.5" r="1.6"/>
<circle class="g" cx="513.5" cy="252.0" r="1.6"/>
<circle class="f" cx="529.9" cy="189.8" r="1.6"/>
<circle class="g" cx="490.6" cy="173.9" r="1.6"/>
<circle class="g" cx="468.1" cy="211.1" r="1.6"/>
<circle class="k" cx="594.3" cy="230.1" r="1.6"/>
<circle class="k" cx="503.0" cy="242.4" r="1.6"/>
<circle class="g" cx="510.1" cy="215.8" r="1.6"/>
<circle class="g" cx="530.1" cy="215.5" r="1.6"/>
<circle class="n" cx="535.5" cy="127.4" r="1.6"/>
<circle class="f" cx="532.0" cy="289.0" r="1.6"/>
<circle class="k" cx="515.3" cy="175.2" r="1.6"/>
<circle class="g" cx="467.9" cy="181.8" r="1.6"/>
<circle class="f" cx="529.3" cy="249.2" r="1.6"/>
<circle class="g" cx="468.8" cy="188.0" r="1.6"/>
<circle class="g" cx="454.4" cy="182.7" r="1.6"/>
<circle class="k" cx="506.8" cy="175.9" r="1.6"/>
<circle class="f" cx="473.4" cy="182.1" r="1.6"/>
<circle class="n" cx="503.8" cy="156.7" r="1.6"/>
<circle class="g" cx="508.5" cy="202.4" r="1.6"/>
<circle class="n" cx="512.6" cy="222.2" r="1.6"/>
<circle class="n" cx="492.0" cy="160.1" r="1.6"/>
<circle class="g" cx="492.9" cy="230.4" r="1.6"/>
<circle class="g" cx="501.8" cy="196.7" r="1.6"/>
<circle class="g" cx="495.2" cy="175.5" r="1.6"/>
<circle class="f" cx="522.7" cy="213.3" r="1.6"/>
<circle class="k" cx="526.6" cy="225.8" r="1.6"/>
<circle class="f" cx="531.5" cy="222.7" r="1.6"/>
<circle class="k" cx="513.3" cy="188.7" r="1.6"/>
<circle class="f" cx="500.6" cy="180.4" r="1.6"/>
<circle class="n" cx="517.5" cy="152.3" r="1.6"/>
<circle class="f" cx="530.3" cy="194.7" r="1.6"/>
<circle class="f" cx="485.7" cy="174.0" r="1.6"/>
<circle class="f" cx="509.5" cy="164.8" r="1.6"/>
<circle class="f" cx="486.3" cy="187.7" r="1.6"/>
<circle class="g" cx="492.2" cy="209.1" r="1.6"/>
<circle class="g" cx="524.8" cy="222.0" r="1.6"/>
<circle class="g" cx="491.8" cy="176.0" r="1.6"/>
<circle class="g" cx="541.0" cy="183.9" r="1.6"/>
<circle class="n" cx="474.5" cy="105.9" r="1.6"/>
<circle class="k" cx="529.9" cy="190.9" r="1.6"/>
<circle class="k" cx="540.6" cy="216.5" r="1.6"/>
<circle class="f" cx="513.3" cy="219.6" r="1.6"/>
<circle class="n" cx="505.5" cy="147.9" r="1.6"/>
<circle class="k" cx="525.0" cy="190.7" r="1.6"/>
<circle class="k" cx="495.6" cy="206.8" r="1.6"/>
<circle class="f" cx="523.8" cy="172.6" r="1.6"/>
<circle class="f" cx="508.4" cy="185.3" r="1.6"/>
<circle class="k" cx="522.5" cy="222.7" r="1.6"/>
<circle class="n" cx="506.1" cy="161.2" r="1.6"/>
<circle class="g" cx="505.5" cy="216.6" r="1.6"/>
<circle class="k" cx="502.9" cy="152.8" r="1.6"/>
<circle class="g" cx="504.4" cy="218.0" r="1.6"/>
<circle class="f" cx="514.2" cy="279.8" r="1.6"/>
<circle class="g" cx="470.2" cy="172.0" r="1.6"/>
<circle class="f" cx="552.5" cy="164.5" r="1.6"/>
<circle class="g" cx="473.6" cy="290.3" r="1.6"/>
<circle class="g" cx="487.2" cy="183.8" r="1.6"/>
<circle class="g" cx="539.1" cy="202.9" r="1.6"/>
<circle class="f" cx="591.6" cy="214.0" r="1.6"/>
<circle class="n" cx="494.1" cy="173.3" r="1.6"/>
<circle class="n" cx="537.6" cy="139.7" r="1.6"/>
<circle class="g" cx="510.1" cy="200.1" r="1.6"/>
<circle class="g" cx="498.3" cy="207.5" r="1.6"/>
<circle class="k" cx="549.6" cy="178.7" r="1.6"/>
<circle class="g" cx="490.5" cy="193.3" r="1.6"/>
<circle class="g" cx="469.5" cy="158.1" r="1.6"/>
<circle class="f" cx="503.4" cy="201.2" r="1.6"/>
<circle class="g" cx="497.2" cy="194.8" r="1.6"/>
<circle class="f" cx="519.6" cy="155.8" r="1.6"/>
<circle class="g" cx="464.1" cy="245.6" r="1.6"/>
<circle class="g" cx="511.0" cy="224.1" r="1.6"/>
<circle class="f" cx="541.9" cy="231.9" r="1.6"/>
<circle class="f" cx="508.5" cy="203.1" r="1.6"/>
<circle class="k" cx="530.4" cy="179.1" r="1.6"/>
<circle class="g" cx="530.2" cy="208.0" r="1.6"/>
<circle class="n" cx="512.6" cy="167.0" r="1.6"/>
<circle class="f" cx="582.0" cy="181.5" r="1.6"/>
<circle class="g" cx="506.3" cy="196.2" r="1.6"/>
<circle class="n" cx="529.8" cy="157.6" r="1.6"/>
<circle class="n" cx="492.0" cy="111.5" r="1.6"/>
<circle class="f" cx="582.0" cy="292.0" r="1.6"/>
<circle class="f" cx="504.9" cy="212.5" r="1.6"/>
<circle class="g" cx="504.0" cy="216.0" r="1.6"/>
<circle class="k" cx="490.7" cy="165.8" r="1.6"/>
<circle class="g" cx="516.4" cy="223.5" r="1.6"/>
<circle class="g" cx="492.0" cy="159.2" r="1.6"/>
<circle class="g" cx="497.2" cy="234.7" r="1.6"/>
<circle class="k" cx="544.6" cy="219.7" r="1.6"/>
<circle class="k" cx="456.4" cy="208.6" r="1.6"/>
<circle class="f" cx="529.5" cy="207.6" r="1.6"/>
<circle class="k" cx="489.1" cy="158.9" r="1.6"/>
<circle class="f" cx="500.5" cy="176.2" r="1.6"/>
<circle class="g" cx="470.9" cy="183.6" r="1.6"/>
<circle class="g" cx="507.0" cy="177.3" r="1.6"/>
<circle class="n" cx="537.0" cy="171.4" r="1.6"/>
<circle class="g" cx="449.7" cy="184.7" r="1.6"/>
<circle class="f" cx="521.2" cy="217.0" r="1.6"/>
<circle class="n" cx="491.3" cy="148.8" r="1.6"/>
<circle class="n" cx="482.3" cy="162.6" r="1.6"/>
<circle class="n" cx="509.8" cy="150.9" r="1.6"/>
<circle class="n" cx="509.4" cy="166.2" r="1.6"/>
<circle class="g" cx="498.2" cy="214.9" r="1.6"/>
<circle class="f" cx="497.9" cy="222.0" r="1.6"/>
<circle class="g" cx="462.1" cy="223.9" r="1.6"/>
<circle class="g" cx="472.3" cy="211.7" r="1.6"/>
<circle class="g" cx="501.2" cy="151.5" r="1.6"/>
<circle class="n" cx="505.6" cy="180.6" r="1.6"/>
<circle class="n" cx="478.3" cy="168.7" r="1.6"/>
<circle class="f" cx="496.2" cy="197.3" r="1.6"/>
<circle class="k" cx="536.3" cy="209.0" r="1.6"/>
<circle class="g" cx="507.8" cy="197.8" r="1.6"/>
<circle class="f" cx="515.3" cy="208.6" r="1.6"/>
<circle class="k" cx="496.4" cy="215.7" r="1.6"/>
<circle class="n" cx="508.2" cy="108.0" r="1.6"/>
<circle class="f" cx="516.4" cy="202.9" r="1.6"/>
<circle class="f" cx="523.3" cy="218.9" r="1.6"/>
<circle class="f" cx="552.6" cy="209.2" r="1.6"/>
<circle class="n" cx="519.8" cy="132.5" r="1.6"/>
<circle class="f" cx="530.3" cy="195.2" r="1.6"/>
<circle class="f" cx="501.8" cy="181.1" r="1.6"/>
<circle class="g" cx="488.9" cy="228.4" r="1.6"/>
<circle class="k" cx="509.7" cy="221.3" r="1.6"/>
<circle class="n" cx="508.8" cy="153.8" r="1.6"/>
<circle class="f" cx="533.7" cy="226.6" r="1.6"/>
<circle class="n" cx="475.2" cy="131.8" r="1.6"/>
<circle class="g" cx="478.7" cy="181.5" r="1.6"/>
<circle class="g" cx="508.5" cy="152.4" r="1.6"/>
<circle class="g" cx="451.4" cy="229.8" r="1.6"/>
<circle class="n" cx="535.3" cy="139.8" r="1.6"/>
<circle class="g" cx="525.8" cy="199.9" r="1.6"/>
<circle class="g" cx="470.4" cy="214.3" r="1.6"/>
<circle class="g" cx="495.2" cy="146.0" r="1.6"/>
<circle class="f" cx="545.6" cy="197.9" r="1.6"/>
<circle class="g" cx="483.4" cy="243.0" r="1.6"/>
<circle class="g" cx="470.8" cy="221.1" r="1.6"/>
<circle class="f" cx="504.6" cy="178.4" r="1.6"/>
<circle class="n" cx="499.3" cy="150.4" r="1.6"/>
<circle class="n" cx="491.4" cy="119.4" r="1.6"/>
<circle class="n" cx="525.9" cy="163.0" r="1.6"/>
<circle class="f" cx="522.0" cy="165.8" r="1.6"/>
<circle class="g" cx="457.3" cy="219.7" r="1.6"/>
<circle class="g" cx="456.3" cy="222.8" r="1.6"/>
<circle class="k" cx="506.3" cy="187.9" r="1.6"/>
<circle class="g" cx="481.7" cy="187.6" r="1.6"/>
<circle class="g" cx="518.3" cy="151.2" r="1.6"/>
<circle class="f" cx="518.3" cy="173.0" r="1.6"/>
<circle class="n" cx="506.0" cy="91.8" r="1.6"/>
<circle class="n" cx="494.2" cy="150.6" r="1.6"/>
<circle class="f" cx="488.9" cy="248.5" r="1.6"/>
<circle class="g" cx="504.6" cy="213.2" r="1.6"/>
<circle class="f" cx="526.5" cy="208.9" r="1.6"/>
<circle class="n" cx="516.0" cy="190.3" r="1.6"/>
<circle class="f" cx="543.2" cy="213.2" r="1.6"/>
<circle class="f" cx="520.9" cy="205.7" r="1.6"/>
<circle class="n" cx="538.1" cy="129.7" r="1.6"/>
<circle class="g" cx="511.7" cy="178.3" r="1.6"/>
<circle class="k" cx="498.3" cy="196.1" r="1.6"/>
<circle class="n" cx="479.8" cy="131.1" r="1.6"/>
<circle class="k" cx="494.9" cy="215.7" r="1.6"/>
<circle class="f" cx="497.6" cy="190.5" r="1.6"/>
<circle class="f" cx="518.1" cy="203.1" r="1.6"/>
<circle class="f" cx="492.3" cy="185.6" r="1.6"/>
<circle class="n" cx="540.3" cy="137.3" r="1.6"/>
<circle class="k" cx="523.7" cy="162.9" r="1.6"/>
<circle class="g" cx="451.0" cy="179.2" r="1.6"/>
<circle class="k" cx="512.8" cy="185.9" r="1.6"/>
<circle class="f" cx="531.4" cy="184.1" r="1.6"/>
<circle class="k" cx="524.2" cy="228.0" r="1.6"/>
<circle class="g" cx="509.8" cy="154.2" r="1.6"/>
<circle class="g" cx="480.2" cy="188.2" r="1.6"/>
<circle class="g" cx="525.9" cy="219.2" r="1.6"/>
<circle class="n" cx="512.8" cy="123.2" r="1.6"/>
<circle class="f" cx="550.7" cy="153.1" r="1.6"/>
<circle class="f" cx="528.3" cy="202.8" r="1.6"/>
<circle class="g" cx="515.6" cy="180.7" r="1.6"/>
<circle class="n" cx="505.5" cy="135.2" r="1.6"/>
<circle class="g" cx="478.7" cy="164.5" r="1.6"/>
<circle class="g" cx="535.9" cy="181.1" r="1.6"/>
<circle class="n" cx="515.9" cy="157.9" r="1.6"/>
<circle class="g" cx="488.7" cy="196.5" r="1.6"/>
<circle class="g" cx="514.4" cy="203.2" r="1.6"/>
<circle class="n" cx="483.8" cy="134.2" r="1.6"/>
<circle class="g" cx="497.0" cy="210.4" r="1.6"/>
<circle class="g" cx="490.4" cy="203.0" r="1.6"/>
<circle class="f" cx="515.7" cy="148.7" r="1.6"/>
<circle class="n" cx="496.8" cy="103.7" r="1.6"/>
<circle class="g" cx="498.2" cy="162.2" r="1.6"/>
<circle class="k" cx="484.6" cy="236.3" r="1.6"/>
<circle class="n" cx="489.7" cy="153.4" r="1.6"/>
<circle class="f" cx="502.6" cy="193.0" r="1.6"/>
<circle class="f" cx="581.8" cy="219.0" r="1.6"/>
<circle class="g" cx="487.0" cy="154.1" r="1.6"/>
<circle class="g" cx="474.1" cy="214.1" r="1.6"/>
<circle class="k" cx="506.9" cy="185.0" r="1.6"/>
<circle class="f" cx="533.1" cy="167.3" r="1.6"/>
<circle class="n" cx="504.1" cy="156.6" r="1.6"/>
<circle class="k" cx="537.6" cy="285.7" r="1.6"/>
<circle class="g" cx="494.0" cy="162.5" r="1.6"/>
<circle class="f" cx="509.0" cy="205.0" r="1.6"/>
<circle class="k" cx="521.7" cy="213.8" r="1.6"/>
<circle class="g" cx="505.5" cy="209.8" r="1.6"/>
<circle class="g" cx="455.6" cy="211.4" r="1.6"/>
<circle class="k" cx="502.5" cy="190.5" r="1.6"/>
<circle class="f" cx="507.9" cy="170.8" r="1.6"/>
<circle class="g" cx="500.8" cy="247.3" r="1.6"/>
<circle class="n" cx="503.0" cy="154.5" r="1.6"/>
<circle class="g" cx="494.8" cy="203.0" r="1.6"/>
<circle class="g" cx="516.2" cy="155.0" r="1.6"/>
<circle class="f" cx="557.2" cy="218.0" r="1.6"/>
<circle class="k" cx="539.4" cy="160.5" r="1.6"/>
<circle class="f" cx="523.4" cy="190.3" r="1.6"/>
<circle class="n" cx="507.8" cy="136.4" r="1.6"/>
<circle class="n" cx="490.4" cy="170.8" r="1.6"/>
<circle class="f" cx="533.5" cy="229.3" r="1.6"/>
<circle class="f" cx="521.7" cy="166.2" r="1.6"/>
<circle class="k" cx="540.9" cy="162.9" r="1.6"/>
<circle class="f" cx="528.6" cy="213.5" r="1.6"/>
<circle class="g" cx="496.1" cy="180.3" r="1.6"/>
<circle class="f" cx="507.6" cy="183.4" r="1.6"/>
<circle class="f" cx="483.6" cy="187.6" r="1.6"/>
<circle class="n" cx="527.1" cy="143.5" r="1.6"/>
<circle class="g" cx="469.7" cy="210.5" r="1.6"/>
<circle class="k" cx="500.6" cy="127.1" r="1.6"/>
<circle class="k" cx="514.5" cy="204.7" r="1.6"/>
<circle class="g" cx="497.4" cy="179.6" r="1.6"/>
<circle class="f" cx="613.6" cy="248.6" r="1.6"/>
<circle class="n" cx="509.7" cy="145.3" r="1.6"/>
<circle class="g" cx="437.5" cy="253.8" r="1.6"/>
<circle class="f" cx="500.7" cy="191.6" r="1.6"/>
<circle class="g" cx="489.9" cy="199.6" r="1.6"/>
<circle class="n" cx="525.9" cy="118.0" r="1.6"/>
<circle class="k" cx="548.6" cy="194.6" r="1.6"/>
<circle class="f" cx="491.4" cy="198.0" r="1.6"/>
<circle class="f" cx="534.6" cy="184.3" r="1.6"/>
<circle class="f" cx="528.3" cy="211.6" r="1.6"/>
<circle class="f" cx="546.6" cy="220.2" r="1.6"/>
<circle class="n" cx="500.2" cy="152.0" r="1.6"/>
<circle class="g" cx="484.2" cy="206.0" r="1.6"/>
<circle class="g" cx="411.8" cy="176.3" r="1.6"/>
<circle class="n" cx="508.8" cy="146.8" r="1.6"/>
<circle class="g" cx="479.6" cy="219.5" r="1.6"/>
<circle class="f" cx="550.3" cy="184.5" r="1.6"/>
<circle class="f" cx="492.9" cy="211.0" r="1.6"/>
<circle class="g" cx="501.7" cy="145.0" r="1.6"/>
<circle class="f" cx="528.3" cy="199.4" r="1.6"/>
<circle class="f" cx="558.4" cy="244.0" r="1.6"/>
<circle class="f" cx="562.1" cy="277.9" r="1.6"/>
<circle class="g" cx="488.8" cy="188.6" r="1.6"/>
<circle class="g" cx="480.4" cy="188.9" r="1.6"/>
<circle class="f" cx="541.9" cy="236.9" r="1.6"/>
<circle class="g" cx="517.4" cy="225.8" r="1.6"/>
<circle class="g" cx="511.6" cy="205.9" r="1.6"/>
<circle class="g" cx="521.8" cy="208.2" r="1.6"/>
<circle class="f" cx="516.1" cy="246.1" r="1.6"/>
<circle class="g" cx="484.7" cy="189.5" r="1.6"/>
<circle class="g" cx="532.3" cy="219.6" r="1.6"/>
<circle class="n" cx="538.7" cy="159.1" r="1.6"/>
<circle class="n" cx="526.7" cy="122.9" r="1.6"/>
<circle class="f" cx="541.5" cy="180.0" r="1.6"/>
<circle class="f" cx="493.7" cy="186.1" r="1.6"/>
<circle class="g" cx="455.1" cy="196.5" r="1.6"/>
<circle class="g" cx="482.0" cy="234.2" r="1.6"/>
<circle class="f" cx="455.5" cy="169.2" r="1.6"/>
<circle class="n" cx="522.3" cy="140.3" r="1.6"/>
<circle class="n" cx="518.8" cy="152.6" r="1.6"/>
<circle class="g" cx="480.6" cy="198.3" r="1.6"/>
<circle class="n" cx="509.5" cy="186.5" r="1.6"/>
<circle class="g" cx="533.2" cy="222.3" r="1.6"/>
<circle class="f" cx="502.7" cy="150.0" r="1.6"/>
<circle class="g" cx="484.1" cy="225.3" r="1.6"/>
<circle class="k" cx="557.8" cy="193.2" r="1.6"/>
<circle class="g" cx="526.7" cy="176.7" r="1.6"/>
<circle class="n" cx="492.5" cy="148.8" r="1.6"/>
<circle class="g" cx="517.5" cy="207.7" r="1.6"/>
<circle class="f" cx="505.7" cy="201.3" r="1.6"/>
<circle class="n" cx="509.2" cy="157.6" r="1.6"/>
<circle class="g" cx="493.2" cy="255.0" r="1.6"/>
<circle class="g" cx="514.3" cy="203.0" r="1.6"/>
<circle class="k" cx="480.8" cy="206.6" r="1.6"/>
<circle class="g" cx="475.7" cy="246.2" r="1.6"/>
<circle class="k" cx="476.3" cy="194.7" r="1.6"/>
<circle class="k" cx="520.7" cy="195.3" r="1.6"/>
<circle class="g" cx="480.4" cy="212.5" r="1.6"/>
<circle class="f" cx="507.7" cy="168.2" r="1.6"/>
<circle class="g" cx="456.6" cy="221.7" r="1.6"/>
<circle class="g" cx="478.4" cy="193.4" r="1.6"/>
<circle class="n" cx="500.0" cy="146.4" r="1.6"/>
<circle class="k" cx="495.1" cy="217.2" r="1.6"/>
<circle class="g" cx="454.0" cy="257.1" r="1.6"/>
<circle class="g" cx="503.5" cy="167.7" r="1.6"/>
<circle class="g" cx="493.7" cy="237.4" r="1.6"/>
<circle class="f" cx="505.4" cy="181.4" r="1.6"/>
<circle class="f" cx="520.0" cy="178.7" r="1.6"/>
<circle class="k" cx="530.6" cy="228.5" r="1.6"/>
<circle class="n" cx="510.8" cy="149.8" r="1.6"/>
<circle class="k" cx="510.0" cy="215.7" r="1.6"/>
<circle class="k" cx="552.0" cy="213.2" r="1.6"/>
<circle class="k" cx="507.5" cy="157.0" r="1.6"/>
<circle class="g" cx="441.9" cy="100.0" r="1.6"/>
<circle class="g" cx="489.9" cy="176.7" r="1.6"/>
<circle class="k" cx="544.0" cy="199.3" r="1.6"/>
<circle class="n" cx="531.1" cy="149.5" r="1.6"/>
<circle class="g" cx="466.9" cy="202.3" r="1.6"/>
<circle class="g" cx="471.4" cy="173.7" r="1.6"/>
<circle class="f" cx="494.2" cy="170.6" r="1.6"/>
<circle class="n" cx="521.7" cy="141.0" r="1.6"/>
<circle class="n" cx="486.0" cy="157.4" r="1.6"/>
<circle class="g" cx="464.0" cy="232.2" r="1.6"/>
<circle class="g" cx="487.6" cy="149.2" r="1.6"/>
<circle class="f" cx="543.7" cy="211.8" r="1.6"/>
<circle class="k" cx="498.2" cy="232.1" r="1.6"/>
<circle class="g" cx="502.0" cy="171.5" r="1.6"/>
<circle class="g" cx="499.7" cy="194.6" r="1.6"/>
<circle class="g" cx="464.7" cy="207.2" r="1.6"/>
<circle class="k" cx="484.2" cy="194.0" r="1.6"/>
<circle class="n" cx="517.3" cy="157.0" r="1.6"/>
<circle class="n" cx="502.8" cy="123.7" r="1.6"/>
<circle class="g" cx="465.9" cy="157.2" r="1.6"/>
<circle class="k" cx="517.2" cy="218.3" r="1.6"/>
<circle class="g" cx="510.7" cy="141.3" r="1.6"/>
<circle class="g" cx="490.4" cy="202.7" r="1.6"/>
<circle class="k" cx="525.8" cy="212.4" r="1.6"/>
<circle class="g" cx="514.0" cy="155.1" r="1.6"/>
<circle class="k" cx="502.4" cy="188.4" r="1.6"/>
<circle class="g" cx="515.2" cy="205.2" r="1.6"/>
<circle class="g" cx="514.7" cy="224.9" r="1.6"/>
<circle class="f" cx="518.6" cy="160.9" r="1.6"/>
<circle class="f" cx="547.0" cy="206.8" r="1.6"/>
<circle class="k" cx="547.6" cy="211.9" r="1.6"/>
<circle class="n" cx="502.3" cy="161.7" r="1.6"/>
<circle class="g" cx="475.6" cy="219.8" r="1.6"/>
<circle class="f" cx="511.6" cy="185.5" r="1.6"/>
<circle class="g" cx="511.8" cy="161.6" r="1.6"/>
<circle class="f" cx="514.7" cy="166.5" r="1.6"/>
<circle class="k" cx="494.3" cy="158.6" r="1.6"/>
<circle class="g" cx="487.3" cy="219.8" r="1.6"/>
<circle class="g" cx="508.4" cy="208.3" r="1.6"/>
<circle class="k" cx="500.5" cy="205.3" r="1.6"/>
<circle class="k" cx="535.5" cy="182.7" r="1.6"/>
<circle class="k" cx="514.4" cy="186.3" r="1.6"/>
<circle class="g" cx="469.9" cy="191.8" r="1.6"/>
<circle class="f" cx="539.2" cy="228.3" r="1.6"/>
<circle class="f" cx="518.7" cy="225.7" r="1.6"/>
<circle class="k" cx="483.9" cy="203.9" r="1.6"/>
<circle class="k" cx="509.4" cy="188.9" r="1.6"/>
<circle class="g" cx="495.0" cy="173.1" r="1.6"/>
<circle class="g" cx="459.3" cy="192.3" r="1.6"/>
<circle class="n" cx="499.2" cy="170.7" r="1.6"/>
<circle class="f" cx="492.0" cy="202.6" r="1.6"/>
<circle class="g" cx="477.0" cy="164.8" r="1.6"/>
<circle class="f" cx="512.0" cy="177.5" r="1.6"/>
<circle class="f" cx="527.4" cy="267.3" r="1.6"/>
<circle class="g" cx="523.0" cy="208.1" r="1.6"/>
<circle class="g" cx="487.2" cy="216.2" r="1.6"/>
<circle class="k" cx="533.9" cy="195.4" r="1.6"/>
<circle class="f" cx="504.3" cy="231.9" r="1.6"/>
<circle class="n" cx="504.8" cy="164.5" r="1.6"/>
<circle class="n" cx="504.8" cy="200.6" r="1.6"/>
<circle class="g" cx="450.9" cy="193.8" r="1.6"/>
<circle class="g" cx="472.1" cy="220.8" r="1.6"/>
<circle class="g" cx="508.6" cy="155.7" r="1.6"/>
<circle class="n" cx="505.2" cy="181.3" r="1.6"/>
<circle class="g" cx="484.1" cy="199.5" r="1.6"/>
<circle class="n" cx="496.3" cy="162.3" r="1.6"/>
<circle class="f" cx="512.1" cy="222.7" r="1.6"/>
<circle class="n" cx="501.4" cy="146.7" r="1.6"/>
<circle class="g" cx="483.6" cy="155.8" r="1.6"/>
<circle class="n" cx="520.2" cy="183.5" r="1.6"/>
<circle class="f" cx="519.7" cy="161.0" r="1.6"/>
<circle class="k" cx="488.6" cy="166.1" r="1.6"/>
<circle class="n" cx="524.0" cy="156.0" r="1.6"/>
<circle class="f" cx="520.9" cy="223.8" r="1.6"/>
<circle class="f" cx="515.7" cy="167.2" r="1.6"/>
<circle class="f" cx="507.1" cy="200.1" r="1.6"/>
<circle class="g" cx="531.5" cy="216.5" r="1.6"/>
<circle class="f" cx="540.3" cy="192.0" r="1.6"/>
<circle class="g" cx="488.9" cy="192.1" r="1.6"/>
<circle class="f" cx="512.4" cy="222.6" r="1.6"/>
<circle class="n" cx="498.0" cy="141.5" r="1.6"/>
<circle class="n" cx="495.8" cy="152.9" r="1.6"/>
<circle class="k" cx="547.5" cy="175.0" r="1.6"/>
<circle class="g" cx="460.4" cy="246.6" r="1.6"/>
<circle class="g" cx="519.1" cy="216.2" r="1.6"/>
<circle class="f" cx="511.4" cy="145.7" r="1.6"/>
<circle class="k" cx="524.4" cy="252.2" r="1.6"/>
<circle class="f" cx="501.4" cy="198.9" r="1.6"/>
<circle class="f" cx="517.7" cy="189.9" r="1.6"/>
<circle class="g" cx="489.2" cy="186.1" r="1.6"/>
<circle class="n" cx="512.3" cy="130.7" r="1.6"/>
<circle class="k" cx="529.6" cy="220.5" r="1.6"/>
<circle class="f" cx="517.6" cy="223.4" r="1.6"/>
<circle class="k" cx="470.1" cy="188.3" r="1.6"/>
<circle class="n" cx="519.9" cy="109.9" r="1.6"/>
<circle class="g" cx="494.9" cy="216.5" r="1.6"/>
<circle class="f" cx="533.6" cy="191.1" r="1.6"/>
<circle class="g" cx="500.9" cy="206.4" r="1.6"/>
<circle class="k" cx="540.3" cy="202.3" r="1.6"/>
<circle class="g" cx="482.1" cy="232.2" r="1.6"/>
<circle class="k" cx="485.4" cy="181.4" r="1.6"/>
<circle class="k" cx="539.5" cy="235.7" r="1.6"/>
<circle class="k" cx="513.8" cy="195.1" r="1.6"/>
<circle class="f" cx="509.4" cy="226.7" r="1.6"/>
<circle class="g" cx="496.8" cy="217.7" r="1.6"/>
<circle class="k" cx="555.8" cy="134.2" r="1.6"/>
<circle class="k" cx="560.6" cy="194.3" r="1.6"/>
<circle class="g" cx="520.1" cy="168.7" r="1.6"/>
<circle class="g" cx="524.0" cy="143.8" r="1.6"/>
<circle class="k" cx="525.4" cy="204.5" r="1.6"/>
<circle class="f" cx="522.6" cy="256.4" r="1.6"/>
<circle class="g" cx="508.3" cy="171.5" r="1.6"/>
<circle class="g" cx="505.1" cy="165.5" r="1.6"/>
<circle class="n" cx="504.7" cy="162.5" r="1.6"/>
<circle class="n" cx="525.8" cy="159.4" r="1.6"/>
<circle class="f" cx="566.0" cy="209.0" r="1.6"/>
<circle class="k" cx="517.9" cy="163.4" r="1.6"/>
<circle class="g" cx="552.6" cy="180.6" r="1.6"/>
<circle class="g" cx="528.1" cy="192.9" r="1.6"/>
<circle class="k" cx="544.9" cy="194.5" r="1.6"/>
<circle class="n" cx="544.8" cy="133.0" r="1.6"/>
<circle class="f" cx="513.6" cy="197.2" r="1.6"/>
<circle class="g" cx="492.4" cy="189.4" r="1.6"/>
<circle class="g" cx="485.3" cy="251.3" r="1.6"/>
<circle class="f" cx="565.4" cy="270.5" r="1.6"/>
<circle class="k" cx="506.6" cy="176.3" r="1.6"/>
<circle class="k" cx="484.1" cy="254.1" r="1.6"/>
<circle class="g" cx="482.0" cy="180.9" r="1.6"/>
<circle class="g" cx="482.2" cy="161.5" r="1.6"/>
<circle class="g" cx="516.2" cy="190.5" r="1.6"/>
<circle class="k" cx="559.4" cy="211.9" r="1.6"/>
<circle class="g" cx="549.6" cy="212.0" r="1.6"/>
<circle class="k" cx="487.5" cy="278.3" r="1.6"/>
<circle class="g" cx="452.6" cy="221.9" r="1.6"/>
<circle class="f" cx="554.1" cy="233.3" r="1.6"/>
<circle class="n" cx="478.5" cy="140.7" r="1.6"/>
<circle class="g" cx="519.7" cy="232.5" r="1.6"/>
<circle class="g" cx="509.6" cy="202.9" r="1.6"/>
<circle class="g" cx="511.1" cy="211.2" r="1.6"/>
<circle class="g" cx="490.1" cy="197.3" r="1.6"/>
<circle class="k" cx="491.1" cy="132.2" r="1.6"/>
<circle class="g" cx="490.6" cy="143.7" r="1.6"/>
<circle class="f" cx="542.4" cy="202.0" r="1.6"/>
<circle class="g" cx="460.0" cy="209.3" r="1.6"/>
<circle class="g" cx="465.1" cy="239.0" r="1.6"/>
<circle class="g" cx="489.6" cy="249.3" r="1.6"/>
<circle class="g" cx="546.7" cy="175.8" r="1.6"/>
<circle class="f" cx="498.1" cy="232.8" r="1.6"/>
<circle class="k" cx="519.3" cy="264.3" r="1.6"/>
<circle class="n" cx="502.7" cy="113.3" r="1.6"/>
<circle class="f" cx="517.7" cy="200.5" r="1.6"/>
<circle class="g" cx="487.5" cy="192.5" r="1.6"/>
<circle class="f" cx="477.4" cy="193.5" r="1.6"/>
<circle class="g" cx="489.6" cy="227.0" r="1.6"/>
<circle class="f" cx="496.0" cy="174.2" r="1.6"/>
<circle class="n" cx="485.0" cy="144.3" r="1.6"/>
<circle class="k" cx="505.2" cy="163.3" r="1.6"/>
<circle class="n" cx="508.2" cy="168.0" r="1.6"/>
<circle class="f" cx="505.8" cy="180.6" r="1.6"/>
<circle class="g" cx="488.3" cy="214.4" r="1.6"/>
<circle class="g" cx="527.4" cy="181.3" r="1.6"/>
<circle class="g" cx="492.1" cy="235.3" r="1.6"/>
<circle class="g" cx="480.3" cy="188.6" r="1.6"/>
<circle class="n" cx="515.3" cy="180.0" r="1.6"/>
<circle class="n" cx="510.8" cy="155.4" r="1.6"/>
<circle class="f" cx="488.7" cy="178.8" r="1.6"/>
<circle class="k" cx="477.0" cy="219.3" r="1.6"/>
<circle class="f" cx="535.7" cy="175.4" r="1.6"/>
<circle class="f" cx="494.2" cy="221.8" r="1.6"/>
<circle class="k" cx="528.3" cy="201.5" r="1.6"/>
<circle class="n" cx="510.0" cy="164.7" r="1.6"/>
<circle class="f" cx="489.6" cy="171.8" r="1.6"/>
<circle class="f" cx="525.3" cy="209.0" r="1.6"/>
<circle class="f" cx="517.2" cy="208.1" r="1.6"/>
<circle class="k" cx="530.6" cy="234.2" r="1.6"/>
<circle class="g" cx="474.8" cy="263.4" r="1.6"/>
<circle class="g" cx="517.8" cy="200.4" r="1.6"/>
<circle class="f" cx="497.7" cy="174.8" r="1.6"/>
<circle class="g" cx="486.8" cy="198.0" r="1.6"/>
<circle class="g" cx="521.0" cy="175.0" r="1.6"/>
<circle class="k" cx="519.0" cy="187.5" r="1.6"/>
<circle class="g" cx="511.8" cy="191.1" r="1.6"/>
<circle class="g" cx="475.8" cy="225.7" r="1.6"/>
<circle class="k" cx="482.0" cy="280.9" r="1.6"/>
<circle class="f" cx="530.4" cy="245.1" r="1.6"/>
<circle class="g" cx="504.9" cy="223.6" r="1.6"/>
<circle class="k" cx="537.9" cy="204.6" r="1.6"/>
<circle class="k" cx="511.5" cy="158.9" r="1.6"/>
<circle class="k" cx="529.0" cy="273.8" r="1.6"/>
<circle class="g" cx="474.2" cy="180.8" r="1.6"/>
<circle class="f" cx="487.4" cy="157.4" r="1.6"/>
<circle class="g" cx="518.4" cy="196.6" r="1.6"/>
<circle class="n" cx="497.3" cy="157.5" r="1.6"/>
<circle class="n" cx="508.5" cy="144.8" r="1.6"/>
<circle class="k" cx="510.1" cy="211.0" r="1.6"/>
<circle class="k" cx="524.9" cy="198.1" r="1.6"/>
<circle class="g" cx="480.0" cy="185.5" r="1.6"/>
<circle class="g" cx="450.2" cy="159.4" r="1.6"/>
<circle class="n" cx="510.6" cy="127.7" r="1.6"/>
<circle class="n" cx="500.6" cy="136.3" r="1.6"/>
<circle class="g" cx="500.1" cy="217.4" r="1.6"/>
<circle class="f" cx="532.8" cy="255.1" r="1.6"/>
<circle class="g" cx="495.5" cy="220.2" r="1.6"/>
<circle class="g" cx="514.6" cy="191.8" r="1.6"/>
<circle class="n" cx="504.0" cy="160.7" r="1.6"/>
<circle class="g" cx="485.9" cy="157.7" r="1.6"/>
<circle class="f" cx="561.0" cy="244.9" r="1.6"/>
<circle class="n" cx="497.3" cy="158.9" r="1.6"/>
<circle class="n" cx="490.4" cy="137.9" r="1.6"/>
<circle class="g" cx="494.2" cy="202.3" r="1.6"/>
<circle class="k" cx="510.1" cy="217.0" r="1.6"/>
<circle class="g" cx="463.2" cy="182.9" r="1.6"/>
<circle class="g" cx="460.7" cy="176.7" r="1.6"/>
<circle class="g" cx="420.8" cy="194.5" r="1.6"/>
<circle class="f" cx="477.8" cy="172.6" r="1.6"/>
<circle class="n" cx="512.0" cy="162.8" r="1.6"/>
<circle class="g" cx="474.6" cy="219.6" r="1.6"/>
<circle class="n" cx="514.6" cy="164.7" r="1.6"/>
<circle class="g" cx="433.8" cy="168.9" r="1.6"/>
<circle class="n" cx="505.7" cy="191.5" r="1.6"/>
<circle class="f" cx="538.3" cy="197.2" r="1.6"/>
<circle class="g" cx="491.6" cy="239.1" r="1.6"/>
<circle class="g" cx="498.4" cy="270.3" r="1.6"/>
<circle class="g" cx="504.4" cy="281.6" r="1.6"/>
<circle class="g" cx="491.1" cy="186.7" r="1.6"/>
<circle class="f" cx="547.8" cy="245.1" r="1.6"/>
<circle class="f" cx="527.8" cy="168.8" r="1.6"/>
<circle class="g" cx="507.6" cy="186.5" r="1.6"/>
<circle class="g" cx="501.0" cy="225.0" r="1.6"/>
<circle class="n" cx="509.4" cy="176.8" r="1.6"/>
<circle class="n" cx="530.9" cy="182.3" r="1.6"/>
<circle class="f" cx="526.4" cy="176.6" r="1.6"/>
<circle class="g" cx="518.9" cy="206.9" r="1.6"/>
<circle class="f" cx="444.1" cy="158.2" r="1.6"/>
<circle class="g" cx="473.4" cy="225.6" r="1.6"/>
<circle class="f" cx="501.0" cy="185.5" r="1.6"/>
<circle class="f" cx="533.4" cy="178.3" r="1.6"/>
<circle class="g" cx="449.2" cy="180.3" r="1.6"/>
<circle class="k" cx="502.1" cy="235.4" r="1.6"/>
<circle class="f" cx="520.7" cy="180.8" r="1.6"/>
<circle class="g" cx="503.4" cy="216.2" r="1.6"/>
<circle class="k" cx="510.2" cy="225.6" r="1.6"/>
<circle class="g" cx="468.1" cy="224.7" r="1.6"/>
<circle class="n" cx="521.1" cy="151.6" r="1.6"/>
<circle class="n" cx="520.7" cy="152.6" r="1.6"/>
<circle class="g" cx="503.3" cy="188.3" r="1.6"/>
<circle class="g" cx="462.6" cy="226.3" r="1.6"/>
<circle class="f" cx="487.6" cy="203.4" r="1.6"/>
<circle class="g" cx="490.4" cy="175.3" r="1.6"/>
<circle class="f" cx="496.3" cy="204.8" r="1.6"/>
<circle class="g" cx="466.1" cy="215.8" r="1.6"/>
<circle class="k" cx="454.5" cy="174.4" r="1.6"/>
<circle class="n" cx="481.2" cy="126.9" r="1.6"/>
<circle class="f" cx="525.7" cy="205.5" r="1.6"/>
<circle class="n" cx="505.1" cy="153.4" r="1.6"/>
<circle class="k" cx="515.1" cy="212.4" r="1.6"/>
<circle class="f" cx="476.0" cy="179.7" r="1.6"/>
<circle class="g" cx="507.2" cy="280.5" r="1.6"/>
<circle class="g" cx="480.5" cy="216.0" r="1.6"/>
<circle class="n" cx="518.1" cy="138.3" r="1.6"/>
<circle class="n" cx="518.4" cy="160.4" r="1.6"/>
<circle class="g" cx="507.2" cy="208.1" r="1.6"/>
<circle class="g" cx="531.4" cy="212.7" r="1.6"/>
<circle class="f" cx="522.9" cy="241.5" r="1.6"/>
<circle class="g" cx="507.1" cy="229.6" r="1.6"/>
<circle class="k" cx="505.5" cy="219.2" r="1.6"/>
<circle class="n" cx="505.9" cy="115.3" r="1.6"/>
<circle class="g" cx="523.1" cy="178.6" r="1.6"/>
<circle class="f" cx="487.5" cy="209.2" r="1.6"/>
<circle class="n" cx="487.7" cy="119.6" r="1.6"/>
<circle class="g" cx="488.1" cy="186.9" r="1.6"/>
<circle class="n" cx="490.4" cy="146.5" r="1.6"/>
<circle class="f" cx="521.4" cy="267.5" r="1.6"/>
<circle class="g" cx="517.3" cy="201.0" r="1.6"/>
<circle class="n" cx="531.3" cy="120.2" r="1.6"/>
<circle class="n" cx="506.0" cy="178.0" r="1.6"/>
<circle class="k" cx="551.7" cy="215.0" r="1.6"/>
<circle class="f" cx="530.2" cy="163.0" r="1.6"/>
<circle class="g" cx="491.9" cy="183.5" r="1.6"/>
<circle class="n" cx="513.8" cy="163.9" r="1.6"/>
<circle class="k" cx="530.5" cy="200.0" r="1.6"/>
<circle class="g" cx="492.4" cy="167.3" r="1.6"/>
<circle class="f" cx="491.8" cy="223.3" r="1.6"/>
<circle class="g" cx="481.5" cy="187.2" r="1.6"/>
<circle class="f" cx="540.3" cy="188.4" r="1.6"/>
<circle class="f" cx="491.1" cy="219.6" r="1.6"/>
<circle class="k" cx="489.2" cy="214.3" r="1.6"/>
<circle class="f" cx="554.1" cy="244.8" r="1.6"/>
<circle class="n" cx="503.7" cy="127.7" r="1.6"/>
<circle class="k" cx="496.1" cy="199.3" r="1.6"/>
<circle class="g" cx="479.2" cy="189.6" r="1.6"/>
<circle class="g" cx="479.7" cy="221.5" r="1.6"/>
<circle class="g" cx="468.9" cy="202.1" r="1.6"/>
<circle class="k" cx="515.4" cy="194.0" r="1.6"/>
<circle class="k" cx="485.4" cy="247.4" r="1.6"/>
<circle class="f" cx="508.7" cy="183.0" r="1.6"/>
<circle class="g" cx="539.6" cy="209.3" r="1.6"/>
<circle class="f" cx="514.1" cy="209.5" r="1.6"/>
<circle class="g" cx="496.1" cy="155.4" r="1.6"/>
<circle class="g" cx="446.6" cy="196.8" r="1.6"/>
<circle class="g" cx="529.1" cy="210.0" r="1.6"/>
<circle class="f" cx="496.9" cy="196.5" r="1.6"/>
<circle class="f" cx="514.2" cy="195.4" r="1.6"/>
<circle class="n" cx="509.6" cy="127.1" r="1.6"/>
<circle class="g" cx="485.7" cy="189.4" r="1.6"/>
<circle class="k" cx="535.8" cy="226.2" r="1.6"/>
<circle class="n" cx="504.6" cy="118.0" r="1.6"/>
<circle class="n" cx="492.5" cy="129.3" r="1.6"/>
<circle class="f" cx="535.2" cy="238.3" r="1.6"/>
<circle class="f" cx="538.3" cy="228.1" r="1.6"/>
<circle class="n" cx="506.6" cy="152.3" r="1.6"/>
<circle class="k" cx="517.8" cy="172.2" r="1.6"/>
<circle class="n" cx="506.7" cy="160.8" r="1.6"/>
<circle class="g" cx="485.5" cy="212.6" r="1.6"/>
<circle class="f" cx="538.4" cy="230.1" r="1.6"/>
<circle class="n" cx="532.7" cy="164.2" r="1.6"/>
<circle class="f" cx="530.7" cy="198.1" r="1.6"/>
<circle class="f" cx="496.3" cy="190.5" r="1.6"/>
<circle class="g" cx="489.8" cy="186.8" r="1.6"/>
<circle class="f" cx="513.9" cy="209.4" r="1.6"/>
<circle class="g" cx="512.5" cy="188.2" r="1.6"/>
<circle class="g" cx="514.9" cy="209.0" r="1.6"/>
<circle class="k" cx="492.5" cy="217.4" r="1.6"/>
<circle class="n" cx="467.2" cy="119.9" r="1.6"/>
<circle class="f" cx="522.1" cy="204.0" r="1.6"/>
<circle class="n" cx="476.3" cy="147.0" r="1.6"/>
<circle class="n" cx="505.0" cy="131.2" r="1.6"/>
<circle class="g" cx="521.8" cy="163.0" r="1.6"/>
<circle class="g" cx="478.4" cy="194.5" r="1.6"/>
<circle class="n" cx="503.7" cy="168.2" r="1.6"/>
<circle class="f" cx="562.0" cy="228.5" r="1.6"/>
<circle class="g" cx="436.4" cy="186.4" r="1.6"/>
<circle class="g" cx="448.6" cy="216.3" r="1.6"/>
<circle class="n" cx="494.6" cy="111.6" r="1.6"/>
<circle class="f" cx="552.3" cy="199.0" r="1.6"/>
<circle class="g" cx="475.9" cy="205.1" r="1.6"/>
<circle class="n" cx="523.8" cy="149.4" r="1.6"/>
<circle class="g" cx="490.7" cy="157.1" r="1.6"/>
<circle class="f" cx="491.6" cy="209.2" r="1.6"/>
<circle class="n" cx="520.2" cy="87.0" r="1.6"/>
<circle class="g" cx="505.8" cy="226.1" r="1.6"/>
<circle class="k" cx="511.7" cy="234.2" r="1.6"/>
<circle class="k" cx="505.4" cy="199.6" r="1.6"/>
<circle class="k" cx="521.6" cy="213.2" r="1.6"/>
<circle class="g" cx="473.2" cy="213.9" r="1.6"/>
<circle class="k" cx="537.4" cy="157.4" r="1.6"/>
<circle class="n" cx="521.1" cy="127.8" r="1.6"/>
<circle class="g" cx="451.2" cy="130.7" r="1.6"/>
<circle class="g" cx="450.2" cy="218.5" r="1.6"/>
<circle class="g" cx="537.5" cy="185.3" r="1.6"/>
<circle class="g" cx="483.1" cy="189.4" r="1.6"/>
<circle class="k" cx="491.6" cy="218.5" r="1.6"/>
<circle class="n" cx="529.4" cy="144.2" r="1.6"/>
<circle class="g" cx="484.6" cy="210.5" r="1.6"/>
<circle class="n" cx="492.8" cy="165.6" r="1.6"/>
<circle class="k" cx="500.7" cy="145.9" r="1.6"/>
<circle class="n" cx="503.9" cy="143.7" r="1.6"/>
<circle class="k" cx="475.0" cy="189.2" r="1.6"/>
<circle class="f" cx="506.1" cy="187.0" r="1.6"/>
<circle class="g" cx="490.2" cy="223.2" r="1.6"/>
<circle class="k" cx="504.1" cy="200.6" r="1.6"/>
<circle class="f" cx="464.5" cy="102.2" r="1.6"/>
<circle class="f" cx="517.9" cy="145.8" r="1.6"/>
<circle class="n" cx="517.7" cy="148.5" r="1.6"/>
<circle class="f" cx="524.1" cy="152.7" r="1.6"/>
<circle class="g" cx="496.6" cy="200.3" r="1.6"/>
<circle class="k" cx="525.3" cy="239.8" r="1.6"/>
<circle class="k" cx="486.1" cy="167.4" r="1.6"/>
<circle class="n" cx="502.9" cy="128.5" r="1.6"/>
<circle class="k" cx="514.0" cy="163.4" r="1.6"/>
<circle class="f" cx="540.6" cy="180.2" r="1.6"/>
<circle class="g" cx="529.5" cy="181.1" r="1.6"/>
<circle class="f" cx="546.6" cy="196.0" r="1.6"/>
<circle class="g" cx="502.5" cy="153.9" r="1.6"/>
<circle class="g" cx="509.2" cy="183.7" r="1.6"/>
<circle class="f" cx="506.9" cy="106.5" r="1.6"/>
<circle class="f" cx="524.5" cy="238.7" r="1.6"/>
<circle class="g" cx="501.0" cy="225.3" r="1.6"/>
<circle class="f" cx="547.8" cy="219.0" r="1.6"/>
<circle class="k" cx="534.3" cy="194.5" r="1.6"/>
<circle class="g" cx="495.1" cy="191.1" r="1.6"/>
<circle class="k" cx="536.4" cy="213.6" r="1.6"/>
<circle class="g" cx="517.5" cy="184.0" r="1.6"/>
<circle class="k" cx="539.5" cy="179.4" r="1.6"/>
<circle class="g" cx="487.3" cy="179.9" r="1.6"/>
<circle class="f" cx="489.4" cy="100.0" r="1.6"/>
<circle class="f" cx="491.6" cy="228.3" r="1.6"/>
<circle class="k" cx="519.3" cy="213.8" r="1.6"/>
<circle class="g" cx="487.3" cy="209.8" r="1.6"/>
<circle class="f" cx="487.8" cy="215.8" r="1.6"/>
<circle class="g" cx="499.5" cy="230.2" r="1.6"/>
<circle class="k" cx="539.2" cy="193.5" r="1.6"/>
<circle class="g" cx="513.7" cy="184.5" r="1.6"/>
<circle class="f" cx="504.9" cy="172.2" r="1.6"/>
<circle class="k" cx="487.7" cy="191.1" r="1.6"/>
<circle class="f" cx="500.0" cy="195.5" r="1.6"/>
<circle class="f" cx="522.5" cy="232.5" r="1.6"/>
<circle class="f" cx="499.3" cy="196.9" r="1.6"/>
<circle class="g" cx="479.9" cy="212.2" r="1.6"/>
<circle class="k" cx="536.3" cy="209.1" r="1.6"/>
<circle class="g" cx="476.7" cy="234.6" r="1.6"/>
<circle class="g" cx="508.5" cy="189.7" r="1.6"/>
<circle class="k" cx="473.6" cy="212.6" r="1.6"/>
<circle class="n" cx="536.9" cy="136.3" r="1.6"/>
<circle class="f" cx="520.7" cy="179.6" r="1.6"/>
<circle class="n" cx="495.3" cy="148.8" r="1.6"/>
<circle class="g" cx="526.9" cy="187.6" r="1.6"/>
<circle class="g" cx="485.8" cy="186.2" r="1.6"/>
<circle class="k" cx="521.5" cy="236.8" r="1.6"/>
<circle class="k" cx="531.1" cy="218.3" r="1.6"/>
<circle class="k" cx="591.5" cy="155.6" r="1.6"/>
<circle class="f" cx="513.3" cy="188.6" r="1.6"/>
<circle class="g" cx="479.2" cy="195.1" r="1.6"/>
<circle class="f" cx="471.6" cy="191.9" r="1.6"/>
<circle class="g" cx="417.1" cy="273.6" r="1.6"/>
<circle class="n" cx="502.2" cy="137.5" r="1.6"/>
<circle class="g" cx="483.0" cy="229.0" r="1.6"/>
<circle class="n" cx="526.8" cy="175.3" r="1.6"/>
<circle class="g" cx="501.0" cy="151.6" r="1.6"/>
<circle class="g" cx="508.1" cy="169.3" r="1.6"/>
<circle class="n" cx="544.5" cy="149.6" r="1.6"/>
<circle class="k" cx="509.5" cy="146.5" r="1.6"/>
<circle class="f" cx="525.6" cy="193.9" r="1.6"/>
<circle class="f" cx="502.5" cy="196.1" r="1.6"/>
<circle class="k" cx="501.9" cy="224.9" r="1.6"/>
<circle class="k" cx="500.6" cy="218.0" r="1.6"/>
<circle class="f" cx="578.5" cy="190.0" r="1.6"/>
<circle class="f" cx="527.4" cy="230.2" r="1.6"/>
<circle class="f" cx="485.9" cy="216.5" r="1.6"/>
<circle class="k" cx="512.2" cy="189.7" r="1.6"/>
<circle class="g" cx="526.8" cy="200.2" r="1.6"/>
<circle class="f" cx="547.3" cy="216.1" r="1.6"/>
<circle class="g" cx="505.7" cy="157.7" r="1.6"/>
<circle class="g" cx="471.3" cy="187.0" r="1.6"/>
<circle class="f" cx="526.2" cy="166.2" r="1.6"/>
<circle class="k" cx="514.5" cy="168.9" r="1.6"/>
<circle class="g" cx="511.1" cy="168.8" r="1.6"/>
<circle class="n" cx="506.8" cy="76.2" r="1.6"/>
<circle class="k" cx="543.7" cy="209.0" r="1.6"/>
<circle class="f" cx="527.3" cy="175.9" r="1.6"/>
<circle class="f" cx="540.4" cy="204.7" r="1.6"/>
<circle class="k" cx="523.9" cy="200.9" r="1.6"/>
<circle class="k" cx="506.0" cy="217.4" r="1.6"/>
<circle class="g" cx="436.4" cy="180.8" r="1.6"/>
<circle class="k" cx="506.2" cy="165.8" r="1.6"/>
<circle class="n" cx="513.2" cy="131.4" r="1.6"/>
<circle class="g" cx="489.2" cy="169.3" r="1.6"/>
<circle class="k" cx="508.4" cy="199.2" r="1.6"/>
<circle class="k" cx="494.8" cy="204.2" r="1.6"/>
<circle class="k" cx="522.5" cy="168.6" r="1.6"/>
<circle class="n" cx="514.5" cy="125.9" r="1.6"/>
<circle class="f" cx="526.5" cy="217.3" r="1.6"/>
<circle class="k" cx="513.1" cy="195.8" r="1.6"/>
<circle class="k" cx="510.0" cy="190.3" r="1.6"/>
<circle class="k" cx="545.3" cy="199.3" r="1.6"/>
<circle class="g" cx="472.1" cy="185.0" r="1.6"/>
<circle class="k" cx="517.4" cy="229.0" r="1.6"/>
<circle class="g" cx="529.6" cy="175.6" r="1.6"/>
<circle class="f" cx="548.8" cy="204.1" r="1.6"/>
<circle class="n" cx="504.2" cy="174.0" r="1.6"/>
<circle class="k" cx="518.7" cy="211.5" r="1.6"/>
<circle class="k" cx="520.9" cy="206.1" r="1.6"/>
<circle class="f" cx="527.2" cy="178.5" r="1.6"/>
<circle class="k" cx="521.4" cy="187.7" r="1.6"/>
<circle class="k" cx="516.5" cy="192.6" r="1.6"/>
<circle class="k" cx="516.3" cy="165.2" r="1.6"/>
<circle class="k" cx="492.2" cy="200.1" r="1.6"/>
<circle class="f" cx="519.2" cy="203.1" r="1.6"/>
<circle class="n" cx="494.2" cy="165.0" r="1.6"/>
<circle class="n" cx="477.8" cy="149.8" r="1.6"/>
<circle class="k" cx="522.2" cy="196.4" r="1.6"/>
<circle class="k" cx="546.3" cy="167.3" r="1.6"/>
<circle class="f" cx="527.9" cy="193.6" r="1.6"/>
<circle class="f" cx="525.7" cy="248.0" r="1.6"/>
<circle class="n" cx="491.2" cy="140.7" r="1.6"/>
<circle class="k" cx="499.2" cy="225.3" r="1.6"/>
<circle class="f" cx="519.2" cy="186.5" r="1.6"/>
<circle class="f" cx="470.1" cy="183.3" r="1.6"/>
<circle class="f" cx="508.6" cy="199.1" r="1.6"/>
<circle class="f" cx="525.2" cy="206.0" r="1.6"/>
<circle class="g" cx="476.9" cy="186.7" r="1.6"/>
<circle class="f" cx="482.1" cy="218.2" r="1.6"/>
<circle class="k" cx="517.3" cy="215.2" r="1.6"/>
<circle class="n" cx="518.8" cy="141.8" r="1.6"/>
<circle class="g" cx="482.3" cy="184.0" r="1.6"/>
<circle class="n" cx="475.6" cy="163.8" r="1.6"/>
<circle class="f" cx="543.9" cy="245.6" r="1.6"/>
<circle class="f" cx="502.2" cy="229.0" r="1.6"/>
<circle class="g" cx="490.2" cy="202.2" r="1.6"/>
<circle class="k" cx="537.5" cy="220.7" r="1.6"/>
<circle class="n" cx="509.8" cy="126.7" r="1.6"/>
<circle class="k" cx="501.6" cy="180.2" r="1.6"/>
<circle class="n" cx="530.5" cy="158.2" r="1.6"/>
<circle class="n" cx="470.6" cy="130.4" r="1.6"/>
<circle class="k" cx="492.6" cy="233.7" r="1.6"/>
<circle class="g" cx="469.1" cy="170.4" r="1.6"/>
<path d="M472.9,149.9 L473.0,152.4 L473.3,154.8 L473.7,157.2 L474.2,159.6 L474.7,162.0 L475.4,164.3 L476.1,166.6 L477.0,168.8 L477.9,171.0 L479.0,173.1 L480.1,175.2 L481.3,177.2 L482.6,179.1 L483.9,180.9 L485.4,182.6 L486.8,184.2 L488.4,185.7 L490.0,187.2 L491.7,188.5 L493.4,189.7 L495.2,190.8 L497.0,191.7 L498.8,192.6 L500.7,193.3 L502.6,193.9 L504.5,194.4 L506.4,194.8 L508.4,195.0 L510.3,195.1 L512.3,195.1 L514.2,194.9 L516.1,194.6 L518.1,194.2 L519.9,193.7 L521.8,193.0 L523.6,192.2 L525.4,191.3 L527.2,190.3 L528.9,189.1 L530.5,187.9 L532.1,186.5 L533.7,185.0 L535.1,183.5 L536.5,181.8 L537.9,180.0 L539.1,178.2 L540.3,176.3 L541.4,174.3 L542.4,172.2 L543.3,170.0 L544.1,167.8 L544.8,165.6 L545.5,163.3 L546.0,160.9 L546.5,158.5 L546.8,156.1 L547.0,153.7 L547.2,151.2 L547.2,148.8 L547.1,146.3 L547.0,143.8 L546.7,141.4 L546.3,139.0 L545.8,136.6 L545.3,134.2 L544.6,131.9 L543.9,129.6 L543.0,127.4 L542.1,125.2 L541.0,123.1 L539.9,121.0 L538.7,119.0 L537.4,117.1 L536.1,115.3 L534.6,113.6 L533.2,112.0 L531.6,110.5 L530.0,109.0 L528.3,107.7 L526.6,106.5 L524.8,105.4 L523.0,104.5 L521.2,103.6 L519.3,102.9 L517.4,102.3 L515.5,101.8 L513.6,101.4 L511.6,101.2 L509.7,101.1 L507.7,101.1 L505.8,101.3 L503.9,101.6 L501.9,102.0 L500.1,102.5 L498.2,103.2 L496.4,104.0 L494.6,104.9 L492.8,105.9 L491.1,107.1 L489.5,108.3 L487.9,109.7 L486.3,111.2 L484.9,112.7 L483.5,114.4 L482.1,116.2 L480.9,118.0 L479.7,119.9 L478.6,121.9 L477.6,124.0 L476.7,126.2 L475.9,128.4 L475.2,130.6 L474.5,132.9 L474.0,135.3 L473.5,137.7 L473.2,140.1 L473.0,142.5 L472.8,145.0 L472.8,147.4Z" fill="#6188AF" fill-opacity="0.09" stroke="#6188AF" stroke-width="1.75"/>
<path d="M449.4,183.9 L448.6,187.1 L447.9,190.2 L447.3,193.4 L446.9,196.6 L446.5,199.8 L446.4,203.0 L446.3,206.1 L446.4,209.3 L446.6,212.4 L446.9,215.4 L447.4,218.4 L448.0,221.4 L448.8,224.3 L449.6,227.1 L450.6,229.8 L451.7,232.5 L452.9,235.0 L454.3,237.4 L455.7,239.8 L457.3,242.0 L458.9,244.1 L460.7,246.0 L462.5,247.8 L464.5,249.5 L466.5,251.1 L468.6,252.5 L470.8,253.7 L473.0,254.8 L475.3,255.7 L477.7,256.5 L480.1,257.1 L482.5,257.5 L485.0,257.8 L487.5,257.9 L490.0,257.8 L492.5,257.6 L495.1,257.2 L497.6,256.7 L500.1,255.9 L502.7,255.0 L505.1,254.0 L507.6,252.8 L510.0,251.4 L512.4,249.9 L514.8,248.3 L517.1,246.5 L519.3,244.6 L521.4,242.5 L523.5,240.4 L525.5,238.1 L527.5,235.6 L529.3,233.1 L531.0,230.5 L532.7,227.8 L534.2,225.0 L535.6,222.1 L536.9,219.2 L538.1,216.2 L539.2,213.2 L540.2,210.1 L541.0,206.9 L541.7,203.8 L542.3,200.6 L542.7,197.4 L543.1,194.2 L543.2,191.0 L543.3,187.9 L543.2,184.7 L543.0,181.6 L542.7,178.6 L542.2,175.6 L541.6,172.6 L540.8,169.7 L540.0,166.9 L539.0,164.2 L537.9,161.5 L536.7,159.0 L535.3,156.6 L533.9,154.2 L532.3,152.0 L530.7,149.9 L528.9,148.0 L527.1,146.2 L525.1,144.5 L523.1,142.9 L521.0,141.5 L518.8,140.3 L516.6,139.2 L514.3,138.3 L511.9,137.5 L509.5,136.9 L507.1,136.5 L504.6,136.2 L502.1,136.1 L499.6,136.2 L497.1,136.4 L494.5,136.8 L492.0,137.3 L489.5,138.1 L486.9,139.0 L484.5,140.0 L482.0,141.2 L479.6,142.6 L477.2,144.1 L474.8,145.7 L472.5,147.5 L470.3,149.4 L468.2,151.5 L466.1,153.6 L464.1,155.9 L462.1,158.4 L460.3,160.9 L458.6,163.5 L456.9,166.2 L455.4,169.0 L454.0,171.9 L452.7,174.8 L451.5,177.8 L450.4,180.8Z" fill="#47A698" fill-opacity="0.09" stroke="#47A698" stroke-width="1.75"/>
<path d="M470.3,208.3 L470.8,211.3 L471.4,214.3 L472.2,217.3 L473.0,220.2 L474.0,223.1 L475.1,225.9 L476.3,228.6 L477.6,231.3 L479.0,233.9 L480.6,236.4 L482.2,238.8 L483.9,241.2 L485.7,243.4 L487.6,245.5 L489.6,247.4 L491.6,249.3 L493.7,251.0 L495.9,252.6 L498.1,254.0 L500.4,255.3 L502.7,256.5 L505.1,257.5 L507.5,258.3 L509.9,259.0 L512.4,259.5 L514.8,259.9 L517.2,260.1 L519.7,260.2 L522.1,260.1 L524.6,259.8 L527.0,259.4 L529.3,258.8 L531.7,258.1 L534.0,257.2 L536.2,256.2 L538.4,255.0 L540.5,253.7 L542.6,252.2 L544.6,250.6 L546.5,248.8 L548.3,246.9 L550.1,244.9 L551.7,242.8 L553.3,240.6 L554.8,238.3 L556.1,235.8 L557.3,233.3 L558.5,230.7 L559.5,228.0 L560.4,225.2 L561.2,222.4 L561.8,219.5 L562.3,216.6 L562.7,213.6 L563.0,210.6 L563.2,207.5 L563.2,204.5 L563.1,201.4 L562.8,198.4 L562.5,195.3 L562.0,192.3 L561.4,189.3 L560.6,186.3 L559.8,183.4 L558.8,180.5 L557.7,177.7 L556.5,175.0 L555.2,172.3 L553.8,169.7 L552.2,167.2 L550.6,164.8 L548.9,162.4 L547.1,160.2 L545.2,158.1 L543.2,156.2 L541.2,154.3 L539.1,152.6 L536.9,151.0 L534.7,149.6 L532.4,148.3 L530.1,147.1 L527.7,146.1 L525.3,145.3 L522.9,144.6 L520.4,144.1 L518.0,143.7 L515.6,143.5 L513.1,143.4 L510.7,143.5 L508.2,143.8 L505.8,144.2 L503.5,144.8 L501.1,145.5 L498.8,146.4 L496.6,147.4 L494.4,148.6 L492.3,149.9 L490.2,151.4 L488.2,153.0 L486.3,154.8 L484.5,156.7 L482.7,158.7 L481.1,160.8 L479.5,163.0 L478.0,165.3 L476.7,167.8 L475.5,170.3 L474.3,172.9 L473.3,175.6 L472.4,178.4 L471.6,181.2 L471.0,184.1 L470.5,187.0 L470.1,190.0 L469.8,193.0 L469.6,196.1 L469.6,199.1 L469.7,202.2 L470.0,205.2Z" fill="#E8A457" fill-opacity="0.09" stroke="#E8A457" stroke-width="1.75"/>
<path d="M480.3,230.4 L482.1,233.1 L484.1,235.8 L486.1,238.3 L488.2,240.8 L490.4,243.1 L492.7,245.3 L495.1,247.5 L497.5,249.5 L500.0,251.4 L502.6,253.1 L505.2,254.8 L507.8,256.2 L510.5,257.6 L513.2,258.8 L516.0,259.8 L518.7,260.7 L521.4,261.5 L524.2,262.1 L526.9,262.5 L529.6,262.8 L532.3,262.9 L535.0,262.8 L537.6,262.6 L540.2,262.3 L542.7,261.8 L545.2,261.1 L547.6,260.2 L549.9,259.2 L552.1,258.1 L554.3,256.8 L556.3,255.4 L558.3,253.8 L560.1,252.1 L561.9,250.3 L563.5,248.3 L565.0,246.2 L566.4,244.0 L567.7,241.7 L568.8,239.3 L569.8,236.8 L570.7,234.2 L571.4,231.6 L572.0,228.8 L572.5,226.0 L572.8,223.1 L573.0,220.2 L573.0,217.3 L572.9,214.3 L572.6,211.2 L572.2,208.2 L571.6,205.1 L571.0,202.1 L570.1,199.0 L569.2,196.0 L568.1,193.0 L566.8,190.0 L565.5,187.1 L564.0,184.2 L562.4,181.3 L560.7,178.6 L558.9,175.9 L556.9,173.2 L554.9,170.7 L552.8,168.2 L550.6,165.9 L548.3,163.7 L545.9,161.5 L543.5,159.5 L541.0,157.6 L538.4,155.9 L535.8,154.2 L533.2,152.8 L530.5,151.4 L527.8,150.2 L525.0,149.2 L522.3,148.3 L519.6,147.5 L516.8,146.9 L514.1,146.5 L511.4,146.2 L508.7,146.1 L506.0,146.2 L503.4,146.4 L500.8,146.7 L498.3,147.2 L495.8,147.9 L493.4,148.8 L491.1,149.8 L488.9,150.9 L486.7,152.2 L484.7,153.6 L482.7,155.2 L480.9,156.9 L479.1,158.7 L477.5,160.7 L476.0,162.8 L474.6,165.0 L473.3,167.3 L472.2,169.7 L471.2,172.2 L470.3,174.8 L469.6,177.4 L469.0,180.2 L468.5,183.0 L468.2,185.9 L468.0,188.8 L468.0,191.7 L468.1,194.7 L468.4,197.8 L468.8,200.8 L469.4,203.9 L470.0,206.9 L470.9,210.0 L471.8,213.0 L472.9,216.0 L474.2,219.0 L475.5,221.9 L477.0,224.8 L478.6,227.7Z" fill="#E55C62" fill-opacity="0.09" stroke="#E55C62" stroke-width="1.75"/>
<circle class="g" cx="155.7" cy="510.4" r="1.6"/>
<circle class="f" cx="166.3" cy="598.1" r="1.6"/>
<circle class="g" cx="191.2" cy="565.3" r="1.6"/>
<circle class="f" cx="202.7" cy="607.4" r="1.6"/>
<circle class="k" cx="117.4" cy="444.2" r="1.6"/>
<circle class="f" cx="176.9" cy="614.8" r="1.6"/>
<circle class="n" cx="184.6" cy="531.5" r="1.6"/>
<circle class="g" cx="154.1" cy="577.5" r="1.6"/>
<circle class="k" cx="144.8" cy="511.0" r="1.6"/>
<circle class="f" cx="148.5" cy="585.0" r="1.6"/>
<circle class="f" cx="122.8" cy="607.9" r="1.6"/>
<circle class="f" cx="123.4" cy="588.2" r="1.6"/>
<circle class="k" cx="206.3" cy="545.2" r="1.6"/>
<circle class="k" cx="108.4" cy="490.4" r="1.6"/>
<circle class="f" cx="115.9" cy="598.3" r="1.6"/>
<circle class="k" cx="176.5" cy="510.7" r="1.6"/>
<circle class="k" cx="113.5" cy="453.9" r="1.6"/>
<circle class="f" cx="154.0" cy="592.4" r="1.6"/>
<circle class="f" cx="215.3" cy="587.2" r="1.6"/>
<circle class="f" cx="141.4" cy="631.7" r="1.6"/>
<circle class="g" cx="165.8" cy="555.4" r="1.6"/>
<circle class="g" cx="129.6" cy="557.1" r="1.6"/>
<circle class="g" cx="184.5" cy="494.5" r="1.6"/>
<circle class="k" cx="171.6" cy="504.4" r="1.6"/>
<circle class="g" cx="118.4" cy="516.3" r="1.6"/>
<circle class="g" cx="217.8" cy="593.3" r="1.6"/>
<circle class="f" cx="148.6" cy="593.0" r="1.6"/>
<circle class="k" cx="161.8" cy="477.6" r="1.6"/>
<circle class="n" cx="160.7" cy="545.8" r="1.6"/>
<circle class="f" cx="168.4" cy="594.9" r="1.6"/>
<circle class="f" cx="71.1" cy="632.6" r="1.6"/>
<circle class="f" cx="125.4" cy="614.5" r="1.6"/>
<circle class="f" cx="110.6" cy="624.7" r="1.6"/>
<circle class="n" cx="195.5" cy="531.1" r="1.6"/>
<circle class="k" cx="180.1" cy="489.7" r="1.6"/>
<circle class="k" cx="171.1" cy="519.5" r="1.6"/>
<circle class="k" cx="205.9" cy="497.4" r="1.6"/>
<circle class="f" cx="139.3" cy="604.9" r="1.6"/>
<circle class="g" cx="147.5" cy="520.1" r="1.6"/>
<circle class="f" cx="76.6" cy="619.3" r="1.6"/>
<circle class="n" cx="206.8" cy="524.5" r="1.6"/>
<circle class="k" cx="151.5" cy="477.7" r="1.6"/>
<circle class="g" cx="143.2" cy="523.6" r="1.6"/>
<circle class="k" cx="96.2" cy="477.4" r="1.6"/>
<circle class="g" cx="195.9" cy="557.1" r="1.6"/>
<circle class="k" cx="149.9" cy="508.0" r="1.6"/>
<circle class="n" cx="216.0" cy="562.7" r="1.6"/>
<circle class="f" cx="147.4" cy="574.2" r="1.6"/>
<circle class="g" cx="197.8" cy="567.3" r="1.6"/>
<circle class="k" cx="169.2" cy="486.0" r="1.6"/>
<circle class="n" cx="175.8" cy="534.9" r="1.6"/>
<circle class="n" cx="182.5" cy="534.1" r="1.6"/>
<circle class="g" cx="71.1" cy="549.9" r="1.6"/>
<circle class="g" cx="181.7" cy="497.4" r="1.6"/>
<circle class="k" cx="101.2" cy="491.3" r="1.6"/>
<circle class="n" cx="197.4" cy="555.9" r="1.6"/>
<circle class="k" cx="138.3" cy="482.7" r="1.6"/>
<circle class="k" cx="146.9" cy="479.6" r="1.6"/>
<circle class="g" cx="163.9" cy="530.6" r="1.6"/>
<circle class="n" cx="224.6" cy="563.2" r="1.6"/>
<circle class="f" cx="139.2" cy="595.0" r="1.6"/>
<circle class="k" cx="168.9" cy="497.3" r="1.6"/>
<circle class="g" cx="163.7" cy="502.0" r="1.6"/>
<circle class="k" cx="148.9" cy="458.4" r="1.6"/>
<circle class="g" cx="235.4" cy="470.9" r="1.6"/>
<circle class="k" cx="109.2" cy="477.2" r="1.6"/>
<circle class="k" cx="145.2" cy="507.4" r="1.6"/>
<circle class="k" cx="166.7" cy="496.1" r="1.6"/>
<circle class="f" cx="161.4" cy="627.6" r="1.6"/>
<circle class="k" cx="164.7" cy="501.1" r="1.6"/>
<circle class="k" cx="148.5" cy="534.0" r="1.6"/>
<circle class="g" cx="110.7" cy="588.6" r="1.6"/>
<circle class="g" cx="160.5" cy="552.3" r="1.6"/>
<circle class="g" cx="47.2" cy="561.6" r="1.6"/>
<circle class="g" cx="127.0" cy="557.8" r="1.6"/>
<circle class="k" cx="153.0" cy="489.9" r="1.6"/>
<circle class="g" cx="151.0" cy="537.8" r="1.6"/>
<circle class="n" cx="239.9" cy="511.3" r="1.6"/>
<circle class="g" cx="154.4" cy="434.3" r="1.6"/>
<circle class="g" cx="155.5" cy="531.4" r="1.6"/>
<circle class="f" cx="197.6" cy="579.0" r="1.6"/>
<circle class="f" cx="145.9" cy="622.4" r="1.6"/>
<circle class="f" cx="154.4" cy="614.4" r="1.6"/>
<circle class="f" cx="139.6" cy="608.7" r="1.6"/>
<circle class="g" cx="138.5" cy="540.6" r="1.6"/>
<circle class="n" cx="183.5" cy="564.2" r="1.6"/>
<circle class="k" cx="169.5" cy="540.4" r="1.6"/>
<circle class="k" cx="128.2" cy="516.4" r="1.6"/>
<circle class="k" cx="179.3" cy="499.2" r="1.6"/>
<circle class="k" cx="107.0" cy="510.8" r="1.6"/>
<circle class="n" cx="217.2" cy="538.3" r="1.6"/>
<circle class="g" cx="98.6" cy="556.0" r="1.6"/>
<circle class="n" cx="210.6" cy="539.9" r="1.6"/>
<circle class="f" cx="98.8" cy="608.0" r="1.6"/>
<circle class="g" cx="155.9" cy="542.1" r="1.6"/>
<circle class="f" cx="160.7" cy="604.1" r="1.6"/>
<circle class="n" cx="221.9" cy="523.0" r="1.6"/>
<circle class="k" cx="134.9" cy="526.3" r="1.6"/>
<circle class="g" cx="166.4" cy="566.7" r="1.6"/>
<circle class="g" cx="128.8" cy="575.9" r="1.6"/>
<circle class="k" cx="157.9" cy="482.0" r="1.6"/>
<circle class="k" cx="132.0" cy="486.2" r="1.6"/>
<circle class="g" cx="168.2" cy="602.0" r="1.6"/>
<circle class="g" cx="146.2" cy="503.5" r="1.6"/>
<circle class="g" cx="154.0" cy="525.1" r="1.6"/>
<circle class="n" cx="213.8" cy="544.5" r="1.6"/>
<circle class="g" cx="136.7" cy="585.6" r="1.6"/>
<circle class="g" cx="167.2" cy="543.6" r="1.6"/>
<circle class="f" cx="160.7" cy="604.8" r="1.6"/>
<circle class="f" cx="138.2" cy="590.7" r="1.6"/>
<circle class="g" cx="149.7" cy="545.8" r="1.6"/>
<circle class="n" cx="252.8" cy="524.0" r="1.6"/>
<circle class="f" cx="155.5" cy="616.0" r="1.6"/>
<circle class="f" cx="136.8" cy="593.8" r="1.6"/>
<circle class="n" cx="201.8" cy="566.5" r="1.6"/>
<circle class="g" cx="117.2" cy="512.9" r="1.6"/>
<circle class="k" cx="209.0" cy="522.2" r="1.6"/>
<circle class="g" cx="148.4" cy="476.6" r="1.6"/>
<circle class="g" cx="188.1" cy="506.0" r="1.6"/>
<circle class="g" cx="185.9" cy="508.8" r="1.6"/>
<circle class="k" cx="135.4" cy="503.6" r="1.6"/>
<circle class="g" cx="159.8" cy="581.3" r="1.6"/>
<circle class="k" cx="146.9" cy="480.9" r="1.6"/>
<circle class="f" cx="127.1" cy="621.9" r="1.6"/>
<circle class="n" cx="214.3" cy="551.5" r="1.6"/>
<circle class="n" cx="235.3" cy="536.2" r="1.6"/>
<circle class="g" cx="179.7" cy="509.6" r="1.6"/>
<circle class="f" cx="168.2" cy="617.1" r="1.6"/>
<circle class="g" cx="102.5" cy="495.3" r="1.6"/>
<circle class="g" cx="131.2" cy="586.3" r="1.6"/>
<circle class="f" cx="130.7" cy="598.5" r="1.6"/>
<circle class="f" cx="137.5" cy="593.9" r="1.6"/>
<circle class="g" cx="184.7" cy="475.0" r="1.6"/>
<circle class="k" cx="114.3" cy="484.5" r="1.6"/>
<circle class="g" cx="134.9" cy="529.0" r="1.6"/>
<circle class="k" cx="142.1" cy="522.5" r="1.6"/>
<circle class="n" cx="224.8" cy="551.3" r="1.6"/>
<circle class="n" cx="209.9" cy="524.1" r="1.6"/>
<circle class="g" cx="152.7" cy="549.4" r="1.6"/>
<circle class="k" cx="145.2" cy="460.9" r="1.6"/>
<circle class="f" cx="117.7" cy="583.1" r="1.6"/>
<circle class="g" cx="160.2" cy="562.1" r="1.6"/>
<circle class="g" cx="174.1" cy="572.9" r="1.6"/>
<circle class="k" cx="177.3" cy="514.5" r="1.6"/>
<circle class="k" cx="120.4" cy="473.9" r="1.6"/>
<circle class="k" cx="134.5" cy="475.1" r="1.6"/>
<circle class="g" cx="140.0" cy="586.8" r="1.6"/>
<circle class="g" cx="162.0" cy="518.6" r="1.6"/>
<circle class="g" cx="139.4" cy="529.1" r="1.6"/>
<circle class="g" cx="114.4" cy="532.0" r="1.6"/>
<circle class="f" cx="165.2" cy="590.5" r="1.6"/>
<circle class="f" cx="160.2" cy="617.4" r="1.6"/>
<circle class="n" cx="212.5" cy="525.3" r="1.6"/>
<circle class="n" cx="188.0" cy="514.0" r="1.6"/>
<circle class="f" cx="103.7" cy="603.8" r="1.6"/>
<circle class="n" cx="211.1" cy="500.9" r="1.6"/>
<circle class="k" cx="147.7" cy="461.9" r="1.6"/>
<circle class="g" cx="196.7" cy="542.6" r="1.6"/>
<circle class="f" cx="166.6" cy="588.1" r="1.6"/>
<circle class="g" cx="122.9" cy="538.8" r="1.6"/>
<circle class="g" cx="133.6" cy="542.7" r="1.6"/>
<circle class="n" cx="164.6" cy="516.8" r="1.6"/>
<circle class="g" cx="151.5" cy="589.4" r="1.6"/>
<circle class="k" cx="152.2" cy="492.6" r="1.6"/>
<circle class="f" cx="146.5" cy="580.9" r="1.6"/>
<circle class="g" cx="127.1" cy="505.6" r="1.6"/>
<circle class="g" cx="156.2" cy="522.4" r="1.6"/>
<circle class="k" cx="132.7" cy="475.9" r="1.6"/>
<circle class="n" cx="226.0" cy="549.6" r="1.6"/>
<circle class="g" cx="172.7" cy="594.9" r="1.6"/>
<circle class="n" cx="194.2" cy="504.6" r="1.6"/>
<circle class="g" cx="129.4" cy="535.5" r="1.6"/>
<circle class="g" cx="136.5" cy="577.6" r="1.6"/>
<circle class="f" cx="141.8" cy="580.5" r="1.6"/>
<circle class="f" cx="179.4" cy="579.9" r="1.6"/>
<circle class="g" cx="161.1" cy="471.9" r="1.6"/>
<circle class="k" cx="164.8" cy="476.6" r="1.6"/>
<circle class="k" cx="144.0" cy="496.0" r="1.6"/>
<circle class="g" cx="135.4" cy="572.8" r="1.6"/>
<circle class="g" cx="173.7" cy="549.9" r="1.6"/>
<circle class="g" cx="150.1" cy="538.7" r="1.6"/>
<circle class="g" cx="162.4" cy="538.8" r="1.6"/>
<circle class="f" cx="127.5" cy="611.6" r="1.6"/>
<circle class="k" cx="135.9" cy="484.3" r="1.6"/>
<circle class="g" cx="126.3" cy="564.9" r="1.6"/>
<circle class="g" cx="184.8" cy="548.0" r="1.6"/>
<circle class="n" cx="229.1" cy="561.2" r="1.6"/>
<circle class="g" cx="181.8" cy="522.1" r="1.6"/>
<circle class="k" cx="176.7" cy="511.0" r="1.6"/>
<circle class="k" cx="161.1" cy="535.0" r="1.6"/>
<circle class="f" cx="132.6" cy="603.0" r="1.6"/>
<circle class="n" cx="226.3" cy="542.4" r="1.6"/>
<circle class="g" cx="146.8" cy="556.3" r="1.6"/>
<circle class="k" cx="179.7" cy="547.1" r="1.6"/>
<circle class="g" cx="141.7" cy="558.1" r="1.6"/>
<circle class="f" cx="161.4" cy="613.6" r="1.6"/>
<circle class="g" cx="179.6" cy="544.3" r="1.6"/>
<circle class="g" cx="171.8" cy="512.6" r="1.6"/>
<circle class="k" cx="126.6" cy="521.7" r="1.6"/>
<circle class="f" cx="119.4" cy="585.4" r="1.6"/>
<circle class="k" cx="152.9" cy="498.3" r="1.6"/>
<circle class="n" cx="276.9" cy="568.5" r="1.6"/>
<circle class="g" cx="144.0" cy="553.0" r="1.6"/>
<circle class="k" cx="152.7" cy="491.7" r="1.6"/>
<circle class="n" cx="193.2" cy="544.2" r="1.6"/>
<circle class="f" cx="104.9" cy="646.5" r="1.6"/>
<circle class="f" cx="166.2" cy="617.3" r="1.6"/>
<circle class="n" cx="223.2" cy="516.9" r="1.6"/>
<circle class="n" cx="207.7" cy="495.3" r="1.6"/>
<circle class="k" cx="163.0" cy="499.3" r="1.6"/>
<circle class="g" cx="156.8" cy="542.3" r="1.6"/>
<circle class="n" cx="196.8" cy="516.2" r="1.6"/>
<circle class="n" cx="246.6" cy="526.2" r="1.6"/>
<circle class="n" cx="200.9" cy="522.6" r="1.6"/>
<circle class="g" cx="211.5" cy="570.3" r="1.6"/>
<circle class="n" cx="209.8" cy="575.8" r="1.6"/>
<circle class="n" cx="163.5" cy="541.9" r="1.6"/>
<circle class="f" cx="163.6" cy="588.5" r="1.6"/>
<circle class="g" cx="195.4" cy="586.4" r="1.6"/>
<circle class="n" cx="195.2" cy="548.0" r="1.6"/>
<circle class="k" cx="146.6" cy="502.7" r="1.6"/>
<circle class="n" cx="201.3" cy="513.2" r="1.6"/>
<circle class="k" cx="164.8" cy="506.1" r="1.6"/>
<circle class="f" cx="132.4" cy="635.5" r="1.6"/>
<circle class="k" cx="136.4" cy="467.9" r="1.6"/>
<circle class="f" cx="150.8" cy="635.2" r="1.6"/>
<circle class="n" cx="238.8" cy="548.3" r="1.6"/>
<circle class="f" cx="139.0" cy="630.0" r="1.6"/>
<circle class="n" cx="260.9" cy="580.7" r="1.6"/>
<circle class="g" cx="125.5" cy="574.7" r="1.6"/>
<circle class="g" cx="142.4" cy="517.8" r="1.6"/>
<circle class="g" cx="151.5" cy="598.4" r="1.6"/>
<circle class="k" cx="150.2" cy="541.1" r="1.6"/>
<circle class="g" cx="143.4" cy="525.6" r="1.6"/>
<circle class="g" cx="141.0" cy="566.1" r="1.6"/>
<circle class="k" cx="170.3" cy="517.4" r="1.6"/>
<circle class="g" cx="175.5" cy="527.7" r="1.6"/>
<circle class="g" cx="173.9" cy="590.8" r="1.6"/>
<circle class="n" cx="213.7" cy="547.2" r="1.6"/>
<circle class="g" cx="165.8" cy="515.6" r="1.6"/>
<circle class="g" cx="120.6" cy="535.0" r="1.6"/>
<circle class="f" cx="158.9" cy="600.3" r="1.6"/>
<circle class="f" cx="136.5" cy="639.4" r="1.6"/>
<circle class="g" cx="198.3" cy="553.5" r="1.6"/>
<circle class="k" cx="144.7" cy="482.3" r="1.6"/>
<circle class="f" cx="130.4" cy="628.1" r="1.6"/>
<circle class="g" cx="151.6" cy="522.1" r="1.6"/>
<circle class="g" cx="169.8" cy="520.1" r="1.6"/>
<circle class="g" cx="170.6" cy="508.5" r="1.6"/>
<circle class="k" cx="94.4" cy="472.9" r="1.6"/>
<circle class="k" cx="181.4" cy="507.7" r="1.6"/>
<circle class="n" cx="221.6" cy="571.0" r="1.6"/>
<circle class="f" cx="118.7" cy="599.9" r="1.6"/>
<circle class="g" cx="168.6" cy="517.3" r="1.6"/>
<circle class="k" cx="78.9" cy="460.1" r="1.6"/>
<circle class="f" cx="121.9" cy="616.0" r="1.6"/>
<circle class="f" cx="159.4" cy="599.2" r="1.6"/>
<circle class="n" cx="194.8" cy="532.6" r="1.6"/>
<circle class="k" cx="178.2" cy="507.6" r="1.6"/>
<circle class="g" cx="113.7" cy="476.6" r="1.6"/>
<circle class="k" cx="156.4" cy="556.8" r="1.6"/>
<circle class="k" cx="155.5" cy="475.1" r="1.6"/>
<circle class="k" cx="140.7" cy="472.0" r="1.6"/>
<circle class="k" cx="123.5" cy="530.0" r="1.6"/>
<circle class="n" cx="211.1" cy="547.7" r="1.6"/>
<circle class="f" cx="156.1" cy="605.2" r="1.6"/>
<circle class="g" cx="69.9" cy="477.6" r="1.6"/>
<circle class="k" cx="141.3" cy="507.2" r="1.6"/>
<circle class="g" cx="145.8" cy="585.5" r="1.6"/>
<circle class="f" cx="129.4" cy="619.1" r="1.6"/>
<circle class="n" cx="227.5" cy="601.8" r="1.6"/>
<circle class="f" cx="170.1" cy="614.6" r="1.6"/>
<circle class="k" cx="128.4" cy="499.8" r="1.6"/>
<circle class="n" cx="196.8" cy="557.7" r="1.6"/>
<circle class="g" cx="172.3" cy="553.9" r="1.6"/>
<circle class="k" cx="180.1" cy="517.2" r="1.6"/>
<circle class="k" cx="144.8" cy="507.9" r="1.6"/>
<circle class="n" cx="173.4" cy="553.4" r="1.6"/>
<circle class="f" cx="156.9" cy="586.1" r="1.6"/>
<circle class="n" cx="196.9" cy="519.7" r="1.6"/>
<circle class="f" cx="139.4" cy="632.4" r="1.6"/>
<circle class="g" cx="121.3" cy="484.5" r="1.6"/>
<circle class="f" cx="108.3" cy="617.1" r="1.6"/>
<circle class="g" cx="159.9" cy="506.5" r="1.6"/>
<circle class="g" cx="205.9" cy="557.8" r="1.6"/>
<circle class="n" cx="175.3" cy="533.3" r="1.6"/>
<circle class="n" cx="247.9" cy="573.3" r="1.6"/>
<circle class="g" cx="166.6" cy="542.3" r="1.6"/>
<circle class="g" cx="163.8" cy="558.0" r="1.6"/>
<circle class="k" cx="200.3" cy="496.0" r="1.6"/>
<circle class="f" cx="144.7" cy="622.8" r="1.6"/>
<circle class="g" cx="135.0" cy="536.7" r="1.6"/>
<circle class="f" cx="164.3" cy="603.5" r="1.6"/>
<circle class="g" cx="180.4" cy="480.8" r="1.6"/>
<circle class="n" cx="252.9" cy="507.5" r="1.6"/>
<circle class="n" cx="201.8" cy="540.7" r="1.6"/>
<circle class="n" cx="208.7" cy="515.7" r="1.6"/>
<circle class="g" cx="105.6" cy="587.8" r="1.6"/>
<circle class="f" cx="161.6" cy="610.5" r="1.6"/>
<circle class="f" cx="155.2" cy="605.8" r="1.6"/>
<circle class="f" cx="107.9" cy="620.3" r="1.6"/>
<circle class="n" cx="216.8" cy="545.5" r="1.6"/>
<circle class="k" cx="158.7" cy="513.6" r="1.6"/>
<circle class="g" cx="151.8" cy="568.0" r="1.6"/>
<circle class="g" cx="167.6" cy="583.2" r="1.6"/>
<circle class="g" cx="75.9" cy="592.6" r="1.6"/>
<circle class="k" cx="147.4" cy="478.2" r="1.6"/>
<circle class="f" cx="250.9" cy="577.7" r="1.6"/>
<circle class="f" cx="153.7" cy="594.9" r="1.6"/>
<circle class="g" cx="75.5" cy="577.7" r="1.6"/>
<circle class="g" cx="159.2" cy="531.0" r="1.6"/>
<circle class="g" cx="126.7" cy="488.6" r="1.6"/>
<circle class="g" cx="178.3" cy="523.8" r="1.6"/>
<circle class="g" cx="103.7" cy="568.6" r="1.6"/>
<circle class="n" cx="208.4" cy="559.5" r="1.6"/>
<circle class="f" cx="147.7" cy="548.4" r="1.6"/>
<circle class="n" cx="228.4" cy="511.9" r="1.6"/>
<circle class="f" cx="134.8" cy="609.9" r="1.6"/>
<circle class="n" cx="226.1" cy="560.8" r="1.6"/>
<circle class="g" cx="150.2" cy="530.9" r="1.6"/>
<circle class="f" cx="174.5" cy="597.2" r="1.6"/>
<circle class="f" cx="82.2" cy="652.6" r="1.6"/>
<circle class="f" cx="157.3" cy="589.9" r="1.6"/>
<circle class="g" cx="164.6" cy="505.4" r="1.6"/>
<circle class="g" cx="156.7" cy="534.1" r="1.6"/>
<circle class="n" cx="188.7" cy="514.5" r="1.6"/>
<circle class="f" cx="127.0" cy="593.5" r="1.6"/>
<circle class="g" cx="156.7" cy="522.8" r="1.6"/>
<circle class="g" cx="188.5" cy="549.3" r="1.6"/>
<circle class="n" cx="217.2" cy="554.6" r="1.6"/>
<circle class="f" cx="163.3" cy="587.7" r="1.6"/>
<circle class="f" cx="129.5" cy="631.0" r="1.6"/>
<circle class="f" cx="172.1" cy="581.0" r="1.6"/>
<circle class="k" cx="112.3" cy="469.7" r="1.6"/>
<circle class="g" cx="171.5" cy="541.2" r="1.6"/>
<circle class="g" cx="97.0" cy="527.4" r="1.6"/>
<circle class="n" cx="226.5" cy="546.0" r="1.6"/>
<circle class="k" cx="98.6" cy="474.1" r="1.6"/>
<circle class="f" cx="154.3" cy="604.7" r="1.6"/>
<circle class="k" cx="114.6" cy="479.4" r="1.6"/>
<circle class="k" cx="147.1" cy="479.2" r="1.6"/>
<circle class="g" cx="173.9" cy="524.7" r="1.6"/>
<circle class="f" cx="71.1" cy="611.8" r="1.6"/>
<circle class="k" cx="164.3" cy="536.5" r="1.6"/>
<circle class="f" cx="130.2" cy="572.9" r="1.6"/>
<circle class="k" cx="248.9" cy="551.7" r="1.6"/>
<circle class="g" cx="131.4" cy="511.5" r="1.6"/>
<circle class="g" cx="106.0" cy="559.1" r="1.6"/>
<circle class="f" cx="138.6" cy="585.9" r="1.6"/>
<circle class="f" cx="137.6" cy="606.1" r="1.6"/>
<circle class="g" cx="101.1" cy="485.4" r="1.6"/>
<circle class="k" cx="109.5" cy="479.4" r="1.6"/>
<circle class="n" cx="214.7" cy="531.9" r="1.6"/>
<circle class="g" cx="156.8" cy="530.1" r="1.6"/>
<circle class="k" cx="215.2" cy="542.6" r="1.6"/>
<circle class="f" cx="152.6" cy="605.2" r="1.6"/>
<circle class="n" cx="207.0" cy="544.4" r="1.6"/>
<circle class="g" cx="145.7" cy="503.4" r="1.6"/>
<circle class="k" cx="201.9" cy="507.2" r="1.6"/>
<circle class="f" cx="165.6" cy="597.0" r="1.6"/>
<circle class="f" cx="121.7" cy="613.6" r="1.6"/>
<circle class="f" cx="114.3" cy="639.4" r="1.6"/>
<circle class="k" cx="187.0" cy="543.0" r="1.6"/>
<circle class="k" cx="136.4" cy="465.3" r="1.6"/>
<circle class="n" cx="231.8" cy="526.9" r="1.6"/>
<circle class="f" cx="157.5" cy="580.8" r="1.6"/>
<circle class="g" cx="155.5" cy="565.8" r="1.6"/>
<circle class="g" cx="114.6" cy="547.0" r="1.6"/>
<circle class="f" cx="188.3" cy="592.5" r="1.6"/>
<circle class="g" cx="86.6" cy="548.5" r="1.6"/>
<circle class="g" cx="170.3" cy="561.5" r="1.6"/>
<circle class="n" cx="168.5" cy="547.4" r="1.6"/>
<circle class="g" cx="185.5" cy="495.1" r="1.6"/>
<circle class="n" cx="166.7" cy="548.1" r="1.6"/>
<circle class="f" cx="126.4" cy="636.9" r="1.6"/>
<circle class="n" cx="179.9" cy="550.5" r="1.6"/>
<circle class="f" cx="159.3" cy="590.6" r="1.6"/>
<circle class="g" cx="188.6" cy="562.9" r="1.6"/>
<circle class="k" cx="176.0" cy="512.1" r="1.6"/>
<circle class="g" cx="222.0" cy="566.1" r="1.6"/>
<circle class="g" cx="169.5" cy="578.8" r="1.6"/>
<circle class="f" cx="165.8" cy="608.7" r="1.6"/>
<circle class="f" cx="62.9" cy="599.2" r="1.6"/>
<circle class="f" cx="142.4" cy="630.3" r="1.6"/>
<circle class="k" cx="147.2" cy="464.1" r="1.6"/>
<circle class="f" cx="129.7" cy="596.5" r="1.6"/>
<circle class="n" cx="196.2" cy="526.4" r="1.6"/>
<circle class="f" cx="149.2" cy="622.7" r="1.6"/>
<circle class="k" cx="148.6" cy="484.5" r="1.6"/>
<circle class="g" cx="172.8" cy="536.0" r="1.6"/>
<circle class="k" cx="123.8" cy="482.2" r="1.6"/>
<circle class="g" cx="148.2" cy="463.1" r="1.6"/>
<circle class="g" cx="153.1" cy="513.9" r="1.6"/>
<circle class="f" cx="189.0" cy="594.8" r="1.6"/>
<circle class="g" cx="187.6" cy="528.9" r="1.6"/>
<circle class="f" cx="181.3" cy="568.9" r="1.6"/>
<circle class="f" cx="183.7" cy="597.9" r="1.6"/>
<circle class="g" cx="157.2" cy="492.0" r="1.6"/>
<circle class="g" cx="115.3" cy="582.6" r="1.6"/>
<circle class="g" cx="102.0" cy="525.3" r="1.6"/>
<circle class="g" cx="173.7" cy="513.6" r="1.6"/>
<circle class="n" cx="196.6" cy="524.9" r="1.6"/>
<circle class="g" cx="93.3" cy="562.9" r="1.6"/>
<circle class="k" cx="159.4" cy="497.6" r="1.6"/>
<circle class="n" cx="172.3" cy="521.3" r="1.6"/>
<circle class="n" cx="189.4" cy="556.8" r="1.6"/>
<circle class="g" cx="142.0" cy="538.6" r="1.6"/>
<circle class="g" cx="154.6" cy="551.7" r="1.6"/>
<circle class="g" cx="147.1" cy="571.4" r="1.6"/>
<circle class="g" cx="123.9" cy="538.4" r="1.6"/>
<circle class="g" cx="204.3" cy="511.5" r="1.6"/>
<circle class="k" cx="179.8" cy="506.1" r="1.6"/>
<circle class="n" cx="228.7" cy="556.0" r="1.6"/>
<circle class="k" cx="152.6" cy="539.0" r="1.6"/>
<circle class="g" cx="151.3" cy="488.8" r="1.6"/>
<circle class="g" cx="192.0" cy="597.5" r="1.6"/>
<circle class="g" cx="190.6" cy="548.6" r="1.6"/>
<circle class="g" cx="154.4" cy="546.6" r="1.6"/>
<circle class="k" cx="175.5" cy="508.9" r="1.6"/>
<circle class="g" cx="187.1" cy="582.6" r="1.6"/>
<circle class="n" cx="198.9" cy="533.8" r="1.6"/>
<circle class="k" cx="82.2" cy="466.5" r="1.6"/>
<circle class="k" cx="199.0" cy="519.7" r="1.6"/>
<circle class="k" cx="103.3" cy="510.5" r="1.6"/>
<circle class="f" cx="189.1" cy="605.0" r="1.6"/>
<circle class="g" cx="160.4" cy="529.3" r="1.6"/>
<circle class="n" cx="183.4" cy="487.8" r="1.6"/>
<circle class="g" cx="108.1" cy="458.8" r="1.6"/>
<circle class="g" cx="151.0" cy="543.1" r="1.6"/>
<circle class="k" cx="186.2" cy="537.0" r="1.6"/>
<circle class="n" cx="205.9" cy="532.4" r="1.6"/>
<circle class="f" cx="116.6" cy="619.2" r="1.6"/>
<circle class="g" cx="157.0" cy="535.9" r="1.6"/>
<circle class="g" cx="136.9" cy="522.7" r="1.6"/>
<circle class="g" cx="145.9" cy="523.2" r="1.6"/>
<circle class="n" cx="209.5" cy="530.7" r="1.6"/>
<circle class="f" cx="137.7" cy="659.3" r="1.6"/>
<circle class="g" cx="215.9" cy="544.1" r="1.6"/>
<circle class="g" cx="106.8" cy="521.6" r="1.6"/>
<circle class="f" cx="155.0" cy="561.1" r="1.6"/>
<circle class="f" cx="118.2" cy="617.2" r="1.6"/>
<circle class="f" cx="150.6" cy="592.7" r="1.6"/>
<circle class="g" cx="123.7" cy="554.8" r="1.6"/>
<circle class="f" cx="128.3" cy="604.1" r="1.6"/>
<circle class="n" cx="198.5" cy="555.1" r="1.6"/>
<circle class="g" cx="170.6" cy="522.7" r="1.6"/>
<circle class="k" cx="172.1" cy="480.5" r="1.6"/>
<circle class="f" cx="154.7" cy="565.9" r="1.6"/>
<circle class="f" cx="138.0" cy="609.7" r="1.6"/>
<circle class="g" cx="174.0" cy="499.4" r="1.6"/>
<circle class="k" cx="151.7" cy="483.0" r="1.6"/>
<circle class="f" cx="139.7" cy="602.7" r="1.6"/>
<circle class="f" cx="48.5" cy="634.4" r="1.6"/>
<circle class="g" cx="167.7" cy="541.1" r="1.6"/>
<circle class="g" cx="133.1" cy="563.9" r="1.6"/>
<circle class="k" cx="118.2" cy="496.4" r="1.6"/>
<circle class="g" cx="160.3" cy="551.5" r="1.6"/>
<circle class="g" cx="128.2" cy="562.0" r="1.6"/>
<circle class="f" cx="200.1" cy="584.3" r="1.6"/>
<circle class="k" cx="133.9" cy="523.0" r="1.6"/>
<circle class="g" cx="213.3" cy="470.3" r="1.6"/>
<circle class="f" cx="126.1" cy="613.4" r="1.6"/>
<circle class="g" cx="181.4" cy="501.4" r="1.6"/>
<circle class="g" cx="212.1" cy="528.1" r="1.6"/>
<circle class="k" cx="164.9" cy="515.8" r="1.6"/>
<circle class="k" cx="109.6" cy="486.1" r="1.6"/>
<circle class="n" cx="171.7" cy="524.3" r="1.6"/>
<circle class="g" cx="95.4" cy="538.4" r="1.6"/>
<circle class="k" cx="100.1" cy="491.4" r="1.6"/>
<circle class="g" cx="172.0" cy="576.9" r="1.6"/>
<circle class="g" cx="149.1" cy="539.1" r="1.6"/>
<circle class="f" cx="124.3" cy="606.5" r="1.6"/>
<circle class="g" cx="186.7" cy="541.8" r="1.6"/>
<circle class="k" cx="177.8" cy="520.4" r="1.6"/>
<circle class="f" cx="156.7" cy="593.9" r="1.6"/>
<circle class="f" cx="85.9" cy="661.2" r="1.6"/>
<circle class="n" cx="222.4" cy="511.4" r="1.6"/>
<circle class="f" cx="146.1" cy="602.6" r="1.6"/>
<circle class="n" cx="189.9" cy="536.4" r="1.6"/>
<circle class="k" cx="124.1" cy="510.0" r="1.6"/>
<circle class="f" cx="183.8" cy="547.6" r="1.6"/>
<circle class="g" cx="168.9" cy="505.2" r="1.6"/>
<circle class="f" cx="156.7" cy="606.1" r="1.6"/>
<circle class="k" cx="151.4" cy="477.9" r="1.6"/>
<circle class="g" cx="133.4" cy="520.4" r="1.6"/>
<circle class="k" cx="181.5" cy="507.2" r="1.6"/>
<circle class="f" cx="144.3" cy="619.9" r="1.6"/>
<circle class="g" cx="196.2" cy="487.4" r="1.6"/>
<circle class="n" cx="190.5" cy="530.8" r="1.6"/>
<circle class="g" cx="245.0" cy="472.7" r="1.6"/>
<circle class="g" cx="147.7" cy="549.9" r="1.6"/>
<circle class="n" cx="231.0" cy="557.6" r="1.6"/>
<circle class="k" cx="113.3" cy="442.1" r="1.6"/>
<circle class="g" cx="154.5" cy="565.1" r="1.6"/>
<circle class="f" cx="188.6" cy="570.0" r="1.6"/>
<circle class="g" cx="176.6" cy="513.3" r="1.6"/>
<circle class="g" cx="133.4" cy="578.3" r="1.6"/>
<circle class="g" cx="192.6" cy="520.8" r="1.6"/>
<circle class="g" cx="230.5" cy="578.4" r="1.6"/>
<circle class="g" cx="212.2" cy="545.5" r="1.6"/>
<circle class="f" cx="158.1" cy="609.3" r="1.6"/>
<circle class="g" cx="189.3" cy="503.5" r="1.6"/>
<circle class="f" cx="157.9" cy="598.4" r="1.6"/>
<circle class="f" cx="144.2" cy="574.4" r="1.6"/>
<circle class="f" cx="130.4" cy="608.2" r="1.6"/>
<circle class="f" cx="122.7" cy="610.7" r="1.6"/>
<circle class="f" cx="173.0" cy="601.3" r="1.6"/>
<circle class="g" cx="153.5" cy="535.7" r="1.6"/>
<circle class="g" cx="157.0" cy="561.3" r="1.6"/>
<circle class="f" cx="152.2" cy="592.9" r="1.6"/>
<circle class="f" cx="156.5" cy="640.3" r="1.6"/>
<circle class="f" cx="215.4" cy="571.7" r="1.6"/>
<circle class="f" cx="169.2" cy="577.0" r="1.6"/>
<circle class="k" cx="143.1" cy="514.0" r="1.6"/>
<circle class="g" cx="177.3" cy="517.9" r="1.6"/>
<circle class="f" cx="143.5" cy="609.5" r="1.6"/>
<circle class="g" cx="159.2" cy="520.9" r="1.6"/>
<circle class="k" cx="217.1" cy="551.7" r="1.6"/>
<circle class="k" cx="140.5" cy="493.8" r="1.6"/>
<circle class="k" cx="123.5" cy="490.7" r="1.6"/>
<circle class="g" cx="215.0" cy="558.5" r="1.6"/>
<circle class="f" cx="141.6" cy="580.8" r="1.6"/>
<circle class="g" cx="114.7" cy="555.4" r="1.6"/>
<circle class="g" cx="136.0" cy="603.5" r="1.6"/>
<circle class="f" cx="181.7" cy="562.0" r="1.6"/>
<circle class="g" cx="172.8" cy="583.2" r="1.6"/>
<circle class="g" cx="156.2" cy="517.2" r="1.6"/>
<circle class="g" cx="138.9" cy="528.8" r="1.6"/>
<circle class="f" cx="136.6" cy="602.4" r="1.6"/>
<circle class="k" cx="164.1" cy="531.2" r="1.6"/>
<circle class="g" cx="138.5" cy="549.1" r="1.6"/>
<circle class="f" cx="128.3" cy="593.9" r="1.6"/>
<circle class="n" cx="199.4" cy="564.3" r="1.6"/>
<circle class="g" cx="173.1" cy="531.2" r="1.6"/>
<circle class="g" cx="142.3" cy="516.8" r="1.6"/>
<circle class="f" cx="139.9" cy="639.2" r="1.6"/>
<circle class="g" cx="135.1" cy="510.7" r="1.6"/>
<circle class="n" cx="212.6" cy="532.4" r="1.6"/>
<circle class="g" cx="175.0" cy="563.5" r="1.6"/>
<circle class="g" cx="151.4" cy="527.7" r="1.6"/>
<circle class="g" cx="175.2" cy="562.5" r="1.6"/>
<circle class="g" cx="164.6" cy="550.4" r="1.6"/>
<circle class="n" cx="195.3" cy="531.1" r="1.6"/>
<circle class="k" cx="161.3" cy="505.5" r="1.6"/>
<circle class="n" cx="202.5" cy="535.6" r="1.6"/>
<circle class="g" cx="153.2" cy="576.3" r="1.6"/>
<circle class="g" cx="225.4" cy="543.9" r="1.6"/>
<circle class="k" cx="135.9" cy="481.1" r="1.6"/>
<circle class="g" cx="152.9" cy="539.6" r="1.6"/>
<circle class="f" cx="94.8" cy="643.6" r="1.6"/>
<circle class="k" cx="120.7" cy="497.3" r="1.6"/>
<circle class="f" cx="139.0" cy="606.0" r="1.6"/>
<circle class="k" cx="147.9" cy="514.1" r="1.6"/>
<circle class="g" cx="128.5" cy="568.0" r="1.6"/>
<circle class="f" cx="147.0" cy="648.6" r="1.6"/>
<circle class="g" cx="154.1" cy="551.6" r="1.6"/>
<circle class="f" cx="155.7" cy="613.1" r="1.6"/>
<circle class="n" cx="254.2" cy="525.8" r="1.6"/>
<circle class="g" cx="189.8" cy="512.4" r="1.6"/>
<circle class="f" cx="152.9" cy="572.1" r="1.6"/>
<circle class="g" cx="190.1" cy="497.9" r="1.6"/>
<circle class="n" cx="214.9" cy="542.4" r="1.6"/>
<circle class="g" cx="124.6" cy="532.9" r="1.6"/>
<circle class="g" cx="179.2" cy="499.9" r="1.6"/>
<circle class="f" cx="155.8" cy="586.5" r="1.6"/>
<circle class="n" cx="176.3" cy="532.9" r="1.6"/>
<circle class="n" cx="198.5" cy="527.5" r="1.6"/>
<circle class="g" cx="142.1" cy="511.9" r="1.6"/>
<circle class="n" cx="222.8" cy="546.9" r="1.6"/>
<circle class="k" cx="173.9" cy="503.1" r="1.6"/>
<circle class="k" cx="168.2" cy="536.5" r="1.6"/>
<circle class="f" cx="187.7" cy="592.1" r="1.6"/>
<circle class="n" cx="186.0" cy="535.5" r="1.6"/>
<circle class="k" cx="176.9" cy="470.2" r="1.6"/>
<circle class="n" cx="228.1" cy="538.6" r="1.6"/>
<circle class="f" cx="118.1" cy="606.7" r="1.6"/>
<circle class="f" cx="155.1" cy="616.1" r="1.6"/>
<circle class="k" cx="139.3" cy="505.4" r="1.6"/>
<circle class="n" cx="210.0" cy="515.2" r="1.6"/>
<circle class="n" cx="230.5" cy="543.1" r="1.6"/>
<circle class="k" cx="147.1" cy="505.6" r="1.6"/>
<circle class="g" cx="173.9" cy="479.6" r="1.6"/>
<circle class="n" cx="208.6" cy="503.3" r="1.6"/>
<circle class="k" cx="80.5" cy="505.7" r="1.6"/>
<circle class="g" cx="168.5" cy="508.4" r="1.6"/>
<circle class="g" cx="166.8" cy="589.7" r="1.6"/>
<circle class="k" cx="112.5" cy="474.6" r="1.6"/>
<circle class="g" cx="151.3" cy="527.2" r="1.6"/>
<circle class="f" cx="139.5" cy="631.3" r="1.6"/>
<circle class="n" cx="184.8" cy="533.4" r="1.6"/>
<circle class="n" cx="213.0" cy="555.3" r="1.6"/>
<circle class="f" cx="136.1" cy="588.0" r="1.6"/>
<circle class="g" cx="212.6" cy="516.6" r="1.6"/>
<circle class="k" cx="127.1" cy="502.9" r="1.6"/>
<circle class="f" cx="135.7" cy="634.7" r="1.6"/>
<circle class="f" cx="185.6" cy="574.1" r="1.6"/>
<circle class="g" cx="167.6" cy="523.3" r="1.6"/>
<circle class="k" cx="143.3" cy="451.5" r="1.6"/>
<circle class="n" cx="180.3" cy="596.1" r="1.6"/>
<circle class="k" cx="178.9" cy="471.6" r="1.6"/>
<circle class="f" cx="137.1" cy="620.4" r="1.6"/>
<circle class="n" cx="229.6" cy="499.9" r="1.6"/>
<circle class="f" cx="149.1" cy="620.9" r="1.6"/>
<circle class="f" cx="182.4" cy="575.4" r="1.6"/>
<circle class="k" cx="135.2" cy="437.2" r="1.6"/>
<circle class="k" cx="152.5" cy="477.8" r="1.6"/>
<circle class="g" cx="164.4" cy="516.4" r="1.6"/>
<circle class="k" cx="151.1" cy="496.2" r="1.6"/>
<circle class="g" cx="165.2" cy="485.8" r="1.6"/>
<circle class="g" cx="170.3" cy="544.0" r="1.6"/>
<circle class="g" cx="102.5" cy="538.7" r="1.6"/>
<circle class="g" cx="164.2" cy="529.6" r="1.6"/>
<circle class="n" cx="201.3" cy="557.7" r="1.6"/>
<circle class="g" cx="137.9" cy="495.4" r="1.6"/>
<circle class="f" cx="150.6" cy="577.1" r="1.6"/>
<circle class="k" cx="196.9" cy="528.8" r="1.6"/>
<circle class="f" cx="152.4" cy="606.3" r="1.6"/>
<circle class="k" cx="179.7" cy="492.8" r="1.6"/>
<circle class="g" cx="137.5" cy="489.5" r="1.6"/>
<circle class="g" cx="162.4" cy="586.4" r="1.6"/>
<circle class="n" cx="186.2" cy="507.3" r="1.6"/>
<circle class="g" cx="134.0" cy="530.4" r="1.6"/>
<circle class="g" cx="118.4" cy="538.1" r="1.6"/>
<circle class="f" cx="155.2" cy="577.6" r="1.6"/>
<circle class="g" cx="119.1" cy="547.0" r="1.6"/>
<circle class="f" cx="165.0" cy="615.9" r="1.6"/>
<circle class="f" cx="141.8" cy="588.6" r="1.6"/>
<circle class="k" cx="150.4" cy="501.2" r="1.6"/>
<circle class="k" cx="174.2" cy="487.7" r="1.6"/>
<circle class="k" cx="120.3" cy="484.5" r="1.6"/>
<circle class="f" cx="159.6" cy="573.7" r="1.6"/>
<circle class="n" cx="159.5" cy="510.6" r="1.6"/>
<circle class="n" cx="224.7" cy="541.1" r="1.6"/>
<circle class="g" cx="126.9" cy="501.5" r="1.6"/>
<circle class="k" cx="183.6" cy="508.0" r="1.6"/>
<circle class="n" cx="202.6" cy="497.2" r="1.6"/>
<circle class="f" cx="156.8" cy="600.3" r="1.6"/>
<circle class="g" cx="149.6" cy="566.0" r="1.6"/>
<circle class="n" cx="266.5" cy="583.7" r="1.6"/>
<circle class="n" cx="192.2" cy="572.8" r="1.6"/>
<circle class="n" cx="224.2" cy="527.4" r="1.6"/>
<circle class="g" cx="182.3" cy="562.9" r="1.6"/>
<circle class="f" cx="151.3" cy="607.1" r="1.6"/>
<circle class="n" cx="197.1" cy="513.7" r="1.6"/>
<circle class="f" cx="166.9" cy="583.4" r="1.6"/>
<circle class="g" cx="216.6" cy="546.9" r="1.6"/>
<circle class="k" cx="66.6" cy="450.6" r="1.6"/>
<circle class="n" cx="202.7" cy="531.7" r="1.6"/>
<circle class="n" cx="213.7" cy="525.8" r="1.6"/>
<circle class="f" cx="152.2" cy="568.5" r="1.6"/>
<circle class="g" cx="148.9" cy="561.1" r="1.6"/>
<circle class="f" cx="146.9" cy="589.7" r="1.6"/>
<circle class="g" cx="119.5" cy="530.0" r="1.6"/>
<circle class="f" cx="143.5" cy="560.6" r="1.6"/>
<circle class="f" cx="104.4" cy="650.0" r="1.6"/>
<circle class="g" cx="98.4" cy="551.8" r="1.6"/>
<circle class="g" cx="140.4" cy="539.9" r="1.6"/>
<circle class="f" cx="167.4" cy="616.0" r="1.6"/>
<circle class="f" cx="149.3" cy="568.0" r="1.6"/>
<circle class="f" cx="127.2" cy="659.3" r="1.6"/>
<circle class="g" cx="127.6" cy="569.4" r="1.6"/>
<circle class="n" cx="202.7" cy="546.4" r="1.6"/>
<circle class="f" cx="138.7" cy="604.6" r="1.6"/>
<circle class="f" cx="147.0" cy="599.3" r="1.6"/>
<circle class="n" cx="167.0" cy="552.8" r="1.6"/>
<circle class="g" cx="134.4" cy="578.4" r="1.6"/>
<circle class="g" cx="161.4" cy="529.7" r="1.6"/>
<circle class="f" cx="173.7" cy="590.2" r="1.6"/>
<circle class="f" cx="179.3" cy="579.3" r="1.6"/>
<circle class="f" cx="169.0" cy="577.4" r="1.6"/>
<circle class="g" cx="164.9" cy="511.7" r="1.6"/>
<circle class="g" cx="163.0" cy="507.4" r="1.6"/>
<circle class="n" cx="204.0" cy="541.6" r="1.6"/>
<circle class="g" cx="139.0" cy="601.6" r="1.6"/>
<circle class="n" cx="213.6" cy="553.4" r="1.6"/>
<circle class="f" cx="161.4" cy="595.3" r="1.6"/>
<circle class="n" cx="206.4" cy="611.1" r="1.6"/>
<circle class="k" cx="161.8" cy="535.6" r="1.6"/>
<circle class="f" cx="137.4" cy="613.9" r="1.6"/>
<circle class="k" cx="117.0" cy="459.9" r="1.6"/>
<circle class="f" cx="132.7" cy="602.6" r="1.6"/>
<circle class="g" cx="136.4" cy="567.7" r="1.6"/>
<circle class="g" cx="147.1" cy="505.9" r="1.6"/>
<circle class="g" cx="227.8" cy="536.7" r="1.6"/>
<circle class="n" cx="195.9" cy="548.6" r="1.6"/>
<circle class="f" cx="144.5" cy="561.5" r="1.6"/>
<circle class="g" cx="189.3" cy="571.2" r="1.6"/>
<circle class="g" cx="161.1" cy="531.2" r="1.6"/>
<circle class="n" cx="258.5" cy="511.4" r="1.6"/>
<circle class="g" cx="117.2" cy="533.5" r="1.6"/>
<circle class="g" cx="149.6" cy="544.8" r="1.6"/>
<circle class="f" cx="128.5" cy="631.2" r="1.6"/>
<circle class="g" cx="184.7" cy="575.9" r="1.6"/>
<circle class="g" cx="148.1" cy="562.7" r="1.6"/>
<circle class="k" cx="152.9" cy="461.3" r="1.6"/>
<circle class="f" cx="120.6" cy="613.0" r="1.6"/>
<circle class="g" cx="135.3" cy="558.3" r="1.6"/>
<circle class="k" cx="161.6" cy="513.1" r="1.6"/>
<circle class="n" cx="199.6" cy="553.1" r="1.6"/>
<circle class="n" cx="181.4" cy="531.8" r="1.6"/>
<circle class="g" cx="167.1" cy="519.0" r="1.6"/>
<circle class="g" cx="190.3" cy="497.7" r="1.6"/>
<circle class="k" cx="143.8" cy="477.5" r="1.6"/>
<circle class="f" cx="208.1" cy="582.9" r="1.6"/>
<circle class="f" cx="134.9" cy="586.7" r="1.6"/>
<circle class="n" cx="208.1" cy="553.7" r="1.6"/>
<circle class="k" cx="165.3" cy="531.1" r="1.6"/>
<circle class="g" cx="150.8" cy="467.6" r="1.6"/>
<circle class="n" cx="190.3" cy="507.5" r="1.6"/>
<circle class="f" cx="253.5" cy="580.7" r="1.6"/>
<circle class="f" cx="126.5" cy="626.2" r="1.6"/>
<circle class="n" cx="167.4" cy="546.3" r="1.6"/>
<circle class="g" cx="174.4" cy="553.3" r="1.6"/>
<circle class="g" cx="202.1" cy="548.0" r="1.6"/>
<circle class="k" cx="137.0" cy="516.2" r="1.6"/>
<circle class="g" cx="117.2" cy="574.7" r="1.6"/>
<circle class="g" cx="127.6" cy="562.4" r="1.6"/>
<circle class="g" cx="152.8" cy="529.3" r="1.6"/>
<circle class="g" cx="131.3" cy="478.7" r="1.6"/>
<circle class="f" cx="122.4" cy="616.8" r="1.6"/>
<circle class="f" cx="102.6" cy="660.0" r="1.6"/>
<circle class="g" cx="98.1" cy="539.7" r="1.6"/>
<circle class="g" cx="174.2" cy="547.9" r="1.6"/>
<circle class="g" cx="137.4" cy="522.3" r="1.6"/>
<circle class="f" cx="109.3" cy="619.7" r="1.6"/>
<circle class="f" cx="161.4" cy="616.9" r="1.6"/>
<circle class="k" cx="168.3" cy="488.0" r="1.6"/>
<circle class="g" cx="114.8" cy="525.1" r="1.6"/>
<circle class="f" cx="154.1" cy="600.3" r="1.6"/>
<circle class="f" cx="135.0" cy="596.9" r="1.6"/>
<circle class="k" cx="140.6" cy="499.0" r="1.6"/>
<circle class="k" cx="171.5" cy="499.6" r="1.6"/>
<circle class="f" cx="143.1" cy="584.8" r="1.6"/>
<circle class="k" cx="196.9" cy="505.0" r="1.6"/>
<circle class="f" cx="144.2" cy="605.2" r="1.6"/>
<circle class="n" cx="194.9" cy="534.1" r="1.6"/>
<circle class="n" cx="235.1" cy="567.9" r="1.6"/>
<circle class="k" cx="102.0" cy="469.0" r="1.6"/>
<circle class="n" cx="205.9" cy="505.2" r="1.6"/>
<circle class="f" cx="125.4" cy="622.0" r="1.6"/>
<circle class="n" cx="190.7" cy="533.5" r="1.6"/>
<circle class="g" cx="93.0" cy="563.9" r="1.6"/>
<circle class="k" cx="180.9" cy="525.6" r="1.6"/>
<circle class="n" cx="183.7" cy="516.8" r="1.6"/>
<circle class="g" cx="126.0" cy="549.6" r="1.6"/>
<circle class="g" cx="179.7" cy="481.5" r="1.6"/>
<circle class="f" cx="197.6" cy="577.4" r="1.6"/>
<circle class="n" cx="207.5" cy="539.2" r="1.6"/>
<circle class="k" cx="110.0" cy="491.6" r="1.6"/>
<circle class="n" cx="208.8" cy="580.7" r="1.6"/>
<circle class="k" cx="156.5" cy="493.0" r="1.6"/>
<circle class="n" cx="217.3" cy="554.5" r="1.6"/>
<circle class="n" cx="240.5" cy="555.5" r="1.6"/>
<circle class="g" cx="163.1" cy="540.2" r="1.6"/>
<circle class="g" cx="102.9" cy="549.9" r="1.6"/>
<circle class="f" cx="183.5" cy="584.0" r="1.6"/>
<circle class="f" cx="113.3" cy="632.1" r="1.6"/>
<circle class="f" cx="138.8" cy="644.3" r="1.6"/>
<circle class="g" cx="115.6" cy="506.7" r="1.6"/>
<circle class="g" cx="193.6" cy="493.6" r="1.6"/>
<circle class="k" cx="184.3" cy="512.6" r="1.6"/>
<circle class="g" cx="163.3" cy="512.6" r="1.6"/>
<circle class="n" cx="208.6" cy="548.3" r="1.6"/>
<circle class="f" cx="146.1" cy="596.9" r="1.6"/>
<circle class="g" cx="171.8" cy="488.9" r="1.6"/>
<circle class="n" cx="183.5" cy="539.9" r="1.6"/>
<circle class="g" cx="206.5" cy="553.0" r="1.6"/>
<circle class="k" cx="107.4" cy="471.4" r="1.6"/>
<circle class="f" cx="150.7" cy="618.8" r="1.6"/>
<circle class="f" cx="102.5" cy="605.6" r="1.6"/>
<circle class="f" cx="119.8" cy="605.6" r="1.6"/>
<circle class="g" cx="167.8" cy="547.4" r="1.6"/>
<circle class="n" cx="192.8" cy="523.7" r="1.6"/>
<circle class="f" cx="127.9" cy="595.1" r="1.6"/>
<circle class="g" cx="154.2" cy="514.1" r="1.6"/>
<circle class="f" cx="100.8" cy="623.8" r="1.6"/>
<circle class="n" cx="243.7" cy="512.8" r="1.6"/>
<circle class="k" cx="132.4" cy="504.0" r="1.6"/>
<circle class="g" cx="183.5" cy="543.4" r="1.6"/>
<circle class="g" cx="184.8" cy="529.1" r="1.6"/>
<circle class="n" cx="203.6" cy="549.4" r="1.6"/>
<circle class="n" cx="219.9" cy="536.2" r="1.6"/>
<circle class="k" cx="134.4" cy="484.6" r="1.6"/>
<circle class="n" cx="247.0" cy="551.5" r="1.6"/>
<circle class="k" cx="163.7" cy="479.6" r="1.6"/>
<circle class="g" cx="224.7" cy="519.5" r="1.6"/>
<circle class="g" cx="161.4" cy="496.6" r="1.6"/>
<circle class="g" cx="183.4" cy="597.6" r="1.6"/>
<circle class="f" cx="84.1" cy="638.9" r="1.6"/>
<circle class="g" cx="176.8" cy="474.2" r="1.6"/>
<circle class="n" cx="223.6" cy="576.0" r="1.6"/>
<circle class="k" cx="147.1" cy="471.6" r="1.6"/>
<circle class="f" cx="162.0" cy="609.7" r="1.6"/>
<circle class="f" cx="183.2" cy="531.4" r="1.6"/>
<circle class="k" cx="158.0" cy="488.3" r="1.6"/>
<circle class="g" cx="181.1" cy="549.4" r="1.6"/>
<circle class="g" cx="106.6" cy="502.5" r="1.6"/>
<circle class="n" cx="169.1" cy="551.6" r="1.6"/>
<circle class="g" cx="129.5" cy="568.4" r="1.6"/>
<circle class="f" cx="146.5" cy="550.5" r="1.6"/>
<circle class="f" cx="152.1" cy="621.2" r="1.6"/>
<circle class="g" cx="137.9" cy="607.7" r="1.6"/>
<circle class="g" cx="136.6" cy="553.3" r="1.6"/>
<circle class="k" cx="125.6" cy="473.8" r="1.6"/>
<circle class="g" cx="144.9" cy="549.4" r="1.6"/>
<circle class="g" cx="174.4" cy="522.8" r="1.6"/>
<circle class="g" cx="150.8" cy="593.1" r="1.6"/>
<circle class="f" cx="149.1" cy="610.7" r="1.6"/>
<circle class="g" cx="147.3" cy="542.4" r="1.6"/>
<circle class="f" cx="100.1" cy="600.2" r="1.6"/>
<circle class="g" cx="143.0" cy="511.3" r="1.6"/>
<circle class="k" cx="101.3" cy="489.1" r="1.6"/>
<circle class="g" cx="219.2" cy="489.4" r="1.6"/>
<circle class="g" cx="162.8" cy="522.9" r="1.6"/>
<circle class="f" cx="94.3" cy="612.8" r="1.6"/>
<circle class="g" cx="202.5" cy="538.4" r="1.6"/>
<circle class="k" cx="154.9" cy="504.5" r="1.6"/>
<circle class="g" cx="192.0" cy="531.4" r="1.6"/>
<circle class="n" cx="194.5" cy="535.1" r="1.6"/>
<circle class="f" cx="179.1" cy="627.8" r="1.6"/>
<circle class="n" cx="187.5" cy="554.1" r="1.6"/>
<circle class="g" cx="164.7" cy="562.6" r="1.6"/>
<circle class="f" cx="154.9" cy="606.4" r="1.6"/>
<circle class="k" cx="135.7" cy="495.0" r="1.6"/>
<circle class="f" cx="140.9" cy="606.6" r="1.6"/>
<circle class="f" cx="123.1" cy="619.9" r="1.6"/>
<circle class="f" cx="148.2" cy="598.9" r="1.6"/>
<circle class="g" cx="141.9" cy="550.9" r="1.6"/>
<circle class="k" cx="197.2" cy="503.8" r="1.6"/>
<circle class="f" cx="143.8" cy="587.8" r="1.6"/>
<circle class="g" cx="153.0" cy="540.0" r="1.6"/>
<circle class="g" cx="189.0" cy="543.5" r="1.6"/>
<circle class="n" cx="191.2" cy="601.1" r="1.6"/>
<circle class="n" cx="175.8" cy="518.9" r="1.6"/>
<circle class="g" cx="182.0" cy="564.6" r="1.6"/>
<circle class="n" cx="197.9" cy="518.3" r="1.6"/>
<circle class="f" cx="71.8" cy="658.7" r="1.6"/>
<circle class="g" cx="178.6" cy="568.4" r="1.6"/>
<circle class="g" cx="184.6" cy="527.6" r="1.6"/>
<circle class="k" cx="116.4" cy="515.2" r="1.6"/>
<circle class="f" cx="114.4" cy="586.2" r="1.6"/>
<circle class="n" cx="233.7" cy="558.3" r="1.6"/>
<circle class="f" cx="138.2" cy="610.3" r="1.6"/>
<circle class="f" cx="139.3" cy="584.6" r="1.6"/>
<circle class="k" cx="186.5" cy="543.7" r="1.6"/>
<circle class="f" cx="133.0" cy="647.0" r="1.6"/>
<circle class="f" cx="126.7" cy="633.9" r="1.6"/>
<circle class="g" cx="136.6" cy="539.2" r="1.6"/>
<circle class="g" cx="123.2" cy="476.2" r="1.6"/>
<circle class="n" cx="194.2" cy="542.0" r="1.6"/>
<circle class="g" cx="139.0" cy="589.0" r="1.6"/>
<circle class="f" cx="109.1" cy="622.3" r="1.6"/>
<circle class="n" cx="195.9" cy="536.3" r="1.6"/>
<circle class="g" cx="131.8" cy="514.1" r="1.6"/>
<circle class="g" cx="134.4" cy="559.9" r="1.6"/>
<circle class="f" cx="132.0" cy="583.6" r="1.6"/>
<circle class="f" cx="98.9" cy="658.2" r="1.6"/>
<circle class="f" cx="140.7" cy="572.0" r="1.6"/>
<circle class="g" cx="164.5" cy="523.6" r="1.6"/>
<circle class="k" cx="115.6" cy="454.9" r="1.6"/>
<circle class="g" cx="225.2" cy="516.5" r="1.6"/>
<circle class="g" cx="100.2" cy="543.8" r="1.6"/>
<circle class="n" cx="214.7" cy="526.4" r="1.6"/>
<circle class="g" cx="172.8" cy="584.5" r="1.6"/>
<circle class="g" cx="130.8" cy="502.9" r="1.6"/>
<circle class="g" cx="172.8" cy="554.3" r="1.6"/>
<circle class="f" cx="130.4" cy="611.6" r="1.6"/>
<circle class="g" cx="164.1" cy="538.7" r="1.6"/>
<circle class="n" cx="202.1" cy="495.5" r="1.6"/>
<circle class="n" cx="217.1" cy="487.5" r="1.6"/>
<circle class="k" cx="133.2" cy="515.6" r="1.6"/>
<circle class="g" cx="139.3" cy="493.6" r="1.6"/>
<circle class="k" cx="167.0" cy="504.4" r="1.6"/>
<circle class="g" cx="143.6" cy="523.8" r="1.6"/>
<circle class="f" cx="193.9" cy="584.5" r="1.6"/>
<circle class="n" cx="190.6" cy="542.8" r="1.6"/>
<circle class="f" cx="129.9" cy="567.0" r="1.6"/>
<circle class="g" cx="164.8" cy="467.9" r="1.6"/>
<circle class="k" cx="168.6" cy="542.4" r="1.6"/>
<circle class="g" cx="109.4" cy="520.5" r="1.6"/>
<circle class="g" cx="183.6" cy="516.0" r="1.6"/>
<circle class="k" cx="98.8" cy="473.8" r="1.6"/>
<circle class="f" cx="91.2" cy="605.0" r="1.6"/>
<circle class="k" cx="187.6" cy="512.1" r="1.6"/>
<circle class="f" cx="127.2" cy="593.2" r="1.6"/>
<circle class="k" cx="169.3" cy="501.5" r="1.6"/>
<circle class="f" cx="133.9" cy="573.7" r="1.6"/>
<circle class="n" cx="198.9" cy="519.8" r="1.6"/>
<circle class="f" cx="100.9" cy="624.0" r="1.6"/>
<circle class="g" cx="150.0" cy="539.4" r="1.6"/>
<circle class="g" cx="153.5" cy="531.1" r="1.6"/>
<circle class="g" cx="126.1" cy="539.8" r="1.6"/>
<circle class="n" cx="201.7" cy="515.0" r="1.6"/>
<circle class="n" cx="160.4" cy="530.6" r="1.6"/>
<circle class="n" cx="187.6" cy="547.1" r="1.6"/>
<circle class="f" cx="160.8" cy="579.9" r="1.6"/>
<circle class="k" cx="144.0" cy="467.6" r="1.6"/>
<circle class="g" cx="180.9" cy="565.4" r="1.6"/>
<circle class="k" cx="138.0" cy="488.9" r="1.6"/>
<circle class="n" cx="215.6" cy="555.3" r="1.6"/>
<circle class="f" cx="143.6" cy="591.9" r="1.6"/>
<circle class="f" cx="161.9" cy="588.5" r="1.6"/>
<circle class="k" cx="152.1" cy="486.2" r="1.6"/>
<circle class="f" cx="198.3" cy="573.0" r="1.6"/>
<circle class="k" cx="177.6" cy="532.2" r="1.6"/>
<circle class="k" cx="169.2" cy="500.0" r="1.6"/>
<circle class="g" cx="178.8" cy="550.8" r="1.6"/>
<circle class="n" cx="238.6" cy="558.7" r="1.6"/>
<circle class="f" cx="132.4" cy="598.4" r="1.6"/>
<circle class="g" cx="154.5" cy="488.4" r="1.6"/>
<circle class="f" cx="175.7" cy="595.5" r="1.6"/>
<circle class="f" cx="169.4" cy="557.1" r="1.6"/>
<circle class="g" cx="192.5" cy="470.5" r="1.6"/>
<circle class="g" cx="151.1" cy="536.9" r="1.6"/>
<circle class="g" cx="176.7" cy="526.8" r="1.6"/>
<circle class="f" cx="158.0" cy="623.2" r="1.6"/>
<circle class="f" cx="177.0" cy="583.3" r="1.6"/>
<circle class="k" cx="192.2" cy="544.0" r="1.6"/>
<circle class="k" cx="113.0" cy="470.2" r="1.6"/>
<circle class="g" cx="118.7" cy="472.7" r="1.6"/>
<circle class="g" cx="146.9" cy="545.0" r="1.6"/>
<circle class="g" cx="153.3" cy="553.4" r="1.6"/>
<circle class="g" cx="204.3" cy="567.5" r="1.6"/>
<circle class="g" cx="118.3" cy="480.5" r="1.6"/>
<circle class="f" cx="152.1" cy="589.5" r="1.6"/>
<circle class="f" cx="115.1" cy="603.3" r="1.6"/>
<circle class="n" cx="189.1" cy="547.4" r="1.6"/>
<circle class="f" cx="121.8" cy="555.6" r="1.6"/>
<circle class="f" cx="151.8" cy="577.9" r="1.6"/>
<circle class="n" cx="207.0" cy="535.4" r="1.6"/>
<circle class="g" cx="212.6" cy="564.2" r="1.6"/>
<circle class="n" cx="196.6" cy="573.9" r="1.6"/>
<circle class="g" cx="157.8" cy="595.8" r="1.6"/>
<circle class="g" cx="82.2" cy="486.9" r="1.6"/>
<circle class="f" cx="162.2" cy="602.6" r="1.6"/>
<circle class="n" cx="226.6" cy="568.0" r="1.6"/>
<circle class="k" cx="166.2" cy="484.8" r="1.6"/>
<circle class="g" cx="150.5" cy="543.5" r="1.6"/>
<circle class="g" cx="182.7" cy="542.7" r="1.6"/>
<circle class="g" cx="212.2" cy="575.6" r="1.6"/>
<circle class="g" cx="177.6" cy="535.4" r="1.6"/>
<circle class="n" cx="198.7" cy="525.6" r="1.6"/>
<circle class="f" cx="140.3" cy="619.2" r="1.6"/>
<circle class="g" cx="180.1" cy="567.1" r="1.6"/>
<circle class="f" cx="113.0" cy="606.2" r="1.6"/>
<circle class="f" cx="168.0" cy="613.8" r="1.6"/>
<circle class="g" cx="84.8" cy="483.2" r="1.6"/>
<circle class="n" cx="214.2" cy="563.0" r="1.6"/>
<circle class="f" cx="192.6" cy="577.1" r="1.6"/>
<circle class="f" cx="125.4" cy="614.1" r="1.6"/>
<circle class="g" cx="129.2" cy="592.2" r="1.6"/>
<circle class="k" cx="129.3" cy="516.9" r="1.6"/>
<circle class="g" cx="172.9" cy="515.4" r="1.6"/>
<circle class="k" cx="180.6" cy="514.2" r="1.6"/>
<circle class="g" cx="178.3" cy="605.4" r="1.6"/>
<circle class="g" cx="173.1" cy="501.1" r="1.6"/>
<circle class="n" cx="192.2" cy="534.2" r="1.6"/>
<circle class="g" cx="160.8" cy="485.6" r="1.6"/>
<circle class="f" cx="139.9" cy="588.1" r="1.6"/>
<circle class="k" cx="132.3" cy="479.2" r="1.6"/>
<circle class="f" cx="180.6" cy="597.9" r="1.6"/>
<circle class="f" cx="136.6" cy="602.9" r="1.6"/>
<circle class="f" cx="145.1" cy="579.7" r="1.6"/>
<circle class="g" cx="108.2" cy="533.3" r="1.6"/>
<circle class="g" cx="148.3" cy="558.9" r="1.6"/>
<circle class="n" cx="180.2" cy="536.7" r="1.6"/>
<circle class="f" cx="148.1" cy="596.3" r="1.6"/>
<circle class="f" cx="140.2" cy="587.6" r="1.6"/>
<circle class="n" cx="208.2" cy="526.3" r="1.6"/>
<circle class="g" cx="126.5" cy="489.4" r="1.6"/>
<circle class="f" cx="176.1" cy="589.1" r="1.6"/>
<circle class="f" cx="152.4" cy="627.6" r="1.6"/>
<circle class="g" cx="156.5" cy="523.1" r="1.6"/>
<circle class="f" cx="173.8" cy="592.0" r="1.6"/>
<circle class="g" cx="156.6" cy="579.4" r="1.6"/>
<circle class="n" cx="214.2" cy="561.8" r="1.6"/>
<circle class="k" cx="126.8" cy="476.2" r="1.6"/>
<circle class="g" cx="193.3" cy="520.7" r="1.6"/>
<circle class="g" cx="193.2" cy="611.3" r="1.6"/>
<circle class="k" cx="125.0" cy="481.0" r="1.6"/>
<circle class="n" cx="183.2" cy="572.3" r="1.6"/>
<circle class="g" cx="166.5" cy="581.3" r="1.6"/>
<circle class="k" cx="118.5" cy="477.8" r="1.6"/>
<circle class="f" cx="157.6" cy="603.9" r="1.6"/>
<circle class="k" cx="108.1" cy="472.9" r="1.6"/>
<circle class="f" cx="154.7" cy="593.2" r="1.6"/>
<circle class="g" cx="146.2" cy="500.7" r="1.6"/>
<circle class="n" cx="222.9" cy="569.3" r="1.6"/>
<circle class="k" cx="180.9" cy="486.8" r="1.6"/>
<circle class="n" cx="201.1" cy="527.6" r="1.6"/>
<circle class="g" cx="230.1" cy="448.5" r="1.6"/>
<circle class="f" cx="160.2" cy="583.1" r="1.6"/>
<circle class="f" cx="60.7" cy="659.3" r="1.6"/>
<circle class="f" cx="171.3" cy="569.3" r="1.6"/>
<circle class="n" cx="207.8" cy="543.0" r="1.6"/>
<circle class="g" cx="161.6" cy="539.0" r="1.6"/>
<circle class="n" cx="225.4" cy="497.6" r="1.6"/>
<circle class="k" cx="189.9" cy="492.0" r="1.6"/>
<circle class="f" cx="98.9" cy="605.7" r="1.6"/>
<circle class="k" cx="129.6" cy="491.9" r="1.6"/>
<circle class="f" cx="101.1" cy="602.6" r="1.6"/>
<circle class="k" cx="149.5" cy="492.8" r="1.6"/>
<circle class="k" cx="147.3" cy="501.4" r="1.6"/>
<circle class="g" cx="179.2" cy="572.6" r="1.6"/>
<circle class="g" cx="111.6" cy="524.1" r="1.6"/>
<circle class="n" cx="200.2" cy="527.5" r="1.6"/>
<circle class="f" cx="131.2" cy="608.8" r="1.6"/>
<circle class="f" cx="143.8" cy="582.6" r="1.6"/>
<circle class="g" cx="143.6" cy="547.2" r="1.6"/>
<circle class="g" cx="60.0" cy="521.4" r="1.6"/>
<circle class="g" cx="165.1" cy="515.8" r="1.6"/>
<circle class="g" cx="111.8" cy="512.3" r="1.6"/>
<circle class="g" cx="175.6" cy="537.2" r="1.6"/>
<circle class="f" cx="141.5" cy="583.1" r="1.6"/>
<circle class="n" cx="190.2" cy="504.8" r="1.6"/>
<circle class="g" cx="138.1" cy="539.0" r="1.6"/>
<circle class="g" cx="137.6" cy="504.2" r="1.6"/>
<circle class="g" cx="128.1" cy="521.1" r="1.6"/>
<circle class="g" cx="192.9" cy="480.2" r="1.6"/>
<circle class="g" cx="112.3" cy="550.1" r="1.6"/>
<circle class="g" cx="178.9" cy="473.6" r="1.6"/>
<circle class="n" cx="181.5" cy="526.2" r="1.6"/>
<circle class="f" cx="138.6" cy="617.3" r="1.6"/>
<circle class="f" cx="143.3" cy="598.2" r="1.6"/>
<circle class="f" cx="114.5" cy="602.1" r="1.6"/>
<circle class="n" cx="159.1" cy="542.5" r="1.6"/>
<circle class="g" cx="158.8" cy="556.8" r="1.6"/>
<circle class="n" cx="220.0" cy="529.4" r="1.6"/>
<circle class="g" cx="162.9" cy="561.3" r="1.6"/>
<circle class="k" cx="141.5" cy="438.7" r="1.6"/>
<circle class="f" cx="133.0" cy="614.0" r="1.6"/>
<circle class="g" cx="173.6" cy="559.0" r="1.6"/>
<circle class="n" cx="248.7" cy="550.1" r="1.6"/>
<circle class="g" cx="160.3" cy="510.6" r="1.6"/>
<circle class="g" cx="161.6" cy="616.2" r="1.6"/>
<circle class="n" cx="206.6" cy="513.4" r="1.6"/>
<circle class="f" cx="114.3" cy="591.7" r="1.6"/>
<circle class="g" cx="164.7" cy="533.6" r="1.6"/>
<circle class="f" cx="148.8" cy="567.3" r="1.6"/>
<circle class="f" cx="166.3" cy="620.3" r="1.6"/>
<circle class="n" cx="212.1" cy="577.2" r="1.6"/>
<circle class="k" cx="162.1" cy="476.0" r="1.6"/>
<circle class="f" cx="131.5" cy="612.2" r="1.6"/>
<circle class="n" cx="184.5" cy="545.6" r="1.6"/>
<circle class="f" cx="117.8" cy="627.3" r="1.6"/>
<circle class="k" cx="173.2" cy="491.8" r="1.6"/>
<circle class="g" cx="171.0" cy="530.0" r="1.6"/>
<circle class="k" cx="166.8" cy="530.0" r="1.6"/>
<circle class="n" cx="203.2" cy="538.2" r="1.6"/>
<circle class="n" cx="206.0" cy="518.2" r="1.6"/>
<circle class="n" cx="233.5" cy="534.5" r="1.6"/>
<circle class="f" cx="156.0" cy="587.9" r="1.6"/>
<circle class="g" cx="118.9" cy="557.0" r="1.6"/>
<circle class="g" cx="152.8" cy="526.5" r="1.6"/>
<circle class="k" cx="136.6" cy="468.8" r="1.6"/>
<circle class="g" cx="143.2" cy="572.5" r="1.6"/>
<circle class="n" cx="222.4" cy="545.7" r="1.6"/>
<circle class="f" cx="189.3" cy="587.8" r="1.6"/>
<circle class="g" cx="145.1" cy="513.2" r="1.6"/>
<circle class="g" cx="126.3" cy="513.5" r="1.6"/>
<circle class="g" cx="153.9" cy="581.3" r="1.6"/>
<circle class="n" cx="223.0" cy="530.5" r="1.6"/>
<circle class="f" cx="142.1" cy="622.7" r="1.6"/>
<circle class="g" cx="182.1" cy="517.4" r="1.6"/>
<circle class="g" cx="182.9" cy="530.4" r="1.6"/>
<circle class="g" cx="126.9" cy="544.6" r="1.6"/>
<circle class="k" cx="169.3" cy="510.9" r="1.6"/>
<circle class="g" cx="158.0" cy="519.8" r="1.6"/>
<circle class="f" cx="178.8" cy="592.4" r="1.6"/>
<circle class="g" cx="164.7" cy="525.0" r="1.6"/>
<circle class="f" cx="138.0" cy="543.5" r="1.6"/>
<circle class="k" cx="211.8" cy="518.1" r="1.6"/>
<circle class="g" cx="202.2" cy="528.0" r="1.6"/>
<circle class="f" cx="162.4" cy="574.1" r="1.6"/>
<circle class="k" cx="150.4" cy="509.2" r="1.6"/>
<circle class="f" cx="164.7" cy="608.1" r="1.6"/>
<circle class="k" cx="187.0" cy="543.6" r="1.6"/>
<circle class="n" cx="204.7" cy="536.9" r="1.6"/>
<circle class="g" cx="151.9" cy="510.5" r="1.6"/>
<circle class="n" cx="220.6" cy="556.1" r="1.6"/>
<circle class="k" cx="74.0" cy="476.5" r="1.6"/>
<circle class="g" cx="151.0" cy="499.3" r="1.6"/>
<circle class="g" cx="169.5" cy="589.0" r="1.6"/>
<circle class="n" cx="208.6" cy="584.6" r="1.6"/>
<circle class="k" cx="146.8" cy="459.9" r="1.6"/>
<circle class="f" cx="173.3" cy="605.3" r="1.6"/>
<circle class="g" cx="170.6" cy="596.7" r="1.6"/>
<circle class="k" cx="159.8" cy="469.3" r="1.6"/>
<circle class="k" cx="135.5" cy="479.8" r="1.6"/>
<circle class="k" cx="123.9" cy="473.6" r="1.6"/>
<circle class="g" cx="183.7" cy="567.3" r="1.6"/>
<circle class="g" cx="123.1" cy="532.9" r="1.6"/>
<circle class="k" cx="148.0" cy="508.2" r="1.6"/>
<circle class="n" cx="220.1" cy="562.8" r="1.6"/>
<circle class="n" cx="166.9" cy="537.8" r="1.6"/>
<circle class="f" cx="143.9" cy="606.9" r="1.6"/>
<circle class="k" cx="184.8" cy="513.5" r="1.6"/>
<circle class="n" cx="202.4" cy="539.6" r="1.6"/>
<circle class="f" cx="137.3" cy="603.1" r="1.6"/>
<circle class="k" cx="183.6" cy="522.1" r="1.6"/>
<circle class="g" cx="153.5" cy="512.8" r="1.6"/>
<circle class="g" cx="129.0" cy="584.1" r="1.6"/>
<circle class="n" cx="193.0" cy="566.9" r="1.6"/>
<circle class="g" cx="160.7" cy="593.6" r="1.6"/>
<circle class="k" cx="77.2" cy="527.6" r="1.6"/>
<circle class="g" cx="198.6" cy="558.6" r="1.6"/>
<circle class="g" cx="186.7" cy="544.7" r="1.6"/>
<circle class="k" cx="70.7" cy="466.5" r="1.6"/>
<circle class="f" cx="165.9" cy="589.6" r="1.6"/>
<circle class="k" cx="116.1" cy="498.4" r="1.6"/>
<circle class="n" cx="179.3" cy="541.3" r="1.6"/>
<circle class="g" cx="172.9" cy="509.3" r="1.6"/>
<circle class="g" cx="142.8" cy="524.2" r="1.6"/>
<path d="M199.0,495.2 L196.5,495.6 L194.1,496.1 L191.7,496.7 L189.4,497.5 L187.1,498.4 L184.8,499.3 L182.6,500.4 L180.5,501.6 L178.4,502.9 L176.4,504.2 L174.5,505.7 L172.7,507.3 L170.9,508.9 L169.3,510.7 L167.7,512.5 L166.2,514.3 L164.9,516.3 L163.7,518.3 L162.5,520.3 L161.5,522.4 L160.6,524.6 L159.9,526.8 L159.2,529.0 L158.7,531.3 L158.3,533.5 L158.1,535.8 L157.9,538.1 L157.9,540.4 L158.0,542.7 L158.3,544.9 L158.7,547.2 L159.2,549.4 L159.8,551.6 L160.6,553.8 L161.4,555.9 L162.4,558.0 L163.6,560.0 L164.8,561.9 L166.1,563.8 L167.6,565.7 L169.1,567.4 L170.8,569.1 L172.5,570.7 L174.3,572.2 L176.2,573.6 L178.2,574.9 L180.3,576.1 L182.4,577.2 L184.6,578.2 L186.9,579.1 L189.2,579.9 L191.5,580.5 L193.9,581.1 L196.3,581.5 L198.7,581.8 L201.2,582.0 L203.7,582.1 L206.1,582.1 L208.6,581.9 L211.0,581.6 L213.5,581.2 L215.9,580.7 L218.3,580.1 L220.6,579.3 L222.9,578.4 L225.2,577.5 L227.4,576.4 L229.5,575.2 L231.6,573.9 L233.6,572.6 L235.5,571.1 L237.3,569.5 L239.1,567.9 L240.7,566.1 L242.3,564.3 L243.8,562.5 L245.1,560.5 L246.3,558.5 L247.5,556.5 L248.5,554.4 L249.4,552.2 L250.1,550.0 L250.8,547.8 L251.3,545.5 L251.7,543.3 L251.9,541.0 L252.1,538.7 L252.1,536.4 L252.0,534.1 L251.7,531.9 L251.3,529.6 L250.8,527.4 L250.2,525.2 L249.4,523.0 L248.6,520.9 L247.6,518.8 L246.4,516.8 L245.2,514.9 L243.9,513.0 L242.4,511.1 L240.9,509.4 L239.2,507.7 L237.5,506.1 L235.7,504.6 L233.8,503.2 L231.8,501.9 L229.7,500.7 L227.6,499.6 L225.4,498.6 L223.1,497.7 L220.8,496.9 L218.5,496.3 L216.1,495.7 L213.7,495.3 L211.3,495.0 L208.8,494.8 L206.3,494.7 L203.9,494.7 L201.4,494.9Z" fill="#6188AF" fill-opacity="0.09" stroke="#6188AF" stroke-width="1.75"/>
<path d="M98.1,554.2 L99.1,558.0 L100.3,561.8 L101.6,565.5 L103.1,569.1 L104.7,572.7 L106.4,576.1 L108.3,579.5 L110.4,582.8 L112.5,585.9 L114.8,588.9 L117.2,591.8 L119.7,594.5 L122.3,597.1 L125.1,599.5 L127.9,601.8 L130.7,603.9 L133.7,605.8 L136.7,607.5 L139.7,609.1 L142.9,610.4 L146.0,611.6 L149.2,612.6 L152.4,613.4 L155.6,613.9 L158.8,614.3 L162.0,614.5 L165.2,614.5 L168.4,614.2 L171.6,613.8 L174.7,613.1 L177.7,612.3 L180.7,611.2 L183.7,610.0 L186.5,608.6 L189.3,606.9 L192.0,605.1 L194.6,603.2 L197.1,601.0 L199.5,598.7 L201.8,596.2 L203.9,593.6 L205.9,590.8 L207.8,587.9 L209.6,584.8 L211.2,581.6 L212.6,578.3 L213.9,575.0 L215.0,571.5 L216.0,567.9 L216.9,564.2 L217.5,560.5 L218.0,556.7 L218.3,552.9 L218.5,549.1 L218.5,545.2 L218.3,541.3 L217.9,537.4 L217.4,533.5 L216.7,529.6 L215.9,525.8 L214.9,522.0 L213.7,518.2 L212.4,514.5 L210.9,510.9 L209.3,507.3 L207.6,503.9 L205.7,500.5 L203.6,497.2 L201.5,494.1 L199.2,491.1 L196.8,488.2 L194.3,485.5 L191.7,482.9 L188.9,480.5 L186.1,478.2 L183.3,476.1 L180.3,474.2 L177.3,472.5 L174.3,470.9 L171.1,469.6 L168.0,468.4 L164.8,467.4 L161.6,466.6 L158.4,466.1 L155.2,465.7 L152.0,465.5 L148.8,465.5 L145.6,465.8 L142.4,466.2 L139.3,466.9 L136.3,467.7 L133.3,468.8 L130.3,470.0 L127.5,471.4 L124.7,473.1 L122.0,474.9 L119.4,476.8 L116.9,479.0 L114.5,481.3 L112.2,483.8 L110.1,486.4 L108.1,489.2 L106.2,492.1 L104.4,495.2 L102.8,498.4 L101.4,501.7 L100.1,505.0 L99.0,508.5 L98.0,512.1 L97.1,515.8 L96.5,519.5 L96.0,523.3 L95.7,527.1 L95.5,530.9 L95.5,534.8 L95.7,538.7 L96.1,542.6 L96.6,546.5 L97.3,550.4Z" fill="#47A698" fill-opacity="0.09" stroke="#47A698" stroke-width="1.75"/>
<path d="M172.6,465.0 L169.6,463.0 L166.5,461.2 L163.3,459.4 L160.1,457.8 L156.9,456.2 L153.7,454.8 L150.5,453.5 L147.2,452.4 L144.0,451.3 L140.8,450.4 L137.6,449.6 L134.5,449.0 L131.4,448.5 L128.3,448.1 L125.4,447.9 L122.4,447.8 L119.6,447.8 L116.8,448.0 L114.2,448.3 L111.6,448.7 L109.2,449.3 L106.8,450.0 L104.6,450.9 L102.5,451.9 L100.5,453.0 L98.7,454.2 L97.0,455.6 L95.5,457.1 L94.1,458.7 L92.9,460.4 L91.8,462.2 L90.9,464.1 L90.1,466.1 L89.5,468.2 L89.1,470.3 L88.9,472.6 L88.8,474.9 L88.9,477.3 L89.2,479.7 L89.6,482.2 L90.2,484.7 L90.9,487.3 L91.9,489.9 L92.9,492.5 L94.2,495.2 L95.6,497.8 L97.1,500.5 L98.8,503.1 L100.7,505.7 L102.6,508.4 L104.8,510.9 L107.0,513.5 L109.3,516.0 L111.8,518.5 L114.4,520.9 L117.0,523.2 L119.8,525.5 L122.7,527.7 L125.6,529.8 L128.6,531.8 L131.6,533.8 L134.7,535.6 L137.9,537.4 L141.1,539.0 L144.3,540.6 L147.5,542.0 L150.7,543.3 L154.0,544.4 L157.2,545.5 L160.4,546.4 L163.6,547.2 L166.7,547.8 L169.8,548.3 L172.9,548.7 L175.8,548.9 L178.8,549.0 L181.6,549.0 L184.4,548.8 L187.0,548.5 L189.6,548.1 L192.0,547.5 L194.4,546.8 L196.6,545.9 L198.7,544.9 L200.7,543.8 L202.5,542.6 L204.2,541.2 L205.7,539.7 L207.1,538.1 L208.3,536.4 L209.4,534.6 L210.3,532.7 L211.1,530.7 L211.7,528.6 L212.1,526.5 L212.3,524.2 L212.4,521.9 L212.3,519.5 L212.0,517.1 L211.6,514.6 L211.0,512.1 L210.3,509.5 L209.3,506.9 L208.3,504.3 L207.0,501.6 L205.6,499.0 L204.1,496.3 L202.4,493.7 L200.5,491.1 L198.6,488.4 L196.4,485.9 L194.2,483.3 L191.9,480.8 L189.4,478.3 L186.8,475.9 L184.2,473.6 L181.4,471.3 L178.5,469.1 L175.6,467.0Z" fill="#E8A457" fill-opacity="0.09" stroke="#E8A457" stroke-width="1.75"/>
<path d="M122.6,569.9 L119.9,572.2 L117.3,574.7 L114.9,577.2 L112.5,579.8 L110.2,582.4 L108.0,585.1 L105.9,587.9 L103.9,590.6 L102.1,593.4 L100.4,596.2 L98.8,599.0 L97.4,601.8 L96.1,604.6 L94.9,607.4 L93.9,610.2 L93.0,612.9 L92.3,615.6 L91.8,618.3 L91.4,620.9 L91.1,623.4 L91.1,625.9 L91.1,628.3 L91.3,630.7 L91.7,632.9 L92.3,635.1 L93.0,637.1 L93.8,639.1 L94.8,641.0 L96.0,642.7 L97.2,644.3 L98.7,645.8 L100.2,647.2 L101.9,648.4 L103.8,649.5 L105.7,650.5 L107.8,651.3 L109.9,652.0 L112.2,652.5 L114.6,652.9 L117.1,653.2 L119.6,653.3 L122.3,653.3 L125.0,653.1 L127.8,652.7 L130.6,652.2 L133.5,651.6 L136.4,650.9 L139.4,649.9 L142.3,648.9 L145.3,647.7 L148.3,646.4 L151.4,645.0 L154.4,643.4 L157.3,641.7 L160.3,639.9 L163.2,638.0 L166.1,636.0 L168.9,633.9 L171.7,631.6 L174.4,629.3 L177.1,627.0 L179.7,624.5 L182.1,622.0 L184.5,619.4 L186.8,616.8 L189.0,614.1 L191.1,611.3 L193.1,608.6 L194.9,605.8 L196.6,603.0 L198.2,600.2 L199.6,597.4 L200.9,594.6 L202.1,591.8 L203.1,589.0 L204.0,586.3 L204.7,583.6 L205.2,580.9 L205.6,578.3 L205.9,575.8 L205.9,573.3 L205.9,570.9 L205.7,568.5 L205.3,566.3 L204.7,564.1 L204.0,562.1 L203.2,560.1 L202.2,558.2 L201.0,556.5 L199.8,554.9 L198.3,553.4 L196.8,552.0 L195.1,550.8 L193.2,549.7 L191.3,548.7 L189.2,547.9 L187.1,547.2 L184.8,546.7 L182.4,546.3 L179.9,546.0 L177.4,545.9 L174.7,545.9 L172.0,546.1 L169.2,546.5 L166.4,547.0 L163.5,547.6 L160.6,548.3 L157.6,549.3 L154.7,550.3 L151.7,551.5 L148.7,552.8 L145.6,554.2 L142.6,555.8 L139.7,557.5 L136.7,559.3 L133.8,561.2 L130.9,563.2 L128.1,565.3 L125.3,567.6Z" fill="#E55C62" fill-opacity="0.09" stroke="#E55C62" stroke-width="1.75"/>
<rect x="34.5" y="64.5" width="255.0" height="254.0" fill="none" stroke="#454545" stroke-width="1.15"/>
<rect x="380.5" y="64.5" width="254.0" height="254.0" fill="none" stroke="#454545" stroke-width="1.15"/>
<rect x="33.5" y="421.5" width="255.0" height="254.0" fill="none" stroke="#454545" stroke-width="1.15"/>
<line x1="66.3" y1="319.0" x2="66.3" y2="321.5" stroke="#ccc" stroke-width="0.6"/>
<text x="68.7" y="333.9" text-anchor="middle" font-size="13" fill="#000" font-family="Liberation Sans, Arial, sans-serif">−2</text>
<line x1="120.9" y1="319.0" x2="120.9" y2="321.5" stroke="#ccc" stroke-width="0.6"/>
<text x="123.3" y="333.9" text-anchor="middle" font-size="13" fill="#000" font-family="Liberation Sans, Arial, sans-serif">−1</text>
<line x1="175.4" y1="319.0" x2="175.4" y2="321.5" stroke="#ccc" stroke-width="0.6"/>
<text x="176.5" y="333.9" text-anchor="middle" font-size="13" fill="#000" font-family="Liberation Sans, Arial, sans-serif">0</text>
<line x1="229.9" y1="319.0" x2="229.9" y2="321.5" stroke="#ccc" stroke-width="0.6"/>
<text x="231.0" y="333.9" text-anchor="middle" font-size="13" fill="#000" font-family="Liberation Sans, Arial, sans-serif">1</text>
<line x1="284.5" y1="319.0" x2="284.5" y2="321.5" stroke="#ccc" stroke-width="0.6"/>
<text x="285.6" y="333.9" text-anchor="middle" font-size="13" fill="#000" font-family="Liberation Sans, Arial, sans-serif">2</text>
<line x1="30.8" y1="272.3" x2="34.0" y2="272.3" stroke="#777" stroke-width="0.9"/>
<text x="28.6" y="277.2" text-anchor="end" font-size="13" fill="#000" font-family="Liberation Sans, Arial, sans-serif">−1</text>
<line x1="30.8" y1="203.2" x2="34.0" y2="203.2" stroke="#777" stroke-width="0.9"/>
<text x="28.6" y="208.1" text-anchor="end" font-size="13" fill="#000" font-family="Liberation Sans, Arial, sans-serif">0</text>
<line x1="30.8" y1="134.1" x2="34.0" y2="134.1" stroke="#777" stroke-width="0.9"/>
<text x="28.6" y="139.0" text-anchor="end" font-size="13" fill="#000" font-family="Liberation Sans, Arial, sans-serif">1</text>
<line x1="392.2" y1="319.0" x2="392.2" y2="321.5" stroke="#ccc" stroke-width="0.6"/>
<text x="394.6" y="333.9" text-anchor="middle" font-size="13" fill="#000" font-family="Liberation Sans, Arial, sans-serif">−2</text>
<line x1="450.1" y1="319.0" x2="450.1" y2="321.5" stroke="#ccc" stroke-width="0.6"/>
<text x="452.5" y="333.9" text-anchor="middle" font-size="13" fill="#000" font-family="Liberation Sans, Arial, sans-serif">−1</text>
<line x1="508.0" y1="319.0" x2="508.0" y2="321.5" stroke="#ccc" stroke-width="0.6"/>
<text x="509.1" y="333.9" text-anchor="middle" font-size="13" fill="#000" font-family="Liberation Sans, Arial, sans-serif">0</text>
<line x1="565.9" y1="319.0" x2="565.9" y2="321.5" stroke="#ccc" stroke-width="0.6"/>
<text x="567.0" y="333.9" text-anchor="middle" font-size="13" fill="#000" font-family="Liberation Sans, Arial, sans-serif">1</text>
<line x1="623.8" y1="319.0" x2="623.8" y2="321.5" stroke="#ccc" stroke-width="0.6"/>
<text x="624.9" y="333.9" text-anchor="middle" font-size="13" fill="#000" font-family="Liberation Sans, Arial, sans-serif">2</text>
<line x1="376.8" y1="307.2" x2="380.0" y2="307.2" stroke="#777" stroke-width="0.9"/>
<text x="374.6" y="312.2" text-anchor="end" font-size="13" fill="#000" font-family="Liberation Sans, Arial, sans-serif">−2</text>
<line x1="376.8" y1="249.5" x2="380.0" y2="249.5" stroke="#777" stroke-width="0.9"/>
<text x="374.6" y="254.4" text-anchor="end" font-size="13" fill="#000" font-family="Liberation Sans, Arial, sans-serif">−1</text>
<line x1="376.8" y1="191.8" x2="380.0" y2="191.8" stroke="#777" stroke-width="0.9"/>
<text x="374.6" y="196.8" text-anchor="end" font-size="13" fill="#000" font-family="Liberation Sans, Arial, sans-serif">0</text>
<line x1="376.8" y1="134.1" x2="380.0" y2="134.1" stroke="#777" stroke-width="0.9"/>
<text x="374.6" y="139.1" text-anchor="end" font-size="13" fill="#000" font-family="Liberation Sans, Arial, sans-serif">1</text>
<line x1="376.8" y1="76.4" x2="380.0" y2="76.4" stroke="#777" stroke-width="0.9"/>
<text x="374.6" y="81.4" text-anchor="end" font-size="13" fill="#000" font-family="Liberation Sans, Arial, sans-serif">2</text>
<line x1="45.6" y1="676.0" x2="45.6" y2="678.5" stroke="#ccc" stroke-width="0.6"/>
<text x="48.0" y="690.9" text-anchor="middle" font-size="13" fill="#000" font-family="Liberation Sans, Arial, sans-serif">−2</text>
<line x1="103.6" y1="676.0" x2="103.6" y2="678.5" stroke="#ccc" stroke-width="0.6"/>
<text x="106.0" y="690.9" text-anchor="middle" font-size="13" fill="#000" font-family="Liberation Sans, Arial, sans-serif">−1</text>
<line x1="161.6" y1="676.0" x2="161.6" y2="678.5" stroke="#ccc" stroke-width="0.6"/>
<text x="162.7" y="690.9" text-anchor="middle" font-size="13" fill="#000" font-family="Liberation Sans, Arial, sans-serif">0</text>
<line x1="219.6" y1="676.0" x2="219.6" y2="678.5" stroke="#ccc" stroke-width="0.6"/>
<text x="220.7" y="690.9" text-anchor="middle" font-size="13" fill="#000" font-family="Liberation Sans, Arial, sans-serif">1</text>
<line x1="277.6" y1="676.0" x2="277.6" y2="678.5" stroke="#ccc" stroke-width="0.6"/>
<text x="278.7" y="690.9" text-anchor="middle" font-size="13" fill="#000" font-family="Liberation Sans, Arial, sans-serif">2</text>
<line x1="29.8" y1="664.2" x2="33.0" y2="664.2" stroke="#777" stroke-width="0.9"/>
<text x="27.6" y="669.1" text-anchor="end" font-size="13" fill="#000" font-family="Liberation Sans, Arial, sans-serif">−2</text>
<line x1="29.8" y1="606.5" x2="33.0" y2="606.5" stroke="#777" stroke-width="0.9"/>
<text x="27.6" y="611.5" text-anchor="end" font-size="13" fill="#000" font-family="Liberation Sans, Arial, sans-serif">−1</text>
<line x1="29.8" y1="548.8" x2="33.0" y2="548.8" stroke="#777" stroke-width="0.9"/>
<text x="27.6" y="553.8" text-anchor="end" font-size="13" fill="#000" font-family="Liberation Sans, Arial, sans-serif">0</text>
<line x1="29.8" y1="491.1" x2="33.0" y2="491.1" stroke="#777" stroke-width="0.9"/>
<text x="27.6" y="496.0" text-anchor="end" font-size="13" fill="#000" font-family="Liberation Sans, Arial, sans-serif">1</text>
<line x1="29.8" y1="433.4" x2="33.0" y2="433.4" stroke="#777" stroke-width="0.9"/>
<text x="27.6" y="438.3" text-anchor="end" font-size="13" fill="#000" font-family="Liberation Sans, Arial, sans-serif">2</text>
<text x="162" y="350.2" text-anchor="middle" font-size="13.7" fill="#000" font-family="Liberation Sans, Arial, sans-serif">FDA1 (66.48%)</text>
<text x="508" y="350.2" text-anchor="middle" font-size="13.7" fill="#000" font-family="Liberation Sans, Arial, sans-serif">FDA2 (23.39%)</text>
<text x="161.5" y="707.3" text-anchor="middle" font-size="13.7" fill="#000" font-family="Liberation Sans, Arial, sans-serif">FDA3 (10.14%)</text>
<text transform="translate(12.2,191.3) rotate(-90)" text-anchor="middle" font-size="13.7" fill="#000" font-family="Liberation Sans, Arial, sans-serif">FDA2 (23.39%)</text>
<text transform="translate(356.6,191.6) rotate(-90)" text-anchor="middle" font-size="13.7" fill="#000" font-family="Liberation Sans, Arial, sans-serif">FDA3 (10.14%)</text>
<text transform="translate(12.1,548.8) rotate(-90)" text-anchor="middle" font-size="13.7" fill="#000" font-family="Liberation Sans, Arial, sans-serif">FDA1 (66.48%)</text>
<text x="11.1" y="13.5" font-size="17.5" fill="#000" font-family="Liberation Sans, Arial, sans-serif">(a)</text>
<text x="359.6" y="13.5" font-size="17.5" fill="#000" font-family="Liberation Sans, Arial, sans-serif">(b)</text>
<text x="14.0" y="370.7" font-size="17.5" fill="#000" font-family="Liberation Sans, Arial, sans-serif">(c)</text>
<rect x="453.5" y="468.5" width="102" height="124.5" fill="#fff" stroke="#333" stroke-width="1.15"/>
<text x="463.4" y="488.2" font-size="12" fill="#000" font-family="Liberation Sans, Arial, sans-serif">Register</text>
<rect x="464.6" y="500.8" width="17.6" height="17.6" fill="#6188AF" fill-opacity="0.09" stroke="#6188AF" stroke-width="1.5"/>
<circle cx="473.4" cy="509.6" r="2.1" fill="#6188AF" fill-opacity="0.288"/>
<text x="493.7" y="513.9" font-size="12" fill="#000" font-family="Liberation Sans, Arial, sans-serif">News</text>
<rect x="464.6" y="522.1" width="17.6" height="17.6" fill="#47A698" fill-opacity="0.09" stroke="#47A698" stroke-width="1.5"/>
<circle cx="473.4" cy="530.9" r="2.1" fill="#47A698" fill-opacity="0.288"/>
<text x="493.7" y="535.2" font-size="12" fill="#000" font-family="Liberation Sans, Arial, sans-serif">General</text>
<rect x="464.6" y="543.4" width="17.6" height="17.6" fill="#E8A457" fill-opacity="0.09" stroke="#E8A457" stroke-width="1.5"/>
<circle cx="473.4" cy="552.2" r="2.1" fill="#E8A457" fill-opacity="0.288"/>
<text x="493.7" y="556.5" font-size="12" fill="#000" font-family="Liberation Sans, Arial, sans-serif">Academic</text>
<rect x="464.6" y="564.7" width="17.6" height="17.6" fill="#E55C62" fill-opacity="0.09" stroke="#E55C62" stroke-width="1.5"/>
<circle cx="473.4" cy="573.5" r="2.1" fill="#E55C62" fill-opacity="0.288"/>
<text x="493.7" y="577.8" font-size="12" fill="#000" font-family="Liberation Sans, Arial, sans-serif">Fiction</text>
</svg></body></html>
